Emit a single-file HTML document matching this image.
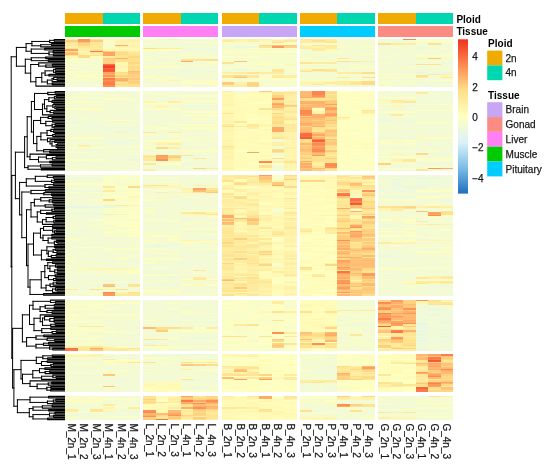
<!DOCTYPE html>
<html><head><meta charset="utf-8"><style>
html,body{margin:0;padding:0;background:#fff;}
body{width:550px;height:473px;overflow:hidden;position:relative;}
svg{position:absolute;left:0;top:0;font-family:"Liberation Sans",Arial,sans-serif;}
.lab{font-size:10px;fill:#1a1a1a;stroke:#1a1a1a;stroke-width:0.25px;}
.bt{font-size:10px;font-weight:bold;fill:#000;}
.lt{font-size:10px;fill:#1a1a1a;stroke:#1a1a1a;stroke-width:0.25px;}
</style></head><body>
<svg width="550" height="473" viewBox="0 0 550 473">
<g shape-rendering="crispEdges"><path fill="#feeda0" d="M65.0 38.90h12.5v1.45h-12.5zM221.6 40.35h12.5v1.45h-12.5zM271.6 40.35h12.5v1.45h-12.5zM299.9 40.35h12.5v1.45h-12.5zM299.9 41.80h12.5v1.45h-12.5zM90.0 47.61h12.5v1.45h-12.5zM168.3 47.61h12.5v1.45h-12.5zM312.4 49.06h12.5v1.45h-12.5zM102.5 56.32h12.5v1.45h-12.5zM312.4 62.12h12.5v1.45h-12.5zM234.1 72.28h12.5v1.45h-12.5zM259.1 72.28h12.5v1.45h-12.5zM337.4 72.28h25.0v1.45h-25.0zM271.6 75.19h12.5v1.45h-12.5zM284.1 76.64h12.5v1.45h-12.5zM349.9 80.99h12.5v1.45h-12.5zM324.9 82.45h12.5v1.45h-12.5zM234.1 85.35h12.5v1.45h-12.5zM415.7 92.35h12.5v1.45h-12.5zM284.1 101.06h12.5v1.45h-12.5zM390.7 101.06h12.5v1.45h-12.5zM284.1 109.76h12.5v1.45h-12.5zM362.4 111.21h12.5v1.45h-12.5zM234.1 125.72h12.5v1.45h-12.5zM284.1 125.72h12.5v1.45h-12.5zM168.3 131.53h12.5v1.45h-12.5zM221.6 147.49h12.5v1.45h-12.5zM324.9 154.74h12.5v1.45h-12.5zM312.4 164.90h12.5v1.45h-12.5zM205.8 167.80h12.5v1.45h-12.5zM246.6 178.84h12.5v1.45h-12.5zM259.1 183.17h12.5v1.45h-12.5zM234.1 188.95h12.5v1.45h-12.5zM221.6 199.07h12.5v1.45h-12.5zM234.1 201.96h12.5v1.45h-12.5zM234.1 204.85h12.5v1.45h-12.5zM246.6 210.63h12.5v1.45h-12.5zM221.6 212.08h12.5v1.45h-12.5zM246.6 212.08h12.5v1.45h-12.5zM259.1 214.97h12.5v1.45h-12.5zM362.4 214.97h12.5v1.45h-12.5zM234.1 220.75h12.5v1.45h-12.5zM415.7 220.75h12.5v1.45h-12.5zM324.9 226.53h12.5v1.45h-12.5zM299.9 229.42h12.5v1.45h-12.5zM324.9 229.42h12.5v1.45h-12.5zM271.6 230.86h12.5v1.45h-12.5zM324.9 232.31h12.5v1.45h-12.5zM221.6 233.75h12.5v1.45h-12.5zM234.1 235.20h12.5v1.45h-12.5zM234.1 236.65h12.5v1.45h-12.5zM234.1 239.54h12.5v1.45h-12.5zM246.6 240.98h12.5v1.45h-12.5zM234.1 242.43h12.5v1.45h-12.5zM221.6 249.65h12.5v1.45h-12.5zM221.6 252.54h12.5v1.45h-12.5zM284.1 255.43h12.5v1.45h-12.5zM284.1 258.32h12.5v1.45h-12.5zM234.1 261.21h12.5v1.45h-12.5zM246.6 269.89h25.0v1.45h-25.0zM271.6 271.33h12.5v1.45h-12.5zM312.4 274.22h12.5v1.45h-12.5zM440.7 275.67h12.5v1.45h-12.5zM234.1 278.56h12.5v1.45h-12.5zM259.1 280.00h12.5v1.45h-12.5zM415.7 281.45h12.5v1.45h-12.5zM259.1 282.89h12.5v1.45h-12.5zM246.6 284.34h12.5v1.45h-12.5zM259.1 285.78h12.5v1.45h-12.5zM246.6 288.67h12.5v1.45h-12.5zM246.6 290.12h12.5v1.45h-12.5zM246.6 293.01h12.5v1.45h-12.5zM271.6 302.41h12.5v1.46h-12.5zM337.4 309.70h12.5v1.46h-12.5zM362.4 309.70h12.5v1.46h-12.5zM77.5 325.73h25.0v1.46h-25.0zM180.8 327.19h12.5v1.46h-12.5zM205.8 327.19h12.5v1.46h-12.5zM155.8 338.84h12.5v1.46h-12.5zM390.7 344.67h12.5v1.46h-12.5zM312.4 346.13h12.5v1.46h-12.5zM77.5 347.59h12.5v1.46h-12.5zM102.5 347.59h12.5v1.46h-12.5zM378.2 349.04h12.5v1.46h-12.5zM102.5 358.69h12.5v1.43h-12.5zM390.7 362.98h12.5v1.43h-12.5zM349.9 365.85h12.5v1.43h-12.5zM415.7 368.71h12.5v1.43h-12.5zM349.9 371.57h25.0v1.43h-25.0zM349.9 374.43h12.5v1.43h-12.5zM324.9 380.15h12.5v1.43h-12.5zM415.7 380.15h12.5v1.43h-12.5zM390.7 381.58h12.5v1.43h-12.5zM168.3 401.51h12.5v1.45h-12.5zM127.5 407.32h12.5v1.45h-12.5zM168.3 407.32h12.5v1.45h-12.5zM65.0 410.23h12.5v1.45h-12.5zM180.8 413.14h12.5v1.45h-12.5zM205.8 418.95h12.5v1.45h-12.5z"/><path fill="#fd9457" d="M77.5 38.90h12.5v1.45h-12.5zM102.5 75.19h12.5v1.45h-12.5zM312.4 95.25h12.5v1.45h-12.5zM299.9 114.11h12.5v1.45h-12.5zM312.4 144.58h12.5v1.45h-12.5zM324.9 166.35h12.5v1.45h-12.5zM362.4 190.40h12.5v1.45h-12.5zM415.7 299.50h12.5v1.46h-12.5zM403.2 308.24h12.5v1.46h-12.5zM390.7 322.81h12.5v1.46h-12.5zM271.6 333.01h12.5v1.46h-12.5zM193.3 407.32h12.5v1.45h-12.5zM168.3 414.59h12.5v1.45h-12.5z"/><path fill="#fee797" d="M90.0 38.90h12.5v1.45h-12.5zM284.1 40.35h12.5v1.45h-12.5zM90.0 43.25h12.5v1.45h-12.5zM65.0 44.71h12.5v1.45h-12.5zM77.5 46.16h25.0v1.45h-25.0zM90.0 51.96h12.5v1.45h-12.5zM127.5 51.96h12.5v1.45h-12.5zM271.6 70.83h12.5v1.45h-12.5zM349.9 83.90h12.5v1.45h-12.5zM284.1 92.35h12.5v1.45h-12.5zM271.6 93.80h12.5v1.45h-12.5zM324.9 93.80h12.5v1.45h-12.5zM390.7 99.61h12.5v1.45h-12.5zM403.2 101.06h12.5v1.45h-12.5zM362.4 109.76h12.5v1.45h-12.5zM271.6 114.11h12.5v1.45h-12.5zM234.1 121.37h12.5v1.45h-12.5zM271.6 124.27h12.5v1.45h-12.5zM324.9 127.17h12.5v1.45h-12.5zM312.4 130.07h12.5v1.45h-12.5zM143.3 131.53h12.5v1.45h-12.5zM324.9 148.94h12.5v1.45h-12.5zM324.9 153.29h12.5v1.45h-12.5zM180.8 154.74h12.5v1.45h-12.5zM143.3 159.09h12.5v1.45h-12.5zM168.3 159.09h12.5v1.45h-12.5zM324.9 161.99h12.5v1.45h-12.5zM362.4 174.50h12.5v1.45h-12.5zM349.9 177.39h12.5v1.45h-12.5zM337.4 180.28h12.5v1.45h-12.5zM246.6 181.73h12.5v1.45h-12.5zM362.4 181.73h12.5v1.45h-12.5zM337.4 184.62h12.5v1.45h-12.5zM205.8 188.95h12.5v1.45h-12.5zM221.6 193.29h12.5v1.45h-12.5zM284.1 197.62h12.5v1.45h-12.5zM337.4 203.40h12.5v1.45h-12.5zM246.6 204.85h12.5v1.45h-12.5zM337.4 206.30h12.5v1.45h-12.5zM221.6 207.74h12.5v1.45h-12.5zM337.4 216.41h12.5v1.45h-12.5zM221.6 227.97h12.5v1.45h-12.5zM221.6 235.20h12.5v1.45h-12.5zM246.6 235.20h12.5v1.45h-12.5zM221.6 240.98h25.0v1.45h-25.0zM259.1 243.87h12.5v1.45h-12.5zM234.1 246.76h12.5v1.45h-12.5zM259.1 252.54h12.5v1.45h-12.5zM234.1 253.99h12.5v1.45h-12.5zM246.6 259.77h12.5v1.45h-12.5zM221.6 268.44h12.5v1.45h-12.5zM246.6 274.22h12.5v1.45h-12.5zM221.6 275.67h12.5v1.45h-12.5zM193.3 278.56h12.5v1.45h-12.5zM234.1 280.00h12.5v1.45h-12.5zM246.6 281.45h25.0v1.45h-25.0zM234.1 282.89h25.0v1.45h-25.0zM415.7 282.89h12.5v1.45h-12.5zM221.6 287.23h12.5v1.45h-12.5zM221.6 288.67h12.5v1.45h-12.5zM127.5 293.01h12.5v1.45h-12.5zM440.7 302.41h12.5v1.46h-12.5zM378.2 327.19h12.5v1.46h-12.5zM390.7 328.64h12.5v1.46h-12.5zM284.1 335.93h12.5v1.46h-12.5zM312.4 337.39h12.5v1.46h-12.5zM403.2 337.39h12.5v1.46h-12.5zM403.2 341.76h12.5v1.46h-12.5zM378.2 343.21h12.5v1.46h-12.5zM143.3 344.67h12.5v1.46h-12.5zM90.0 346.13h12.5v1.46h-12.5zM403.2 346.13h12.5v1.46h-12.5zM127.5 347.59h12.5v1.46h-12.5zM77.5 349.04h12.5v1.46h-12.5zM115.0 349.04h12.5v1.46h-12.5zM234.1 365.85h12.5v1.43h-12.5zM337.4 367.28h12.5v1.43h-12.5zM349.9 370.14h12.5v1.43h-12.5zM337.4 371.57h12.5v1.43h-12.5zM221.6 373.00h12.5v1.43h-12.5zM284.1 378.72h12.5v1.43h-12.5zM440.7 385.88h12.5v1.43h-12.5zM428.2 388.74h12.5v1.43h-12.5zM193.3 395.70h12.5v1.45h-12.5zM180.8 405.87h12.5v1.45h-12.5zM90.0 410.23h12.5v1.45h-12.5zM378.2 411.68h12.5v1.45h-12.5z"/><path fill="#fffbb9" d="M102.5 38.90h12.5v1.45h-12.5zM102.5 40.35h12.5v1.45h-12.5zM77.5 73.74h12.5v1.45h-12.5zM155.8 79.54h12.5v1.45h-12.5zM193.3 79.54h12.5v1.45h-12.5zM205.8 82.45h12.5v1.45h-12.5zM246.6 90.90h12.5v1.45h-12.5zM362.4 90.90h12.5v1.45h-12.5zM259.1 93.80h12.5v1.45h-12.5zM234.1 95.25h25.0v1.45h-25.0zM259.1 98.15h12.5v1.45h-12.5zM234.1 99.61h37.5v1.45h-37.5zM180.8 101.06h12.5v1.45h-12.5zM234.1 105.41h37.5v1.45h-37.5zM246.6 106.86h12.5v1.45h-12.5zM90.0 108.31h12.5v1.45h-12.5zM234.1 108.31h25.0v1.45h-25.0zM440.7 109.76h12.5v1.45h-12.5zM246.6 112.66h12.5v1.45h-12.5zM234.1 114.11h12.5v1.45h-12.5zM234.1 117.02h12.5v1.45h-12.5zM259.1 117.02h12.5v1.45h-12.5zM234.1 119.92h12.5v1.45h-12.5zM259.1 121.37h12.5v1.45h-12.5zM246.6 122.82h12.5v1.45h-12.5zM234.1 127.17h12.5v1.45h-12.5zM234.1 130.07h12.5v1.45h-12.5zM259.1 131.53h12.5v1.45h-12.5zM246.6 132.98h25.0v1.45h-25.0zM234.1 134.43h12.5v1.45h-12.5zM168.3 135.88h12.5v1.45h-12.5zM246.6 135.88h12.5v1.45h-12.5zM234.1 137.33h12.5v1.45h-12.5zM259.1 137.33h12.5v1.45h-12.5zM415.7 137.33h12.5v1.45h-12.5zM246.6 138.78h12.5v1.45h-12.5zM390.7 140.23h12.5v1.45h-12.5zM234.1 143.13h25.0v1.45h-25.0zM234.1 144.58h12.5v1.45h-12.5zM259.1 144.58h12.5v1.45h-12.5zM259.1 146.03h12.5v1.45h-12.5zM234.1 147.49h25.0v1.45h-25.0zM362.4 147.49h12.5v1.45h-12.5zM259.1 148.94h12.5v1.45h-12.5zM234.1 151.84h12.5v1.45h-12.5zM234.1 153.29h12.5v1.45h-12.5zM234.1 156.19h12.5v1.45h-12.5zM259.1 156.19h12.5v1.45h-12.5zM234.1 159.09h12.5v1.45h-12.5zM246.6 160.54h12.5v1.45h-12.5zM259.1 163.45h12.5v1.45h-12.5zM349.9 164.90h12.5v1.45h-12.5zM234.1 166.35h25.0v1.45h-25.0zM299.9 178.84h12.5v1.45h-12.5zM234.1 180.28h12.5v1.45h-12.5zM312.4 181.73h25.0v1.45h-25.0zM299.9 183.17h12.5v1.45h-12.5zM324.9 183.17h12.5v1.45h-12.5zM324.9 184.62h12.5v1.45h-12.5zM234.1 187.51h12.5v1.45h-12.5zM299.9 187.51h12.5v1.45h-12.5zM312.4 188.95h12.5v1.45h-12.5zM221.6 190.40h12.5v1.45h-12.5zM299.9 190.40h12.5v1.45h-12.5zM324.9 190.40h12.5v1.45h-12.5zM312.4 191.84h25.0v1.45h-25.0zM312.4 193.29h25.0v1.45h-25.0zM299.9 194.73h12.5v1.45h-12.5zM324.9 194.73h12.5v1.45h-12.5zM271.6 196.18h12.5v1.45h-12.5zM299.9 196.18h25.0v1.45h-25.0zM221.6 197.62h12.5v1.45h-12.5zM299.9 197.62h12.5v1.45h-12.5zM324.9 197.62h12.5v1.45h-12.5zM155.8 199.07h12.5v1.45h-12.5zM299.9 199.07h12.5v1.45h-12.5zM259.1 200.51h12.5v1.45h-12.5zM299.9 200.51h12.5v1.45h-12.5zM259.1 201.96h25.0v1.45h-25.0zM299.9 203.40h12.5v1.45h-12.5zM299.9 207.74h12.5v1.45h-12.5zM324.9 207.74h12.5v1.45h-12.5zM284.1 209.19h12.5v1.45h-12.5zM299.9 209.19h25.0v1.45h-25.0zM299.9 210.63h37.5v1.45h-37.5zM299.9 212.08h12.5v1.45h-12.5zM299.9 213.52h37.5v1.45h-37.5zM234.1 216.41h12.5v1.45h-12.5zM299.9 216.41h12.5v1.45h-12.5zM390.7 219.30h12.5v1.45h-12.5zM312.4 220.75h12.5v1.45h-12.5zM299.9 222.19h25.0v1.45h-25.0zM324.9 223.64h12.5v1.45h-12.5zM312.4 225.08h12.5v1.45h-12.5zM271.6 226.53h12.5v1.45h-12.5zM312.4 229.42h12.5v1.45h-12.5zM312.4 230.86h12.5v1.45h-12.5zM403.2 230.86h12.5v1.45h-12.5zM143.3 235.20h12.5v1.45h-12.5zM324.9 239.54h12.5v1.45h-12.5zM155.8 240.98h12.5v1.45h-12.5zM180.8 240.98h12.5v1.45h-12.5zM299.9 242.43h12.5v1.45h-12.5zM271.6 245.32h12.5v1.45h-12.5zM312.4 245.32h12.5v1.45h-12.5zM284.1 248.21h12.5v1.45h-12.5zM299.9 248.21h12.5v1.45h-12.5zM312.4 251.10h12.5v1.45h-12.5zM440.7 251.10h12.5v1.45h-12.5zM284.1 259.77h12.5v1.45h-12.5zM299.9 259.77h12.5v1.45h-12.5zM324.9 259.77h12.5v1.45h-12.5zM312.4 262.66h12.5v1.45h-12.5zM324.9 267.00h12.5v1.45h-12.5zM312.4 268.44h12.5v1.45h-12.5zM259.1 272.78h12.5v1.45h-12.5zM299.9 274.22h12.5v1.45h-12.5zM259.1 275.67h12.5v1.45h-12.5zM324.9 275.67h12.5v1.45h-12.5zM284.1 278.56h12.5v1.45h-12.5zM312.4 278.56h12.5v1.45h-12.5zM324.9 280.00h12.5v1.45h-12.5zM284.1 282.89h12.5v1.45h-12.5zM193.3 284.34h12.5v1.45h-12.5zM284.1 284.34h12.5v1.45h-12.5zM312.4 284.34h12.5v1.45h-12.5zM299.9 288.67h12.5v1.45h-12.5zM271.6 291.56h25.0v1.45h-25.0zM299.9 291.56h37.5v1.45h-37.5zM271.6 294.45h12.5v1.45h-12.5zM299.9 299.50h12.5v1.46h-12.5zM312.4 300.96h12.5v1.46h-12.5zM312.4 302.41h25.0v1.46h-25.0zM324.9 306.79h12.5v1.46h-12.5zM299.9 309.70h25.0v1.46h-25.0zM324.9 314.07h12.5v1.46h-12.5zM299.9 315.53h25.0v1.46h-25.0zM324.9 316.99h12.5v1.46h-12.5zM299.9 318.44h12.5v1.46h-12.5zM299.9 319.90h12.5v1.46h-12.5zM324.9 319.90h12.5v1.46h-12.5zM324.9 321.36h12.5v1.46h-12.5zM299.9 324.27h12.5v1.46h-12.5zM299.9 325.73h12.5v1.46h-12.5zM299.9 327.19h12.5v1.46h-12.5zM312.4 328.64h12.5v1.46h-12.5zM312.4 341.76h12.5v1.46h-12.5zM324.9 347.59h12.5v1.46h-12.5zM390.7 354.40h25.0v1.43h-25.0zM378.2 355.83h12.5v1.43h-12.5zM180.8 360.12h12.5v1.43h-12.5zM205.8 360.12h12.5v1.43h-12.5zM102.5 361.55h12.5v1.43h-12.5zM378.2 362.98h12.5v1.43h-12.5zM246.6 364.42h25.0v1.43h-25.0zM284.1 364.42h12.5v1.43h-12.5zM271.6 365.85h12.5v1.43h-12.5zM378.2 365.85h12.5v1.43h-12.5zM259.1 367.28h12.5v1.43h-12.5zM390.7 367.28h25.0v1.43h-25.0zM390.7 368.71h12.5v1.43h-12.5zM259.1 370.14h12.5v1.43h-12.5zM403.2 375.86h12.5v1.43h-12.5zM403.2 377.29h12.5v1.43h-12.5zM221.6 378.72h12.5v1.43h-12.5zM246.6 381.58h25.0v1.43h-25.0zM143.3 383.02h12.5v1.43h-12.5zM155.8 384.45h12.5v1.43h-12.5zM168.3 385.88h12.5v1.43h-12.5zM234.1 385.88h12.5v1.43h-12.5zM234.1 387.31h12.5v1.43h-12.5zM349.9 387.31h12.5v1.43h-12.5zM143.3 388.74h12.5v1.43h-12.5zM143.3 390.17h12.5v1.43h-12.5zM284.1 390.17h12.5v1.43h-12.5zM390.7 390.17h12.5v1.43h-12.5zM77.5 397.15h12.5v1.45h-12.5zM234.1 398.61h12.5v1.45h-12.5zM234.1 401.51h12.5v1.45h-12.5zM221.6 402.96h12.5v1.45h-12.5zM271.6 402.96h12.5v1.45h-12.5zM324.9 402.96h12.5v1.45h-12.5zM234.1 404.42h12.5v1.45h-12.5zM271.6 404.42h12.5v1.45h-12.5zM143.3 405.87h12.5v1.45h-12.5zM221.6 405.87h12.5v1.45h-12.5zM143.3 407.32h12.5v1.45h-12.5zM284.1 407.32h12.5v1.45h-12.5zM403.2 408.78h12.5v1.45h-12.5zM234.1 414.59h12.5v1.45h-12.5zM246.6 416.04h12.5v1.45h-12.5zM271.6 416.04h12.5v1.45h-12.5zM246.6 417.49h12.5v1.45h-12.5zM271.6 417.49h12.5v1.45h-12.5zM246.6 418.95h25.0v1.45h-25.0zM284.1 418.95h12.5v1.45h-12.5z"/><path fill="#fff6b0" d="M115.0 38.90h12.5v1.45h-12.5zM155.8 38.90h12.5v1.45h-12.5zM127.5 41.80h12.5v1.45h-12.5zM115.0 43.25h12.5v1.45h-12.5zM299.9 44.71h12.5v1.45h-12.5zM127.5 49.06h12.5v1.45h-12.5zM77.5 50.51h12.5v1.45h-12.5zM115.0 62.12h12.5v1.45h-12.5zM115.0 66.48h12.5v1.45h-12.5zM115.0 70.83h12.5v1.45h-12.5zM299.9 80.99h12.5v1.45h-12.5zM324.9 80.99h12.5v1.45h-12.5zM324.9 83.90h12.5v1.45h-12.5zM221.6 93.80h12.5v1.45h-12.5zM221.6 95.25h12.5v1.45h-12.5zM221.6 98.15h12.5v1.45h-12.5zM221.6 99.61h12.5v1.45h-12.5zM403.2 99.61h12.5v1.45h-12.5zM221.6 102.51h12.5v1.45h-12.5zM155.8 105.41h12.5v1.45h-12.5zM221.6 105.41h12.5v1.45h-12.5zM390.7 105.41h12.5v1.45h-12.5zM155.8 106.86h12.5v1.45h-12.5zM221.6 118.47h12.5v1.45h-12.5zM337.4 118.47h12.5v1.45h-12.5zM284.1 121.37h12.5v1.45h-12.5zM259.1 124.27h12.5v1.45h-12.5zM234.1 128.62h12.5v1.45h-12.5zM259.1 128.62h12.5v1.45h-12.5zM221.6 134.43h12.5v1.45h-12.5zM221.6 137.33h12.5v1.45h-12.5zM221.6 138.78h12.5v1.45h-12.5zM168.3 141.68h12.5v1.45h-12.5zM284.1 143.13h12.5v1.45h-12.5zM221.6 150.39h12.5v1.45h-12.5zM284.1 150.39h12.5v1.45h-12.5zM284.1 153.29h12.5v1.45h-12.5zM221.6 154.74h12.5v1.45h-12.5zM284.1 156.19h12.5v1.45h-12.5zM284.1 157.64h12.5v1.45h-12.5zM221.6 161.99h12.5v1.45h-12.5zM221.6 163.45h12.5v1.45h-12.5zM221.6 164.90h12.5v1.45h-12.5zM284.1 164.90h12.5v1.45h-12.5zM221.6 166.35h12.5v1.45h-12.5zM284.1 167.80h12.5v1.45h-12.5zM284.1 169.25h12.5v1.45h-12.5zM349.9 175.95h12.5v1.45h-12.5zM324.9 177.39h12.5v1.45h-12.5zM362.4 183.17h12.5v1.45h-12.5zM168.3 184.62h12.5v1.45h-12.5zM205.8 184.62h12.5v1.45h-12.5zM234.1 184.62h12.5v1.45h-12.5zM155.8 186.06h25.0v1.45h-25.0zM259.1 186.06h25.0v1.45h-25.0zM284.1 187.51h12.5v1.45h-12.5zM246.6 188.95h12.5v1.45h-12.5zM271.6 190.40h12.5v1.45h-12.5zM168.3 191.84h12.5v1.45h-12.5zM271.6 197.62h12.5v1.45h-12.5zM259.1 199.07h12.5v1.45h-12.5zM271.6 200.51h12.5v1.45h-12.5zM246.6 201.96h12.5v1.45h-12.5zM378.2 209.19h12.5v1.45h-12.5zM284.1 210.63h12.5v1.45h-12.5zM180.8 213.52h12.5v1.45h-12.5zM324.9 214.97h12.5v1.45h-12.5zM271.6 216.41h25.0v1.45h-25.0zM349.9 216.41h12.5v1.45h-12.5zM312.4 217.86h12.5v1.45h-12.5zM234.1 223.64h12.5v1.45h-12.5zM271.6 223.64h12.5v1.45h-12.5zM234.1 225.08h12.5v1.45h-12.5zM234.1 226.53h12.5v1.45h-12.5zM271.6 227.97h12.5v1.45h-12.5zM234.1 229.42h12.5v1.45h-12.5zM299.9 232.31h12.5v1.45h-12.5zM259.1 233.75h12.5v1.45h-12.5zM193.3 239.54h12.5v1.45h-12.5zM415.7 239.54h12.5v1.45h-12.5zM440.7 239.54h12.5v1.45h-12.5zM246.6 242.43h12.5v1.45h-12.5zM271.6 242.43h12.5v1.45h-12.5zM259.1 248.21h12.5v1.45h-12.5zM284.1 249.65h12.5v1.45h-12.5zM271.6 252.54h12.5v1.45h-12.5zM271.6 253.99h12.5v1.45h-12.5zM271.6 258.32h12.5v1.45h-12.5zM259.1 261.21h12.5v1.45h-12.5zM234.1 265.55h12.5v1.45h-12.5zM259.1 267.00h25.0v1.45h-25.0zM102.5 268.44h12.5v1.45h-12.5zM271.6 268.44h12.5v1.45h-12.5zM234.1 269.89h12.5v1.45h-12.5zM234.1 271.33h12.5v1.45h-12.5zM205.8 280.00h12.5v1.45h-12.5zM234.1 281.45h12.5v1.45h-12.5zM403.2 282.89h12.5v1.45h-12.5zM284.1 290.12h12.5v1.45h-12.5zM246.6 291.56h12.5v1.45h-12.5zM390.7 325.73h12.5v1.46h-12.5zM312.4 340.30h12.5v1.46h-12.5zM378.2 347.59h12.5v1.46h-12.5zM65.0 354.40h25.0v1.43h-25.0zM221.6 354.40h12.5v1.43h-12.5zM115.0 361.55h12.5v1.43h-12.5zM143.3 384.45h12.5v1.43h-12.5zM155.8 385.88h12.5v1.43h-12.5zM403.2 385.88h12.5v1.43h-12.5zM221.6 398.61h12.5v1.45h-12.5zM271.6 398.61h12.5v1.45h-12.5zM349.9 398.61h12.5v1.45h-12.5zM246.6 402.96h12.5v1.45h-12.5zM168.3 404.42h12.5v1.45h-12.5zM155.8 408.78h12.5v1.45h-12.5zM221.6 408.78h12.5v1.45h-12.5zM246.6 410.23h12.5v1.45h-12.5zM221.6 411.68h12.5v1.45h-12.5zM271.6 413.14h12.5v1.45h-12.5zM221.6 417.49h12.5v1.45h-12.5zM299.9 417.49h12.5v1.45h-12.5z"/><path fill="#fff4ad" d="M127.5 38.90h12.5v1.45h-12.5zM234.1 38.90h12.5v1.45h-12.5zM259.1 38.90h12.5v1.45h-12.5zM284.1 38.90h12.5v1.45h-12.5zM115.0 40.35h12.5v1.45h-12.5zM234.1 40.35h12.5v1.45h-12.5zM115.0 41.80h12.5v1.45h-12.5zM127.5 46.16h12.5v1.45h-12.5zM77.5 51.96h12.5v1.45h-12.5zM115.0 65.03h12.5v1.45h-12.5zM168.3 79.54h12.5v1.45h-12.5zM234.1 82.45h12.5v1.45h-12.5zM299.9 82.45h12.5v1.45h-12.5zM299.9 83.90h12.5v1.45h-12.5zM378.2 99.61h12.5v1.45h-12.5zM143.3 101.06h12.5v1.45h-12.5zM284.1 102.51h12.5v1.45h-12.5zM221.6 115.57h12.5v1.45h-12.5zM221.6 119.92h12.5v1.45h-12.5zM221.6 121.37h12.5v1.45h-12.5zM284.1 122.82h12.5v1.45h-12.5zM221.6 128.62h12.5v1.45h-12.5zM221.6 130.07h12.5v1.45h-12.5zM115.0 131.53h12.5v1.45h-12.5zM284.1 132.98h12.5v1.45h-12.5zM284.1 134.43h12.5v1.45h-12.5zM284.1 135.88h12.5v1.45h-12.5zM221.6 140.23h12.5v1.45h-12.5zM155.8 141.68h12.5v1.45h-12.5zM221.6 143.13h12.5v1.45h-12.5zM271.6 143.13h12.5v1.45h-12.5zM221.6 144.58h12.5v1.45h-12.5zM284.1 144.58h12.5v1.45h-12.5zM77.5 146.03h12.5v1.45h-12.5zM221.6 148.94h12.5v1.45h-12.5zM221.6 151.84h12.5v1.45h-12.5zM284.1 151.84h12.5v1.45h-12.5zM221.6 153.29h12.5v1.45h-12.5zM221.6 157.64h12.5v1.45h-12.5zM221.6 159.09h12.5v1.45h-12.5zM284.1 159.09h12.5v1.45h-12.5zM271.6 161.99h12.5v1.45h-12.5zM284.1 166.35h12.5v1.45h-12.5zM362.4 180.28h12.5v1.45h-12.5zM284.1 181.73h12.5v1.45h-12.5zM246.6 184.62h25.0v1.45h-25.0zM180.8 187.51h12.5v1.45h-12.5zM221.6 188.95h12.5v1.45h-12.5zM259.1 191.84h12.5v1.45h-12.5zM349.9 191.84h12.5v1.45h-12.5zM259.1 196.18h12.5v1.45h-12.5zM234.1 199.07h12.5v1.45h-12.5zM246.6 200.51h12.5v1.45h-12.5zM284.1 203.40h12.5v1.45h-12.5zM102.5 204.85h12.5v1.45h-12.5zM127.5 204.85h12.5v1.45h-12.5zM246.6 206.30h12.5v1.45h-12.5zM284.1 206.30h12.5v1.45h-12.5zM246.6 207.74h12.5v1.45h-12.5zM378.2 207.74h12.5v1.45h-12.5zM246.6 209.19h12.5v1.45h-12.5zM234.1 212.08h12.5v1.45h-12.5zM115.0 213.52h12.5v1.45h-12.5zM349.9 214.97h12.5v1.45h-12.5zM259.1 216.41h12.5v1.45h-12.5zM259.1 220.75h12.5v1.45h-12.5zM440.7 223.64h12.5v1.45h-12.5zM271.6 229.42h12.5v1.45h-12.5zM246.6 230.86h12.5v1.45h-12.5zM259.1 235.20h12.5v1.45h-12.5zM180.8 239.54h12.5v1.45h-12.5zM428.2 239.54h12.5v1.45h-12.5zM284.1 240.98h12.5v1.45h-12.5zM284.1 242.43h12.5v1.45h-12.5zM403.2 242.43h12.5v1.45h-12.5zM259.1 246.76h12.5v1.45h-12.5zM284.1 253.99h12.5v1.45h-12.5zM284.1 256.88h12.5v1.45h-12.5zM259.1 259.77h12.5v1.45h-12.5zM284.1 269.89h12.5v1.45h-12.5zM284.1 281.45h12.5v1.45h-12.5zM259.1 288.67h12.5v1.45h-12.5zM284.1 288.67h12.5v1.45h-12.5zM115.0 291.56h12.5v1.45h-12.5zM115.0 293.01h12.5v1.45h-12.5zM259.1 293.01h12.5v1.45h-12.5zM284.1 294.45h12.5v1.45h-12.5zM378.2 333.01h12.5v1.46h-12.5zM312.4 338.84h12.5v1.46h-12.5zM102.5 346.13h12.5v1.46h-12.5zM90.0 354.40h12.5v1.43h-12.5zM246.6 354.40h12.5v1.43h-12.5zM65.0 355.83h37.5v1.43h-37.5zM234.1 355.83h12.5v1.43h-12.5zM246.6 368.71h12.5v1.43h-12.5zM221.6 370.14h12.5v1.43h-12.5zM246.6 370.14h12.5v1.43h-12.5zM324.9 381.58h12.5v1.43h-12.5zM284.1 398.61h12.5v1.45h-12.5zM362.4 398.61h12.5v1.45h-12.5zM168.3 405.87h12.5v1.45h-12.5zM102.5 407.32h12.5v1.45h-12.5zM271.6 411.68h12.5v1.45h-12.5zM312.4 418.95h12.5v1.45h-12.5z"/><path fill="#fdfec2" d="M143.3 38.90h12.5v1.45h-12.5zM415.7 40.35h37.5v1.45h-37.5zM180.8 41.80h37.5v1.45h-37.5zM102.5 44.71h12.5v1.45h-12.5zM246.6 44.71h12.5v1.45h-12.5zM246.6 47.61h12.5v1.45h-12.5zM155.8 49.06h25.0v1.45h-25.0zM415.7 54.87h37.5v1.45h-37.5zM284.1 57.77h12.5v1.45h-12.5zM65.0 59.22h12.5v1.45h-12.5zM205.8 60.67h12.5v1.45h-12.5zM221.6 60.67h12.5v1.45h-12.5zM259.1 62.12h12.5v1.45h-12.5zM246.6 63.58h12.5v1.45h-12.5zM193.3 65.03h12.5v1.45h-12.5zM155.8 66.48h25.0v1.45h-25.0zM65.0 70.83h37.5v1.45h-37.5zM65.0 73.74h12.5v1.45h-12.5zM90.0 73.74h12.5v1.45h-12.5zM378.2 73.74h12.5v1.45h-12.5zM403.2 73.74h12.5v1.45h-12.5zM77.5 76.64h12.5v1.45h-12.5zM143.3 76.64h12.5v1.45h-12.5zM168.3 76.64h12.5v1.45h-12.5zM378.2 76.64h37.5v1.45h-37.5zM180.8 79.54h12.5v1.45h-12.5zM428.2 79.54h25.0v1.45h-25.0zM180.8 82.45h25.0v1.45h-25.0zM193.3 90.90h12.5v1.45h-12.5zM349.9 92.35h12.5v1.45h-12.5zM349.9 93.80h25.0v1.45h-25.0zM180.8 95.25h37.5v1.45h-37.5zM65.0 96.70h37.5v1.45h-37.5zM337.4 96.70h37.5v1.45h-37.5zM378.2 96.70h37.5v1.45h-37.5zM115.0 98.15h12.5v1.45h-12.5zM349.9 98.15h12.5v1.45h-12.5zM337.4 99.61h12.5v1.45h-12.5zM65.0 101.06h25.0v1.45h-25.0zM193.3 101.06h25.0v1.45h-25.0zM143.3 102.51h37.5v1.45h-37.5zM337.4 102.51h12.5v1.45h-12.5zM362.4 102.51h12.5v1.45h-12.5zM337.4 103.96h12.5v1.45h-12.5zM415.7 103.96h37.5v1.45h-37.5zM337.4 105.41h12.5v1.45h-12.5zM362.4 105.41h12.5v1.45h-12.5zM65.0 108.31h25.0v1.45h-25.0zM143.3 108.31h37.5v1.45h-37.5zM312.4 108.31h12.5v1.45h-12.5zM337.4 108.31h25.0v1.45h-25.0zM337.4 109.76h12.5v1.45h-12.5zM415.7 109.76h25.0v1.45h-25.0zM180.8 111.21h37.5v1.45h-37.5zM378.2 111.21h37.5v1.45h-37.5zM337.4 112.66h12.5v1.45h-12.5zM180.8 114.11h37.5v1.45h-37.5zM337.4 114.11h12.5v1.45h-12.5zM362.4 114.11h12.5v1.45h-12.5zM205.8 115.57h12.5v1.45h-12.5zM349.9 115.57h12.5v1.45h-12.5zM390.7 115.57h25.0v1.45h-25.0zM362.4 117.02h12.5v1.45h-12.5zM362.4 118.47h12.5v1.45h-12.5zM102.5 119.92h37.5v1.45h-37.5zM337.4 119.92h12.5v1.45h-12.5zM362.4 119.92h12.5v1.45h-12.5zM337.4 121.37h37.5v1.45h-37.5zM415.7 122.82h37.5v1.45h-37.5zM180.8 124.27h37.5v1.45h-37.5zM362.4 124.27h12.5v1.45h-12.5zM337.4 125.72h12.5v1.45h-12.5zM180.8 127.17h37.5v1.45h-37.5zM349.9 127.17h25.0v1.45h-25.0zM205.8 128.62h12.5v1.45h-12.5zM349.9 128.62h25.0v1.45h-25.0zM362.4 130.07h12.5v1.45h-12.5zM337.4 132.98h12.5v1.45h-12.5zM362.4 132.98h12.5v1.45h-12.5zM65.0 137.33h37.5v1.45h-37.5zM349.9 137.33h25.0v1.45h-25.0zM428.2 137.33h25.0v1.45h-25.0zM362.4 138.78h12.5v1.45h-12.5zM143.3 140.23h37.5v1.45h-37.5zM362.4 140.23h12.5v1.45h-12.5zM378.2 140.23h12.5v1.45h-12.5zM403.2 140.23h12.5v1.45h-12.5zM378.2 143.13h12.5v1.45h-12.5zM403.2 143.13h12.5v1.45h-12.5zM337.4 144.58h12.5v1.45h-12.5zM102.5 146.03h37.5v1.45h-37.5zM349.9 146.03h12.5v1.45h-12.5zM65.0 147.49h12.5v1.45h-12.5zM90.0 147.49h12.5v1.45h-12.5zM143.3 147.49h12.5v1.45h-12.5zM349.9 148.94h12.5v1.45h-12.5zM193.3 150.39h25.0v1.45h-25.0zM349.9 150.39h25.0v1.45h-25.0zM77.5 151.84h12.5v1.45h-12.5zM337.4 151.84h25.0v1.45h-25.0zM362.4 154.74h12.5v1.45h-12.5zM271.6 156.19h12.5v1.45h-12.5zM349.9 156.19h12.5v1.45h-12.5zM378.2 156.19h37.5v1.45h-37.5zM337.4 157.64h37.5v1.45h-37.5zM415.7 157.64h37.5v1.45h-37.5zM65.0 159.09h37.5v1.45h-37.5zM362.4 159.09h12.5v1.45h-12.5zM415.7 159.09h37.5v1.45h-37.5zM337.4 160.54h37.5v1.45h-37.5zM349.9 161.99h12.5v1.45h-12.5zM155.8 163.45h25.0v1.45h-25.0zM246.6 163.45h12.5v1.45h-12.5zM271.6 163.45h12.5v1.45h-12.5zM337.4 163.45h12.5v1.45h-12.5zM362.4 163.45h12.5v1.45h-12.5zM337.4 164.90h12.5v1.45h-12.5zM362.4 164.90h12.5v1.45h-12.5zM362.4 166.35h12.5v1.45h-12.5zM337.4 167.80h12.5v1.45h-12.5zM378.2 167.80h37.5v1.45h-37.5zM246.6 169.25h12.5v1.45h-12.5zM362.4 169.25h12.5v1.45h-12.5zM115.0 174.50h25.0v1.45h-25.0zM271.6 174.50h12.5v1.45h-12.5zM115.0 175.95h12.5v1.45h-12.5zM271.6 175.95h12.5v1.45h-12.5zM102.5 177.39h12.5v1.45h-12.5zM102.5 181.73h12.5v1.45h-12.5zM155.8 181.73h25.0v1.45h-25.0zM65.0 183.17h37.5v1.45h-37.5zM115.0 186.06h12.5v1.45h-12.5zM115.0 187.51h12.5v1.45h-12.5zM299.9 188.95h12.5v1.45h-12.5zM415.7 190.40h37.5v1.45h-37.5zM65.0 191.84h12.5v1.45h-12.5zM90.0 191.84h12.5v1.45h-12.5zM115.0 191.84h25.0v1.45h-25.0zM127.5 193.29h12.5v1.45h-12.5zM115.0 196.18h12.5v1.45h-12.5zM415.7 196.18h12.5v1.45h-12.5zM143.3 199.07h12.5v1.45h-12.5zM378.2 199.07h12.5v1.45h-12.5zM403.2 199.07h12.5v1.45h-12.5zM115.0 207.74h12.5v1.45h-12.5zM180.8 210.63h37.5v1.45h-37.5zM127.5 213.52h12.5v1.45h-12.5zM259.1 213.52h12.5v1.45h-12.5zM115.0 214.97h25.0v1.45h-25.0zM127.5 216.41h12.5v1.45h-12.5zM312.4 216.41h12.5v1.45h-12.5zM324.9 219.30h12.5v1.45h-12.5zM378.2 219.30h12.5v1.45h-12.5zM403.2 219.30h12.5v1.45h-12.5zM115.0 220.75h12.5v1.45h-12.5zM168.3 220.75h12.5v1.45h-12.5zM299.9 220.75h12.5v1.45h-12.5zM428.2 220.75h25.0v1.45h-25.0zM127.5 222.19h12.5v1.45h-12.5zM127.5 223.64h12.5v1.45h-12.5zM127.5 225.08h12.5v1.45h-12.5zM299.9 225.08h12.5v1.45h-12.5zM127.5 226.53h12.5v1.45h-12.5zM180.8 227.97h25.0v1.45h-25.0zM312.4 227.97h12.5v1.45h-12.5zM127.5 229.42h12.5v1.45h-12.5zM115.0 230.86h12.5v1.45h-12.5zM378.2 230.86h25.0v1.45h-25.0zM102.5 232.31h12.5v1.45h-12.5zM324.9 233.75h12.5v1.45h-12.5zM155.8 235.20h25.0v1.45h-25.0zM299.9 235.20h25.0v1.45h-25.0zM378.2 235.20h37.5v1.45h-37.5zM415.7 236.65h12.5v1.45h-12.5zM271.6 238.09h12.5v1.45h-12.5zM324.9 238.09h12.5v1.45h-12.5zM299.9 239.54h12.5v1.45h-12.5zM143.3 240.98h12.5v1.45h-12.5zM168.3 240.98h12.5v1.45h-12.5zM193.3 240.98h25.0v1.45h-25.0zM312.4 240.98h12.5v1.45h-12.5zM90.0 246.76h12.5v1.45h-12.5zM415.7 246.76h37.5v1.45h-37.5zM102.5 248.21h37.5v1.45h-37.5zM312.4 248.21h12.5v1.45h-12.5zM324.9 249.65h12.5v1.45h-12.5zM415.7 251.10h25.0v1.45h-25.0zM155.8 252.54h12.5v1.45h-12.5zM324.9 256.88h12.5v1.45h-12.5zM143.3 258.32h37.5v1.45h-37.5zM155.8 267.00h12.5v1.45h-12.5zM378.2 267.00h12.5v1.45h-12.5zM403.2 267.00h50.0v1.45h-50.0zM378.2 268.44h37.5v1.45h-37.5zM312.4 271.33h12.5v1.45h-12.5zM102.5 272.78h37.5v1.45h-37.5zM378.2 272.78h12.5v1.45h-12.5zM143.3 274.22h37.5v1.45h-37.5zM271.6 277.11h25.0v1.45h-25.0zM180.8 278.56h12.5v1.45h-12.5zM205.8 278.56h12.5v1.45h-12.5zM271.6 278.56h12.5v1.45h-12.5zM271.6 280.00h12.5v1.45h-12.5zM312.4 282.89h25.0v1.45h-25.0zM180.8 284.34h12.5v1.45h-12.5zM205.8 284.34h12.5v1.45h-12.5zM299.9 285.78h12.5v1.45h-12.5zM143.3 290.12h25.0v1.45h-25.0zM312.4 290.12h25.0v1.45h-25.0zM65.0 291.56h12.5v1.45h-12.5zM90.0 291.56h12.5v1.45h-12.5zM155.8 293.01h25.0v1.45h-25.0zM324.9 294.45h12.5v1.45h-12.5zM234.1 299.50h12.5v1.46h-12.5zM259.1 300.96h12.5v1.46h-12.5zM102.5 302.41h37.5v1.46h-37.5zM221.6 302.41h12.5v1.46h-12.5zM90.0 303.87h12.5v1.46h-12.5zM221.6 303.87h25.0v1.46h-25.0zM234.1 306.79h12.5v1.46h-12.5zM65.0 308.24h12.5v1.46h-12.5zM271.6 308.24h12.5v1.46h-12.5zM234.1 309.70h12.5v1.46h-12.5zM284.1 309.70h12.5v1.46h-12.5zM221.6 311.16h12.5v1.46h-12.5zM180.8 312.61h25.0v1.46h-25.0zM65.0 314.07h12.5v1.46h-12.5zM102.5 314.07h37.5v1.46h-37.5zM284.1 318.44h12.5v1.46h-12.5zM180.8 319.90h12.5v1.46h-12.5zM234.1 319.90h12.5v1.46h-12.5zM284.1 319.90h12.5v1.46h-12.5zM221.6 321.36h25.0v1.46h-25.0zM234.1 322.81h12.5v1.46h-12.5zM271.6 322.81h12.5v1.46h-12.5zM221.6 324.27h12.5v1.46h-12.5zM234.1 325.73h25.0v1.46h-25.0zM271.6 325.73h12.5v1.46h-12.5zM193.3 327.19h12.5v1.46h-12.5zM259.1 327.19h25.0v1.46h-25.0zM246.6 328.64h12.5v1.46h-12.5zM284.1 328.64h12.5v1.46h-12.5zM180.8 330.10h37.5v1.46h-37.5zM102.5 331.56h37.5v1.46h-37.5zM234.1 331.56h12.5v1.46h-12.5zM259.1 331.56h12.5v1.46h-12.5zM221.6 333.01h12.5v1.46h-12.5zM259.1 333.01h12.5v1.46h-12.5zM271.6 334.47h25.0v1.46h-25.0zM234.1 338.84h12.5v1.46h-12.5zM259.1 338.84h12.5v1.46h-12.5zM221.6 340.30h25.0v1.46h-25.0zM259.1 340.30h12.5v1.46h-12.5zM221.6 341.76h12.5v1.46h-12.5zM271.6 341.76h25.0v1.46h-25.0zM246.6 343.21h12.5v1.46h-12.5zM246.6 344.67h12.5v1.46h-12.5zM143.3 346.13h37.5v1.46h-37.5zM259.1 354.40h12.5v1.43h-12.5zM284.1 354.40h12.5v1.43h-12.5zM362.4 354.40h12.5v1.43h-12.5zM337.4 355.83h12.5v1.43h-12.5zM143.3 357.26h25.0v1.43h-25.0zM337.4 357.26h25.0v1.43h-25.0zM234.1 358.69h12.5v1.43h-12.5zM362.4 358.69h12.5v1.43h-12.5zM102.5 360.12h37.5v1.43h-37.5zM193.3 360.12h12.5v1.43h-12.5zM234.1 360.12h25.0v1.43h-25.0zM271.6 360.12h12.5v1.43h-12.5zM349.9 360.12h25.0v1.43h-25.0zM155.8 361.55h25.0v1.43h-25.0zM271.6 361.55h12.5v1.43h-12.5zM337.4 361.55h25.0v1.43h-25.0zM102.5 362.98h37.5v1.43h-37.5zM221.6 362.98h12.5v1.43h-12.5zM271.6 362.98h12.5v1.43h-12.5zM271.6 364.42h12.5v1.43h-12.5zM337.4 364.42h12.5v1.43h-12.5zM390.7 364.42h12.5v1.43h-12.5zM259.1 365.85h12.5v1.43h-12.5zM284.1 367.28h12.5v1.43h-12.5zM193.3 368.71h25.0v1.43h-25.0zM271.6 371.57h12.5v1.43h-12.5zM65.0 373.00h37.5v1.43h-37.5zM271.6 373.00h12.5v1.43h-12.5zM390.7 378.72h12.5v1.43h-12.5zM234.1 380.15h37.5v1.43h-37.5zM271.6 381.58h12.5v1.43h-12.5zM337.4 381.58h25.0v1.43h-25.0zM246.6 383.02h12.5v1.43h-12.5zM284.1 383.02h12.5v1.43h-12.5zM259.1 384.45h25.0v1.43h-25.0zM349.9 384.45h25.0v1.43h-25.0zM246.6 385.88h25.0v1.43h-25.0zM246.6 387.31h12.5v1.43h-12.5zM271.6 387.31h12.5v1.43h-12.5zM234.1 388.74h12.5v1.43h-12.5zM259.1 388.74h12.5v1.43h-12.5zM390.7 388.74h12.5v1.43h-12.5zM180.8 390.17h37.5v1.43h-37.5zM221.6 390.17h25.0v1.43h-25.0zM271.6 390.17h12.5v1.43h-12.5zM349.9 390.17h12.5v1.43h-12.5zM65.0 397.15h12.5v1.45h-12.5zM299.9 397.15h37.5v1.45h-37.5zM102.5 398.61h37.5v1.45h-37.5zM65.0 400.06h37.5v1.45h-37.5zM155.8 400.06h12.5v1.45h-12.5zM65.0 402.96h37.5v1.45h-37.5zM312.4 402.96h12.5v1.45h-12.5zM415.7 402.96h37.5v1.45h-37.5zM102.5 405.87h37.5v1.45h-37.5zM415.7 407.32h37.5v1.45h-37.5zM390.7 408.78h12.5v1.45h-12.5zM65.0 411.68h37.5v1.45h-37.5zM299.9 411.68h37.5v1.45h-37.5zM115.0 416.04h25.0v1.45h-25.0zM415.7 416.04h37.5v1.45h-37.5z"/><path fill="#fff2aa" d="M168.3 38.90h12.5v1.45h-12.5zM221.6 38.90h12.5v1.45h-12.5zM127.5 44.71h12.5v1.45h-12.5zM115.0 46.16h12.5v1.45h-12.5zM312.4 46.16h12.5v1.45h-12.5zM77.5 53.42h12.5v1.45h-12.5zM415.7 57.77h12.5v1.45h-12.5zM312.4 70.83h12.5v1.45h-12.5zM312.4 82.45h12.5v1.45h-12.5zM284.1 98.15h12.5v1.45h-12.5zM221.6 103.96h12.5v1.45h-12.5zM284.1 106.86h12.5v1.45h-12.5zM312.4 111.21h12.5v1.45h-12.5zM312.4 112.66h12.5v1.45h-12.5zM362.4 112.66h12.5v1.45h-12.5zM284.1 114.11h12.5v1.45h-12.5zM284.1 119.92h12.5v1.45h-12.5zM284.1 131.53h12.5v1.45h-12.5zM284.1 137.33h12.5v1.45h-12.5zM284.1 141.68h12.5v1.45h-12.5zM155.8 143.13h12.5v1.45h-12.5zM284.1 154.74h12.5v1.45h-12.5zM221.6 156.19h12.5v1.45h-12.5zM390.7 159.09h12.5v1.45h-12.5zM390.7 160.54h12.5v1.45h-12.5zM284.1 163.45h12.5v1.45h-12.5zM349.9 178.84h12.5v1.45h-12.5zM284.1 183.17h12.5v1.45h-12.5zM193.3 184.62h12.5v1.45h-12.5zM221.6 184.62h12.5v1.45h-12.5zM284.1 184.62h12.5v1.45h-12.5zM143.3 186.06h12.5v1.45h-12.5zM221.6 186.06h12.5v1.45h-12.5zM180.8 188.95h12.5v1.45h-12.5zM362.4 188.95h12.5v1.45h-12.5zM180.8 191.84h12.5v1.45h-12.5zM284.1 193.29h12.5v1.45h-12.5zM246.6 194.73h12.5v1.45h-12.5zM284.1 199.07h12.5v1.45h-12.5zM234.1 200.51h12.5v1.45h-12.5zM221.6 206.30h25.0v1.45h-25.0zM205.8 212.08h12.5v1.45h-12.5zM193.3 213.52h12.5v1.45h-12.5zM415.7 223.64h12.5v1.45h-12.5zM246.6 225.08h12.5v1.45h-12.5zM246.6 226.53h12.5v1.45h-12.5zM234.1 227.97h25.0v1.45h-25.0zM299.9 227.97h12.5v1.45h-12.5zM284.1 229.42h12.5v1.45h-12.5zM259.1 230.86h12.5v1.45h-12.5zM284.1 230.86h12.5v1.45h-12.5zM246.6 232.31h12.5v1.45h-12.5zM246.6 233.75h12.5v1.45h-12.5zM284.1 235.20h12.5v1.45h-12.5zM246.6 236.65h12.5v1.45h-12.5zM284.1 238.09h12.5v1.45h-12.5zM390.7 242.43h12.5v1.45h-12.5zM284.1 251.10h12.5v1.45h-12.5zM259.1 255.43h12.5v1.45h-12.5zM221.6 256.88h12.5v1.45h-12.5zM284.1 261.21h12.5v1.45h-12.5zM324.9 262.66h12.5v1.45h-12.5zM259.1 265.55h12.5v1.45h-12.5zM234.1 267.00h25.0v1.45h-25.0zM234.1 268.44h12.5v1.45h-12.5zM284.1 268.44h12.5v1.45h-12.5zM246.6 272.78h12.5v1.45h-12.5zM284.1 275.67h12.5v1.45h-12.5zM428.2 275.67h12.5v1.45h-12.5zM349.9 280.00h12.5v1.45h-12.5zM428.2 282.89h12.5v1.45h-12.5zM259.1 287.23h12.5v1.45h-12.5zM221.6 291.56h12.5v1.45h-12.5zM284.1 293.01h12.5v1.45h-12.5zM390.7 327.19h12.5v1.46h-12.5zM65.0 346.13h12.5v1.46h-12.5zM246.6 355.83h12.5v1.43h-12.5zM403.2 361.55h12.5v1.43h-12.5zM440.7 395.70h12.5v1.45h-12.5zM221.6 397.15h12.5v1.45h-12.5zM349.9 397.15h25.0v1.45h-25.0zM324.9 417.49h12.5v1.45h-12.5zM180.8 418.95h12.5v1.45h-12.5z"/><path fill="#f3fad4" d="M180.8 38.90h37.5v1.45h-37.5zM271.6 38.90h12.5v1.45h-12.5zM415.7 38.90h37.5v1.45h-37.5zM143.3 40.35h75.0v1.45h-75.0zM378.2 40.35h25.0v1.45h-25.0zM143.3 41.80h37.5v1.45h-37.5zM390.7 41.80h12.5v1.45h-12.5zM415.7 41.80h37.5v1.45h-37.5zM155.8 43.25h25.0v1.45h-25.0zM440.7 43.25h12.5v1.45h-12.5zM143.3 44.71h75.0v1.45h-75.0zM378.2 44.71h75.0v1.45h-75.0zM143.3 46.16h50.0v1.45h-50.0zM205.8 46.16h12.5v1.45h-12.5zM221.6 46.16h12.5v1.45h-12.5zM403.2 46.16h12.5v1.45h-12.5zM428.2 46.16h25.0v1.45h-25.0zM378.2 47.61h37.5v1.45h-37.5zM440.7 47.61h12.5v1.45h-12.5zM390.7 49.06h12.5v1.45h-12.5zM415.7 49.06h37.5v1.45h-37.5zM143.3 50.51h75.0v1.45h-75.0zM378.2 50.51h75.0v1.45h-75.0zM143.3 51.96h25.0v1.45h-25.0zM180.8 51.96h12.5v1.45h-12.5zM205.8 51.96h12.5v1.45h-12.5zM378.2 51.96h75.0v1.45h-75.0zM143.3 53.42h37.5v1.45h-37.5zM205.8 53.42h12.5v1.45h-12.5zM378.2 53.42h62.5v1.45h-62.5zM143.3 54.87h37.5v1.45h-37.5zM193.3 54.87h25.0v1.45h-25.0zM221.6 54.87h37.5v1.45h-37.5zM378.2 54.87h12.5v1.45h-12.5zM403.2 54.87h12.5v1.45h-12.5zM390.7 56.32h25.0v1.45h-25.0zM143.3 57.77h37.5v1.45h-37.5zM221.6 57.77h37.5v1.45h-37.5zM378.2 57.77h37.5v1.45h-37.5zM440.7 57.77h12.5v1.45h-12.5zM168.3 59.22h12.5v1.45h-12.5zM378.2 59.22h75.0v1.45h-75.0zM155.8 60.67h12.5v1.45h-12.5zM378.2 60.67h25.0v1.45h-25.0zM143.3 62.12h12.5v1.45h-12.5zM180.8 62.12h25.0v1.45h-25.0zM390.7 62.12h50.0v1.45h-50.0zM143.3 63.58h75.0v1.45h-75.0zM378.2 63.58h37.5v1.45h-37.5zM440.7 63.58h12.5v1.45h-12.5zM234.1 65.03h25.0v1.45h-25.0zM378.2 65.03h25.0v1.45h-25.0zM415.7 65.03h37.5v1.45h-37.5zM65.0 66.48h37.5v1.45h-37.5zM180.8 66.48h37.5v1.45h-37.5zM378.2 66.48h25.0v1.45h-25.0zM428.2 66.48h25.0v1.45h-25.0zM77.5 67.93h12.5v1.45h-12.5zM143.3 67.93h75.0v1.45h-75.0zM378.2 67.93h75.0v1.45h-75.0zM65.0 69.38h37.5v1.45h-37.5zM143.3 69.38h25.0v1.45h-25.0zM205.8 69.38h12.5v1.45h-12.5zM221.6 69.38h12.5v1.45h-12.5zM246.6 69.38h12.5v1.45h-12.5zM390.7 69.38h62.5v1.45h-62.5zM143.3 70.83h37.5v1.45h-37.5zM221.6 70.83h37.5v1.45h-37.5zM378.2 70.83h75.0v1.45h-75.0zM143.3 72.28h50.0v1.45h-50.0zM205.8 72.28h12.5v1.45h-12.5zM284.1 72.28h12.5v1.45h-12.5zM378.2 72.28h37.5v1.45h-37.5zM143.3 73.74h62.5v1.45h-62.5zM259.1 73.74h37.5v1.45h-37.5zM415.7 73.74h12.5v1.45h-12.5zM155.8 75.19h62.5v1.45h-62.5zM378.2 75.19h37.5v1.45h-37.5zM428.2 75.19h12.5v1.45h-12.5zM428.2 76.64h12.5v1.45h-12.5zM143.3 78.09h12.5v1.45h-12.5zM180.8 78.09h37.5v1.45h-37.5zM378.2 78.09h75.0v1.45h-75.0zM143.3 79.54h12.5v1.45h-12.5zM143.3 80.99h75.0v1.45h-75.0zM259.1 80.99h37.5v1.45h-37.5zM378.2 80.99h25.0v1.45h-25.0zM415.7 80.99h37.5v1.45h-37.5zM65.0 82.45h12.5v1.45h-12.5zM90.0 82.45h12.5v1.45h-12.5zM143.3 82.45h37.5v1.45h-37.5zM390.7 82.45h25.0v1.45h-25.0zM143.3 83.90h62.5v1.45h-62.5zM378.2 83.90h25.0v1.45h-25.0zM415.7 83.90h25.0v1.45h-25.0zM65.0 85.35h37.5v1.45h-37.5zM143.3 85.35h37.5v1.45h-37.5zM193.3 85.35h25.0v1.45h-25.0zM390.7 85.35h25.0v1.45h-25.0zM65.0 90.90h75.0v1.45h-75.0zM143.3 90.90h12.5v1.45h-12.5zM168.3 90.90h12.5v1.45h-12.5zM234.1 90.90h12.5v1.45h-12.5zM271.6 90.90h12.5v1.45h-12.5zM378.2 90.90h12.5v1.45h-12.5zM403.2 90.90h12.5v1.45h-12.5zM65.0 92.35h12.5v1.45h-12.5zM102.5 92.35h37.5v1.45h-37.5zM378.2 92.35h37.5v1.45h-37.5zM428.2 92.35h25.0v1.45h-25.0zM65.0 93.80h25.0v1.45h-25.0zM102.5 93.80h37.5v1.45h-37.5zM143.3 93.80h12.5v1.45h-12.5zM180.8 93.80h37.5v1.45h-37.5zM378.2 93.80h62.5v1.45h-62.5zM65.0 95.25h25.0v1.45h-25.0zM127.5 95.25h12.5v1.45h-12.5zM143.3 95.25h25.0v1.45h-25.0zM378.2 95.25h75.0v1.45h-75.0zM102.5 96.70h37.5v1.45h-37.5zM143.3 96.70h25.0v1.45h-25.0zM180.8 96.70h37.5v1.45h-37.5zM415.7 96.70h37.5v1.45h-37.5zM65.0 98.15h37.5v1.45h-37.5zM143.3 98.15h75.0v1.45h-75.0zM378.2 98.15h37.5v1.45h-37.5zM77.5 99.61h25.0v1.45h-25.0zM155.8 99.61h25.0v1.45h-25.0zM415.7 99.61h12.5v1.45h-12.5zM440.7 99.61h12.5v1.45h-12.5zM102.5 101.06h37.5v1.45h-37.5zM155.8 101.06h12.5v1.45h-12.5zM415.7 101.06h37.5v1.45h-37.5zM65.0 102.51h75.0v1.45h-75.0zM180.8 102.51h37.5v1.45h-37.5zM415.7 102.51h37.5v1.45h-37.5zM65.0 103.96h12.5v1.45h-12.5zM102.5 103.96h37.5v1.45h-37.5zM180.8 103.96h12.5v1.45h-12.5zM390.7 103.96h25.0v1.45h-25.0zM77.5 105.41h12.5v1.45h-12.5zM102.5 105.41h37.5v1.45h-37.5zM168.3 105.41h12.5v1.45h-12.5zM378.2 105.41h12.5v1.45h-12.5zM415.7 105.41h37.5v1.45h-37.5zM65.0 106.86h62.5v1.45h-62.5zM143.3 106.86h12.5v1.45h-12.5zM168.3 106.86h12.5v1.45h-12.5zM193.3 106.86h25.0v1.45h-25.0zM102.5 108.31h37.5v1.45h-37.5zM180.8 108.31h37.5v1.45h-37.5zM378.2 108.31h75.0v1.45h-75.0zM65.0 109.76h25.0v1.45h-25.0zM102.5 109.76h12.5v1.45h-12.5zM127.5 109.76h12.5v1.45h-12.5zM143.3 109.76h12.5v1.45h-12.5zM168.3 109.76h50.0v1.45h-50.0zM65.0 111.21h75.0v1.45h-75.0zM143.3 111.21h37.5v1.45h-37.5zM415.7 111.21h37.5v1.45h-37.5zM65.0 112.66h75.0v1.45h-75.0zM155.8 112.66h25.0v1.45h-25.0zM378.2 112.66h75.0v1.45h-75.0zM65.0 114.11h75.0v1.45h-75.0zM143.3 114.11h12.5v1.45h-12.5zM168.3 114.11h12.5v1.45h-12.5zM403.2 114.11h50.0v1.45h-50.0zM65.0 115.57h37.5v1.45h-37.5zM115.0 115.57h12.5v1.45h-12.5zM143.3 115.57h37.5v1.45h-37.5zM193.3 115.57h12.5v1.45h-12.5zM65.0 117.02h75.0v1.45h-75.0zM143.3 117.02h50.0v1.45h-50.0zM205.8 117.02h12.5v1.45h-12.5zM378.2 117.02h75.0v1.45h-75.0zM90.0 118.47h50.0v1.45h-50.0zM143.3 118.47h50.0v1.45h-50.0zM205.8 118.47h12.5v1.45h-12.5zM390.7 118.47h62.5v1.45h-62.5zM65.0 119.92h37.5v1.45h-37.5zM143.3 119.92h75.0v1.45h-75.0zM415.7 119.92h37.5v1.45h-37.5zM77.5 121.37h62.5v1.45h-62.5zM143.3 121.37h75.0v1.45h-75.0zM127.5 122.82h12.5v1.45h-12.5zM143.3 122.82h25.0v1.45h-25.0zM180.8 122.82h37.5v1.45h-37.5zM65.0 124.27h25.0v1.45h-25.0zM102.5 124.27h37.5v1.45h-37.5zM143.3 124.27h25.0v1.45h-25.0zM378.2 124.27h75.0v1.45h-75.0zM65.0 125.72h75.0v1.45h-75.0zM155.8 125.72h12.5v1.45h-12.5zM180.8 125.72h37.5v1.45h-37.5zM378.2 125.72h75.0v1.45h-75.0zM403.2 127.17h50.0v1.45h-50.0zM65.0 128.62h75.0v1.45h-75.0zM143.3 128.62h12.5v1.45h-12.5zM168.3 128.62h12.5v1.45h-12.5zM378.2 128.62h75.0v1.45h-75.0zM65.0 130.07h37.5v1.45h-37.5zM143.3 130.07h75.0v1.45h-75.0zM390.7 130.07h12.5v1.45h-12.5zM440.7 130.07h12.5v1.45h-12.5zM65.0 131.53h12.5v1.45h-12.5zM102.5 131.53h12.5v1.45h-12.5zM127.5 131.53h12.5v1.45h-12.5zM155.8 131.53h12.5v1.45h-12.5zM180.8 131.53h37.5v1.45h-37.5zM378.2 131.53h75.0v1.45h-75.0zM65.0 132.98h75.0v1.45h-75.0zM143.3 132.98h25.0v1.45h-25.0zM193.3 132.98h25.0v1.45h-25.0zM378.2 132.98h75.0v1.45h-75.0zM65.0 134.43h75.0v1.45h-75.0zM180.8 134.43h37.5v1.45h-37.5zM378.2 134.43h75.0v1.45h-75.0zM65.0 135.88h12.5v1.45h-12.5zM90.0 135.88h50.0v1.45h-50.0zM143.3 135.88h25.0v1.45h-25.0zM180.8 135.88h25.0v1.45h-25.0zM378.2 135.88h75.0v1.45h-75.0zM102.5 137.33h25.0v1.45h-25.0zM143.3 137.33h37.5v1.45h-37.5zM205.8 137.33h12.5v1.45h-12.5zM65.0 138.78h12.5v1.45h-12.5zM102.5 138.78h25.0v1.45h-25.0zM143.3 138.78h12.5v1.45h-12.5zM168.3 138.78h12.5v1.45h-12.5zM193.3 138.78h25.0v1.45h-25.0zM271.6 138.78h12.5v1.45h-12.5zM378.2 138.78h12.5v1.45h-12.5zM403.2 138.78h50.0v1.45h-50.0zM65.0 140.23h37.5v1.45h-37.5zM271.6 140.23h12.5v1.45h-12.5zM415.7 140.23h37.5v1.45h-37.5zM65.0 141.68h37.5v1.45h-37.5zM127.5 141.68h12.5v1.45h-12.5zM143.3 141.68h12.5v1.45h-12.5zM180.8 141.68h37.5v1.45h-37.5zM390.7 141.68h25.0v1.45h-25.0zM428.2 141.68h25.0v1.45h-25.0zM65.0 143.13h50.0v1.45h-50.0zM127.5 143.13h12.5v1.45h-12.5zM180.8 143.13h12.5v1.45h-12.5zM205.8 143.13h12.5v1.45h-12.5zM415.7 143.13h25.0v1.45h-25.0zM65.0 144.58h12.5v1.45h-12.5zM90.0 144.58h37.5v1.45h-37.5zM155.8 144.58h37.5v1.45h-37.5zM205.8 144.58h12.5v1.45h-12.5zM378.2 144.58h50.0v1.45h-50.0zM440.7 144.58h12.5v1.45h-12.5zM65.0 146.03h12.5v1.45h-12.5zM90.0 146.03h12.5v1.45h-12.5zM143.3 146.03h50.0v1.45h-50.0zM205.8 146.03h12.5v1.45h-12.5zM378.2 146.03h75.0v1.45h-75.0zM102.5 147.49h37.5v1.45h-37.5zM180.8 147.49h25.0v1.45h-25.0zM378.2 147.49h75.0v1.45h-75.0zM143.3 148.94h75.0v1.45h-75.0zM378.2 148.94h37.5v1.45h-37.5zM428.2 148.94h25.0v1.45h-25.0zM65.0 150.39h37.5v1.45h-37.5zM143.3 150.39h12.5v1.45h-12.5zM168.3 150.39h12.5v1.45h-12.5zM415.7 150.39h12.5v1.45h-12.5zM440.7 150.39h12.5v1.45h-12.5zM90.0 151.84h12.5v1.45h-12.5zM115.0 151.84h12.5v1.45h-12.5zM143.3 151.84h25.0v1.45h-25.0zM180.8 151.84h37.5v1.45h-37.5zM390.7 151.84h62.5v1.45h-62.5zM65.0 153.29h62.5v1.45h-62.5zM143.3 153.29h75.0v1.45h-75.0zM271.6 153.29h12.5v1.45h-12.5zM403.2 153.29h12.5v1.45h-12.5zM65.0 154.74h37.5v1.45h-37.5zM115.0 154.74h25.0v1.45h-25.0zM271.6 154.74h12.5v1.45h-12.5zM428.2 154.74h25.0v1.45h-25.0zM65.0 156.19h12.5v1.45h-12.5zM102.5 156.19h37.5v1.45h-37.5zM193.3 156.19h12.5v1.45h-12.5zM415.7 156.19h37.5v1.45h-37.5zM65.0 157.64h37.5v1.45h-37.5zM115.0 157.64h25.0v1.45h-25.0zM180.8 157.64h12.5v1.45h-12.5zM205.8 157.64h12.5v1.45h-12.5zM378.2 157.64h37.5v1.45h-37.5zM180.8 159.09h37.5v1.45h-37.5zM271.6 159.09h12.5v1.45h-12.5zM65.0 160.54h50.0v1.45h-50.0zM143.3 160.54h37.5v1.45h-37.5zM193.3 160.54h25.0v1.45h-25.0zM415.7 160.54h37.5v1.45h-37.5zM65.0 161.99h12.5v1.45h-12.5zM90.0 161.99h12.5v1.45h-12.5zM143.3 161.99h25.0v1.45h-25.0zM180.8 161.99h37.5v1.45h-37.5zM415.7 161.99h37.5v1.45h-37.5zM65.0 163.45h75.0v1.45h-75.0zM193.3 163.45h25.0v1.45h-25.0zM390.7 163.45h25.0v1.45h-25.0zM65.0 164.90h75.0v1.45h-75.0zM143.3 164.90h12.5v1.45h-12.5zM168.3 164.90h50.0v1.45h-50.0zM271.6 164.90h12.5v1.45h-12.5zM378.2 164.90h75.0v1.45h-75.0zM65.0 166.35h37.5v1.45h-37.5zM115.0 166.35h12.5v1.45h-12.5zM143.3 166.35h12.5v1.45h-12.5zM168.3 166.35h37.5v1.45h-37.5zM271.6 166.35h12.5v1.45h-12.5zM378.2 166.35h12.5v1.45h-12.5zM403.2 166.35h25.0v1.45h-25.0zM440.7 166.35h12.5v1.45h-12.5zM77.5 167.80h62.5v1.45h-62.5zM143.3 167.80h25.0v1.45h-25.0zM180.8 167.80h12.5v1.45h-12.5zM271.6 167.80h12.5v1.45h-12.5zM415.7 167.80h12.5v1.45h-12.5zM65.0 169.25h12.5v1.45h-12.5zM90.0 169.25h50.0v1.45h-50.0zM155.8 169.25h37.5v1.45h-37.5zM205.8 169.25h12.5v1.45h-12.5zM378.2 169.25h37.5v1.45h-37.5zM428.2 169.25h25.0v1.45h-25.0zM143.3 174.50h75.0v1.45h-75.0zM378.2 174.50h75.0v1.45h-75.0zM65.0 175.95h37.5v1.45h-37.5zM143.3 175.95h75.0v1.45h-75.0zM415.7 175.95h12.5v1.45h-12.5zM440.7 175.95h12.5v1.45h-12.5zM180.8 177.39h12.5v1.45h-12.5zM143.3 178.84h75.0v1.45h-75.0zM403.2 178.84h12.5v1.45h-12.5zM428.2 178.84h12.5v1.45h-12.5zM65.0 180.28h37.5v1.45h-37.5zM143.3 180.28h50.0v1.45h-50.0zM205.8 180.28h12.5v1.45h-12.5zM403.2 180.28h12.5v1.45h-12.5zM65.0 181.73h37.5v1.45h-37.5zM180.8 181.73h37.5v1.45h-37.5zM155.8 183.17h37.5v1.45h-37.5zM205.8 183.17h12.5v1.45h-12.5zM65.0 184.62h37.5v1.45h-37.5zM440.7 184.62h12.5v1.45h-12.5zM65.0 186.06h37.5v1.45h-37.5zM180.8 186.06h37.5v1.45h-37.5zM428.2 186.06h12.5v1.45h-12.5zM77.5 187.51h25.0v1.45h-25.0zM143.3 187.51h37.5v1.45h-37.5zM378.2 187.51h75.0v1.45h-75.0zM65.0 188.95h37.5v1.45h-37.5zM143.3 188.95h25.0v1.45h-25.0zM415.7 188.95h25.0v1.45h-25.0zM143.3 190.40h12.5v1.45h-12.5zM168.3 190.40h12.5v1.45h-12.5zM143.3 191.84h12.5v1.45h-12.5zM378.2 191.84h75.0v1.45h-75.0zM65.0 193.29h37.5v1.45h-37.5zM143.3 193.29h12.5v1.45h-12.5zM168.3 193.29h50.0v1.45h-50.0zM378.2 193.29h50.0v1.45h-50.0zM440.7 193.29h12.5v1.45h-12.5zM77.5 194.73h25.0v1.45h-25.0zM143.3 194.73h75.0v1.45h-75.0zM378.2 194.73h62.5v1.45h-62.5zM65.0 196.18h37.5v1.45h-37.5zM155.8 196.18h25.0v1.45h-25.0zM193.3 196.18h25.0v1.45h-25.0zM349.9 196.18h12.5v1.45h-12.5zM65.0 197.62h37.5v1.45h-37.5zM143.3 197.62h50.0v1.45h-50.0zM205.8 197.62h12.5v1.45h-12.5zM378.2 197.62h62.5v1.45h-62.5zM65.0 199.07h25.0v1.45h-25.0zM180.8 199.07h37.5v1.45h-37.5zM415.7 199.07h37.5v1.45h-37.5zM65.0 200.51h37.5v1.45h-37.5zM193.3 200.51h12.5v1.45h-12.5zM378.2 200.51h62.5v1.45h-62.5zM65.0 201.96h25.0v1.45h-25.0zM143.3 201.96h37.5v1.45h-37.5zM193.3 201.96h25.0v1.45h-25.0zM378.2 201.96h75.0v1.45h-75.0zM65.0 203.40h37.5v1.45h-37.5zM143.3 203.40h75.0v1.45h-75.0zM378.2 203.40h50.0v1.45h-50.0zM440.7 203.40h12.5v1.45h-12.5zM65.0 204.85h37.5v1.45h-37.5zM155.8 204.85h37.5v1.45h-37.5zM205.8 204.85h12.5v1.45h-12.5zM378.2 204.85h50.0v1.45h-50.0zM440.7 204.85h12.5v1.45h-12.5zM143.3 206.30h37.5v1.45h-37.5zM193.3 206.30h25.0v1.45h-25.0zM193.3 207.74h25.0v1.45h-25.0zM65.0 209.19h37.5v1.45h-37.5zM168.3 209.19h37.5v1.45h-37.5zM349.9 209.19h12.5v1.45h-12.5zM403.2 209.19h12.5v1.45h-12.5zM65.0 210.63h25.0v1.45h-25.0zM155.8 210.63h12.5v1.45h-12.5zM378.2 210.63h37.5v1.45h-37.5zM428.2 210.63h12.5v1.45h-12.5zM155.8 212.08h25.0v1.45h-25.0zM378.2 212.08h50.0v1.45h-50.0zM143.3 213.52h37.5v1.45h-37.5zM378.2 213.52h50.0v1.45h-50.0zM65.0 214.97h37.5v1.45h-37.5zM143.3 214.97h75.0v1.45h-75.0zM65.0 216.41h37.5v1.45h-37.5zM143.3 216.41h62.5v1.45h-62.5zM378.2 216.41h37.5v1.45h-37.5zM90.0 217.86h12.5v1.45h-12.5zM143.3 217.86h75.0v1.45h-75.0zM378.2 217.86h75.0v1.45h-75.0zM65.0 219.30h25.0v1.45h-25.0zM193.3 219.30h25.0v1.45h-25.0zM415.7 219.30h37.5v1.45h-37.5zM65.0 220.75h37.5v1.45h-37.5zM180.8 220.75h12.5v1.45h-12.5zM205.8 220.75h12.5v1.45h-12.5zM378.2 220.75h25.0v1.45h-25.0zM65.0 222.19h37.5v1.45h-37.5zM143.3 222.19h37.5v1.45h-37.5zM378.2 222.19h25.0v1.45h-25.0zM415.7 222.19h37.5v1.45h-37.5zM65.0 223.64h12.5v1.45h-12.5zM90.0 223.64h12.5v1.45h-12.5zM143.3 223.64h37.5v1.45h-37.5zM193.3 223.64h25.0v1.45h-25.0zM390.7 223.64h12.5v1.45h-12.5zM77.5 225.08h12.5v1.45h-12.5zM143.3 225.08h75.0v1.45h-75.0zM390.7 225.08h12.5v1.45h-12.5zM415.7 225.08h25.0v1.45h-25.0zM65.0 226.53h12.5v1.45h-12.5zM90.0 226.53h12.5v1.45h-12.5zM143.3 226.53h62.5v1.45h-62.5zM378.2 226.53h37.5v1.45h-37.5zM428.2 226.53h25.0v1.45h-25.0zM65.0 227.97h37.5v1.45h-37.5zM115.0 227.97h12.5v1.45h-12.5zM143.3 227.97h37.5v1.45h-37.5zM65.0 229.42h12.5v1.45h-12.5zM90.0 229.42h12.5v1.45h-12.5zM378.2 229.42h37.5v1.45h-37.5zM65.0 230.86h37.5v1.45h-37.5zM143.3 230.86h25.0v1.45h-25.0zM415.7 230.86h37.5v1.45h-37.5zM65.0 232.31h37.5v1.45h-37.5zM180.8 232.31h37.5v1.45h-37.5zM378.2 232.31h25.0v1.45h-25.0zM415.7 232.31h12.5v1.45h-12.5zM440.7 232.31h12.5v1.45h-12.5zM143.3 233.75h37.5v1.45h-37.5zM378.2 233.75h25.0v1.45h-25.0zM415.7 233.75h37.5v1.45h-37.5zM65.0 235.20h37.5v1.45h-37.5zM180.8 235.20h37.5v1.45h-37.5zM415.7 235.20h37.5v1.45h-37.5zM65.0 236.65h75.0v1.45h-75.0zM155.8 236.65h12.5v1.45h-12.5zM180.8 236.65h12.5v1.45h-12.5zM205.8 236.65h12.5v1.45h-12.5zM378.2 236.65h12.5v1.45h-12.5zM403.2 236.65h12.5v1.45h-12.5zM90.0 238.09h50.0v1.45h-50.0zM143.3 238.09h25.0v1.45h-25.0zM180.8 238.09h25.0v1.45h-25.0zM378.2 238.09h37.5v1.45h-37.5zM428.2 238.09h12.5v1.45h-12.5zM77.5 239.54h25.0v1.45h-25.0zM155.8 239.54h12.5v1.45h-12.5zM378.2 239.54h25.0v1.45h-25.0zM65.0 240.98h75.0v1.45h-75.0zM415.7 240.98h37.5v1.45h-37.5zM65.0 242.43h75.0v1.45h-75.0zM155.8 242.43h25.0v1.45h-25.0zM193.3 242.43h25.0v1.45h-25.0zM415.7 242.43h37.5v1.45h-37.5zM65.0 243.87h25.0v1.45h-25.0zM102.5 243.87h37.5v1.45h-37.5zM180.8 243.87h37.5v1.45h-37.5zM390.7 243.87h25.0v1.45h-25.0zM65.0 245.32h62.5v1.45h-62.5zM378.2 245.32h12.5v1.45h-12.5zM403.2 245.32h50.0v1.45h-50.0zM102.5 246.76h37.5v1.45h-37.5zM155.8 246.76h62.5v1.45h-62.5zM378.2 246.76h37.5v1.45h-37.5zM65.0 248.21h37.5v1.45h-37.5zM168.3 248.21h25.0v1.45h-25.0zM378.2 248.21h50.0v1.45h-50.0zM102.5 249.65h37.5v1.45h-37.5zM180.8 249.65h37.5v1.45h-37.5zM390.7 249.65h12.5v1.45h-12.5zM415.7 249.65h37.5v1.45h-37.5zM65.0 251.10h75.0v1.45h-75.0zM143.3 251.10h62.5v1.45h-62.5zM378.2 251.10h12.5v1.45h-12.5zM403.2 251.10h12.5v1.45h-12.5zM102.5 252.54h12.5v1.45h-12.5zM127.5 252.54h12.5v1.45h-12.5zM180.8 252.54h37.5v1.45h-37.5zM390.7 252.54h62.5v1.45h-62.5zM65.0 253.99h12.5v1.45h-12.5zM90.0 253.99h50.0v1.45h-50.0zM143.3 253.99h25.0v1.45h-25.0zM378.2 253.99h75.0v1.45h-75.0zM65.0 255.43h62.5v1.45h-62.5zM143.3 255.43h75.0v1.45h-75.0zM65.0 256.88h50.0v1.45h-50.0zM127.5 256.88h12.5v1.45h-12.5zM143.3 256.88h12.5v1.45h-12.5zM168.3 256.88h50.0v1.45h-50.0zM403.2 256.88h50.0v1.45h-50.0zM77.5 258.32h37.5v1.45h-37.5zM127.5 258.32h12.5v1.45h-12.5zM180.8 258.32h37.5v1.45h-37.5zM390.7 258.32h50.0v1.45h-50.0zM65.0 259.77h62.5v1.45h-62.5zM143.3 259.77h50.0v1.45h-50.0zM205.8 259.77h12.5v1.45h-12.5zM390.7 259.77h62.5v1.45h-62.5zM77.5 261.21h12.5v1.45h-12.5zM102.5 261.21h25.0v1.45h-25.0zM155.8 261.21h25.0v1.45h-25.0zM193.3 261.21h25.0v1.45h-25.0zM378.2 261.21h62.5v1.45h-62.5zM65.0 262.66h50.0v1.45h-50.0zM127.5 262.66h12.5v1.45h-12.5zM155.8 262.66h37.5v1.45h-37.5zM378.2 262.66h75.0v1.45h-75.0zM65.0 264.10h75.0v1.45h-75.0zM155.8 264.10h25.0v1.45h-25.0zM193.3 264.10h25.0v1.45h-25.0zM390.7 264.10h62.5v1.45h-62.5zM102.5 265.55h37.5v1.45h-37.5zM180.8 265.55h37.5v1.45h-37.5zM428.2 265.55h25.0v1.45h-25.0zM65.0 267.00h75.0v1.45h-75.0zM180.8 267.00h37.5v1.45h-37.5zM143.3 268.44h75.0v1.45h-75.0zM428.2 268.44h25.0v1.45h-25.0zM143.3 269.89h37.5v1.45h-37.5zM378.2 269.89h50.0v1.45h-50.0zM440.7 269.89h12.5v1.45h-12.5zM180.8 271.33h37.5v1.45h-37.5zM378.2 271.33h75.0v1.45h-75.0zM65.0 272.78h37.5v1.45h-37.5zM415.7 272.78h37.5v1.45h-37.5zM65.0 274.22h75.0v1.45h-75.0zM180.8 274.22h37.5v1.45h-37.5zM415.7 274.22h37.5v1.45h-37.5zM65.0 275.67h75.0v1.45h-75.0zM180.8 275.67h37.5v1.45h-37.5zM378.2 275.67h37.5v1.45h-37.5zM102.5 277.11h37.5v1.45h-37.5zM143.3 277.11h25.0v1.45h-25.0zM180.8 277.11h12.5v1.45h-12.5zM205.8 277.11h12.5v1.45h-12.5zM378.2 277.11h37.5v1.45h-37.5zM65.0 278.56h75.0v1.45h-75.0zM143.3 278.56h37.5v1.45h-37.5zM378.2 278.56h75.0v1.45h-75.0zM65.0 280.00h37.5v1.45h-37.5zM143.3 280.00h12.5v1.45h-12.5zM168.3 280.00h12.5v1.45h-12.5zM378.2 280.00h12.5v1.45h-12.5zM403.2 280.00h12.5v1.45h-12.5zM65.0 281.45h25.0v1.45h-25.0zM102.5 281.45h12.5v1.45h-12.5zM127.5 281.45h12.5v1.45h-12.5zM143.3 281.45h75.0v1.45h-75.0zM65.0 282.89h12.5v1.45h-12.5zM90.0 282.89h12.5v1.45h-12.5zM155.8 282.89h62.5v1.45h-62.5zM378.2 282.89h25.0v1.45h-25.0zM65.0 284.34h25.0v1.45h-25.0zM378.2 284.34h37.5v1.45h-37.5zM428.2 284.34h25.0v1.45h-25.0zM65.0 285.78h37.5v1.45h-37.5zM115.0 285.78h12.5v1.45h-12.5zM143.3 285.78h12.5v1.45h-12.5zM180.8 285.78h37.5v1.45h-37.5zM378.2 285.78h25.0v1.45h-25.0zM65.0 287.23h37.5v1.45h-37.5zM115.0 287.23h25.0v1.45h-25.0zM143.3 287.23h62.5v1.45h-62.5zM127.5 288.67h12.5v1.45h-12.5zM143.3 288.67h25.0v1.45h-25.0zM180.8 288.67h25.0v1.45h-25.0zM415.7 288.67h12.5v1.45h-12.5zM440.7 288.67h12.5v1.45h-12.5zM65.0 290.12h75.0v1.45h-75.0zM180.8 290.12h37.5v1.45h-37.5zM378.2 290.12h75.0v1.45h-75.0zM143.3 291.56h75.0v1.45h-75.0zM378.2 291.56h37.5v1.45h-37.5zM65.0 293.01h37.5v1.45h-37.5zM180.8 293.01h25.0v1.45h-25.0zM378.2 293.01h25.0v1.45h-25.0zM65.0 294.45h25.0v1.45h-25.0zM143.3 294.45h37.5v1.45h-37.5zM378.2 294.45h75.0v1.45h-75.0zM115.0 299.50h25.0v1.46h-25.0zM143.3 299.50h75.0v1.46h-75.0zM349.9 299.50h12.5v1.46h-12.5zM90.0 300.96h50.0v1.46h-50.0zM143.3 300.96h12.5v1.46h-12.5zM168.3 300.96h50.0v1.46h-50.0zM349.9 300.96h12.5v1.46h-12.5zM143.3 302.41h25.0v1.46h-25.0zM180.8 302.41h37.5v1.46h-37.5zM102.5 303.87h37.5v1.46h-37.5zM143.3 303.87h50.0v1.46h-50.0zM205.8 303.87h12.5v1.46h-12.5zM102.5 305.33h37.5v1.46h-37.5zM143.3 305.33h75.0v1.46h-75.0zM337.4 305.33h12.5v1.46h-12.5zM415.7 305.33h12.5v1.46h-12.5zM440.7 305.33h12.5v1.46h-12.5zM127.5 306.79h12.5v1.46h-12.5zM143.3 306.79h75.0v1.46h-75.0zM115.0 308.24h25.0v1.46h-25.0zM143.3 308.24h12.5v1.46h-12.5zM180.8 308.24h37.5v1.46h-37.5zM349.9 308.24h12.5v1.46h-12.5zM415.7 308.24h12.5v1.46h-12.5zM102.5 309.70h37.5v1.46h-37.5zM143.3 309.70h37.5v1.46h-37.5zM193.3 309.70h25.0v1.46h-25.0zM440.7 309.70h12.5v1.46h-12.5zM65.0 311.16h12.5v1.46h-12.5zM102.5 311.16h37.5v1.46h-37.5zM143.3 311.16h25.0v1.46h-25.0zM193.3 311.16h12.5v1.46h-12.5zM349.9 311.16h12.5v1.46h-12.5zM428.2 311.16h12.5v1.46h-12.5zM102.5 312.61h37.5v1.46h-37.5zM362.4 312.61h12.5v1.46h-12.5zM143.3 314.07h25.0v1.46h-25.0zM180.8 314.07h37.5v1.46h-37.5zM102.5 315.53h37.5v1.46h-37.5zM180.8 315.53h25.0v1.46h-25.0zM362.4 315.53h12.5v1.46h-12.5zM428.2 315.53h25.0v1.46h-25.0zM143.3 316.99h37.5v1.46h-37.5zM337.4 316.99h12.5v1.46h-12.5zM415.7 316.99h12.5v1.46h-12.5zM143.3 318.44h75.0v1.46h-75.0zM337.4 318.44h12.5v1.46h-12.5zM362.4 318.44h12.5v1.46h-12.5zM428.2 318.44h12.5v1.46h-12.5zM102.5 319.90h37.5v1.46h-37.5zM155.8 319.90h25.0v1.46h-25.0zM102.5 321.36h37.5v1.46h-37.5zM143.3 321.36h25.0v1.46h-25.0zM428.2 321.36h12.5v1.46h-12.5zM115.0 322.81h25.0v1.46h-25.0zM205.8 322.81h12.5v1.46h-12.5zM65.0 324.27h12.5v1.46h-12.5zM102.5 324.27h12.5v1.46h-12.5zM127.5 324.27h12.5v1.46h-12.5zM143.3 324.27h75.0v1.46h-75.0zM428.2 324.27h12.5v1.46h-12.5zM102.5 325.73h37.5v1.46h-37.5zM143.3 325.73h75.0v1.46h-75.0zM349.9 325.73h12.5v1.46h-12.5zM115.0 327.19h25.0v1.46h-25.0zM102.5 328.64h37.5v1.46h-37.5zM143.3 328.64h12.5v1.46h-12.5zM168.3 328.64h12.5v1.46h-12.5zM193.3 328.64h12.5v1.46h-12.5zM115.0 330.10h25.0v1.46h-25.0zM143.3 330.10h12.5v1.46h-12.5zM90.0 331.56h12.5v1.46h-12.5zM143.3 331.56h37.5v1.46h-37.5zM337.4 331.56h12.5v1.46h-12.5zM102.5 333.01h37.5v1.46h-37.5zM180.8 333.01h37.5v1.46h-37.5zM337.4 333.01h12.5v1.46h-12.5zM102.5 334.47h25.0v1.46h-25.0zM143.3 334.47h75.0v1.46h-75.0zM102.5 335.93h37.5v1.46h-37.5zM143.3 335.93h75.0v1.46h-75.0zM102.5 337.39h37.5v1.46h-37.5zM143.3 337.39h25.0v1.46h-25.0zM90.0 338.84h12.5v1.46h-12.5zM349.9 338.84h12.5v1.46h-12.5zM428.2 338.84h12.5v1.46h-12.5zM77.5 340.30h12.5v1.46h-12.5zM102.5 340.30h12.5v1.46h-12.5zM127.5 340.30h12.5v1.46h-12.5zM143.3 340.30h62.5v1.46h-62.5zM362.4 340.30h12.5v1.46h-12.5zM155.8 341.76h62.5v1.46h-62.5zM415.7 341.76h12.5v1.46h-12.5zM102.5 343.21h37.5v1.46h-37.5zM168.3 343.21h50.0v1.46h-50.0zM337.4 343.21h12.5v1.46h-12.5zM102.5 344.67h37.5v1.46h-37.5zM168.3 344.67h50.0v1.46h-50.0zM349.9 344.67h12.5v1.46h-12.5zM428.2 344.67h25.0v1.46h-25.0zM127.5 346.13h12.5v1.46h-12.5zM362.4 346.13h12.5v1.46h-12.5zM143.3 347.59h50.0v1.46h-50.0zM205.8 347.59h12.5v1.46h-12.5zM337.4 347.59h25.0v1.46h-25.0zM143.3 349.04h12.5v1.46h-12.5zM168.3 349.04h50.0v1.46h-50.0zM349.9 349.04h12.5v1.46h-12.5zM428.2 349.04h12.5v1.46h-12.5zM102.5 354.40h37.5v1.43h-37.5zM143.3 354.40h12.5v1.43h-12.5zM115.0 355.83h12.5v1.43h-12.5zM180.8 355.83h12.5v1.43h-12.5zM205.8 355.83h12.5v1.43h-12.5zM299.9 355.83h12.5v1.43h-12.5zM65.0 357.26h12.5v1.43h-12.5zM90.0 357.26h50.0v1.43h-50.0zM65.0 358.69h37.5v1.43h-37.5zM127.5 358.69h12.5v1.43h-12.5zM143.3 358.69h25.0v1.43h-25.0zM324.9 358.69h12.5v1.43h-12.5zM65.0 360.12h37.5v1.43h-37.5zM143.3 360.12h37.5v1.43h-37.5zM312.4 360.12h12.5v1.43h-12.5zM65.0 361.55h37.5v1.43h-37.5zM324.9 361.55h12.5v1.43h-12.5zM143.3 362.98h50.0v1.43h-50.0zM205.8 362.98h12.5v1.43h-12.5zM312.4 362.98h25.0v1.43h-25.0zM115.0 364.42h25.0v1.43h-25.0zM143.3 364.42h12.5v1.43h-12.5zM168.3 364.42h12.5v1.43h-12.5zM299.9 364.42h25.0v1.43h-25.0zM65.0 365.85h75.0v1.43h-75.0zM155.8 365.85h62.5v1.43h-62.5zM65.0 367.28h75.0v1.43h-75.0zM143.3 367.28h50.0v1.43h-50.0zM205.8 367.28h12.5v1.43h-12.5zM77.5 368.71h12.5v1.43h-12.5zM115.0 368.71h25.0v1.43h-25.0zM155.8 368.71h25.0v1.43h-25.0zM65.0 370.14h37.5v1.43h-37.5zM127.5 370.14h12.5v1.43h-12.5zM143.3 370.14h37.5v1.43h-37.5zM324.9 370.14h12.5v1.43h-12.5zM65.0 371.57h37.5v1.43h-37.5zM155.8 371.57h62.5v1.43h-62.5zM312.4 371.57h25.0v1.43h-25.0zM102.5 373.00h37.5v1.43h-37.5zM143.3 373.00h37.5v1.43h-37.5zM193.3 373.00h25.0v1.43h-25.0zM299.9 373.00h12.5v1.43h-12.5zM115.0 374.43h25.0v1.43h-25.0zM143.3 374.43h75.0v1.43h-75.0zM312.4 374.43h12.5v1.43h-12.5zM65.0 375.86h12.5v1.43h-12.5zM90.0 375.86h37.5v1.43h-37.5zM143.3 375.86h75.0v1.43h-75.0zM324.9 375.86h12.5v1.43h-12.5zM102.5 377.29h37.5v1.43h-37.5zM143.3 377.29h37.5v1.43h-37.5zM205.8 377.29h12.5v1.43h-12.5zM324.9 377.29h12.5v1.43h-12.5zM65.0 378.72h37.5v1.43h-37.5zM143.3 378.72h37.5v1.43h-37.5zM205.8 378.72h12.5v1.43h-12.5zM299.9 378.72h12.5v1.43h-12.5zM65.0 380.15h37.5v1.43h-37.5zM127.5 380.15h12.5v1.43h-12.5zM143.3 380.15h37.5v1.43h-37.5zM65.0 381.58h37.5v1.43h-37.5zM115.0 381.58h12.5v1.43h-12.5zM180.8 381.58h37.5v1.43h-37.5zM65.0 383.02h75.0v1.43h-75.0zM193.3 383.02h25.0v1.43h-25.0zM312.4 383.02h12.5v1.43h-12.5zM102.5 384.45h37.5v1.43h-37.5zM312.4 384.45h25.0v1.43h-25.0zM65.0 385.88h37.5v1.43h-37.5zM115.0 385.88h25.0v1.43h-25.0zM180.8 385.88h12.5v1.43h-12.5zM205.8 385.88h12.5v1.43h-12.5zM299.9 385.88h12.5v1.43h-12.5zM324.9 385.88h12.5v1.43h-12.5zM65.0 387.31h37.5v1.43h-37.5zM115.0 387.31h25.0v1.43h-25.0zM180.8 387.31h12.5v1.43h-12.5zM205.8 387.31h12.5v1.43h-12.5zM65.0 388.74h75.0v1.43h-75.0zM65.0 390.17h75.0v1.43h-75.0zM312.4 390.17h25.0v1.43h-25.0zM65.0 395.70h75.0v1.45h-75.0zM299.9 395.70h12.5v1.45h-12.5zM324.9 395.70h12.5v1.45h-12.5zM349.9 395.70h12.5v1.45h-12.5zM378.2 395.70h25.0v1.45h-25.0zM415.7 395.70h12.5v1.45h-12.5zM102.5 397.15h37.5v1.45h-37.5zM415.7 397.15h37.5v1.45h-37.5zM65.0 398.61h37.5v1.45h-37.5zM299.9 398.61h37.5v1.45h-37.5zM378.2 398.61h75.0v1.45h-75.0zM102.5 400.06h37.5v1.45h-37.5zM337.4 400.06h37.5v1.45h-37.5zM378.2 400.06h37.5v1.45h-37.5zM65.0 401.51h37.5v1.45h-37.5zM299.9 401.51h37.5v1.45h-37.5zM349.9 401.51h25.0v1.45h-25.0zM378.2 401.51h75.0v1.45h-75.0zM102.5 402.96h37.5v1.45h-37.5zM337.4 402.96h37.5v1.45h-37.5zM390.7 402.96h25.0v1.45h-25.0zM65.0 404.42h37.5v1.45h-37.5zM115.0 404.42h25.0v1.45h-25.0zM299.9 404.42h37.5v1.45h-37.5zM378.2 404.42h50.0v1.45h-50.0zM440.7 404.42h12.5v1.45h-12.5zM65.0 405.87h37.5v1.45h-37.5zM299.9 405.87h25.0v1.45h-25.0zM415.7 405.87h25.0v1.45h-25.0zM65.0 407.32h37.5v1.45h-37.5zM299.9 407.32h25.0v1.45h-25.0zM349.9 407.32h25.0v1.45h-25.0zM378.2 407.32h12.5v1.45h-12.5zM403.2 407.32h12.5v1.45h-12.5zM77.5 408.78h12.5v1.45h-12.5zM115.0 408.78h25.0v1.45h-25.0zM168.3 408.78h12.5v1.45h-12.5zM299.9 408.78h50.0v1.45h-50.0zM362.4 408.78h12.5v1.45h-12.5zM77.5 410.23h12.5v1.45h-12.5zM324.9 410.23h12.5v1.45h-12.5zM362.4 410.23h12.5v1.45h-12.5zM378.2 410.23h50.0v1.45h-50.0zM440.7 410.23h12.5v1.45h-12.5zM115.0 411.68h25.0v1.45h-25.0zM337.4 411.68h37.5v1.45h-37.5zM415.7 411.68h37.5v1.45h-37.5zM90.0 413.14h50.0v1.45h-50.0zM299.9 413.14h75.0v1.45h-75.0zM378.2 413.14h25.0v1.45h-25.0zM299.9 414.59h62.5v1.45h-62.5zM378.2 414.59h37.5v1.45h-37.5zM65.0 416.04h37.5v1.45h-37.5zM299.9 416.04h62.5v1.45h-62.5zM378.2 416.04h37.5v1.45h-37.5zM77.5 417.49h62.5v1.45h-62.5zM337.4 417.49h25.0v1.45h-25.0zM440.7 417.49h12.5v1.45h-12.5zM65.0 418.95h75.0v1.45h-75.0zM337.4 418.95h25.0v1.45h-25.0zM378.2 418.95h75.0v1.45h-75.0z"/><path fill="#fff0a7" d="M246.6 38.90h12.5v1.45h-12.5zM127.5 40.35h12.5v1.45h-12.5zM246.6 40.35h12.5v1.45h-12.5zM312.4 41.80h12.5v1.45h-12.5zM65.0 46.16h12.5v1.45h-12.5zM77.5 49.06h12.5v1.45h-12.5zM362.4 60.67h12.5v1.45h-12.5zM299.9 69.38h12.5v1.45h-12.5zM221.6 72.28h12.5v1.45h-12.5zM440.7 73.74h12.5v1.45h-12.5zM221.6 90.90h12.5v1.45h-12.5zM284.1 90.90h12.5v1.45h-12.5zM284.1 96.70h12.5v1.45h-12.5zM284.1 99.61h12.5v1.45h-12.5zM284.1 108.31h12.5v1.45h-12.5zM271.6 111.21h12.5v1.45h-12.5zM284.1 112.66h12.5v1.45h-12.5zM271.6 131.53h12.5v1.45h-12.5zM271.6 134.43h12.5v1.45h-12.5zM284.1 138.78h12.5v1.45h-12.5zM284.1 147.49h12.5v1.45h-12.5zM312.4 163.45h12.5v1.45h-12.5zM221.6 167.80h12.5v1.45h-12.5zM246.6 177.39h12.5v1.45h-12.5zM337.4 178.84h12.5v1.45h-12.5zM246.6 183.17h12.5v1.45h-12.5zM337.4 187.51h12.5v1.45h-12.5zM234.1 190.40h12.5v1.45h-12.5zM246.6 191.84h12.5v1.45h-12.5zM284.1 191.84h12.5v1.45h-12.5zM415.7 206.30h12.5v1.45h-12.5zM440.7 206.30h12.5v1.45h-12.5zM102.5 213.52h12.5v1.45h-12.5zM284.1 213.52h12.5v1.45h-12.5zM259.1 219.30h12.5v1.45h-12.5zM284.1 219.30h12.5v1.45h-12.5zM284.1 222.19h12.5v1.45h-12.5zM284.1 223.64h12.5v1.45h-12.5zM221.6 225.08h12.5v1.45h-12.5zM284.1 225.08h12.5v1.45h-12.5zM324.9 230.86h12.5v1.45h-12.5zM234.1 232.31h12.5v1.45h-12.5zM284.1 232.31h12.5v1.45h-12.5zM284.1 233.75h12.5v1.45h-12.5zM271.6 235.20h12.5v1.45h-12.5zM284.1 239.54h12.5v1.45h-12.5zM259.1 245.32h12.5v1.45h-12.5zM284.1 245.32h12.5v1.45h-12.5zM246.6 248.21h12.5v1.45h-12.5zM234.1 249.65h37.5v1.45h-37.5zM234.1 252.54h12.5v1.45h-12.5zM284.1 252.54h12.5v1.45h-12.5zM259.1 258.32h12.5v1.45h-12.5zM284.1 264.10h12.5v1.45h-12.5zM284.1 267.00h12.5v1.45h-12.5zM246.6 268.44h12.5v1.45h-12.5zM221.6 271.33h12.5v1.45h-12.5zM246.6 271.33h12.5v1.45h-12.5zM284.1 271.33h12.5v1.45h-12.5zM234.1 272.78h12.5v1.45h-12.5zM246.6 275.67h12.5v1.45h-12.5zM428.2 277.11h12.5v1.45h-12.5zM221.6 281.45h12.5v1.45h-12.5zM284.1 285.78h12.5v1.45h-12.5zM284.1 287.23h12.5v1.45h-12.5zM234.1 288.67h12.5v1.45h-12.5zM259.1 290.12h12.5v1.45h-12.5zM440.7 299.50h12.5v1.46h-12.5zM378.2 334.47h12.5v1.46h-12.5zM378.2 337.39h12.5v1.46h-12.5zM180.8 368.71h12.5v1.43h-12.5zM234.1 373.00h12.5v1.43h-12.5zM349.9 373.00h12.5v1.43h-12.5zM168.3 397.15h12.5v1.45h-12.5zM246.6 397.15h12.5v1.45h-12.5zM337.4 398.61h12.5v1.45h-12.5zM390.7 411.68h12.5v1.45h-12.5zM378.2 417.49h12.5v1.45h-12.5z"/><path fill="#fee594" d="M299.9 38.90h12.5v1.45h-12.5zM312.4 44.71h12.5v1.45h-12.5zM259.1 46.16h12.5v1.45h-12.5zM65.0 47.61h12.5v1.45h-12.5zM90.0 49.06h12.5v1.45h-12.5zM115.0 50.51h12.5v1.45h-12.5zM127.5 53.42h12.5v1.45h-12.5zM115.0 56.32h12.5v1.45h-12.5zM193.3 59.22h12.5v1.45h-12.5zM299.9 62.12h12.5v1.45h-12.5zM271.6 69.38h12.5v1.45h-12.5zM324.9 69.38h12.5v1.45h-12.5zM246.6 72.28h12.5v1.45h-12.5zM221.6 76.64h12.5v1.45h-12.5zM115.0 82.45h12.5v1.45h-12.5zM349.9 82.45h12.5v1.45h-12.5zM312.4 98.15h12.5v1.45h-12.5zM221.6 112.66h12.5v1.45h-12.5zM312.4 127.17h12.5v1.45h-12.5zM221.6 146.03h12.5v1.45h-12.5zM271.6 151.84h12.5v1.45h-12.5zM143.3 156.19h12.5v1.45h-12.5zM312.4 160.54h12.5v1.45h-12.5zM259.1 166.35h12.5v1.45h-12.5zM324.9 169.25h12.5v1.45h-12.5zM415.7 169.25h12.5v1.45h-12.5zM143.3 184.62h25.0v1.45h-25.0zM205.8 187.51h12.5v1.45h-12.5zM362.4 187.51h12.5v1.45h-12.5zM337.4 200.51h12.5v1.45h-12.5zM403.2 207.74h12.5v1.45h-12.5zM193.3 212.08h12.5v1.45h-12.5zM362.4 212.08h12.5v1.45h-12.5zM205.8 213.52h12.5v1.45h-12.5zM221.6 213.52h12.5v1.45h-12.5zM349.9 213.52h12.5v1.45h-12.5zM246.6 214.97h12.5v1.45h-12.5zM234.1 219.30h12.5v1.45h-12.5zM349.9 222.19h12.5v1.45h-12.5zM221.6 230.86h12.5v1.45h-12.5zM299.9 230.86h12.5v1.45h-12.5zM221.6 232.31h12.5v1.45h-12.5zM246.6 245.32h12.5v1.45h-12.5zM221.6 253.99h12.5v1.45h-12.5zM221.6 258.32h12.5v1.45h-12.5zM221.6 267.00h12.5v1.45h-12.5zM299.9 268.44h12.5v1.45h-12.5zM362.4 271.33h12.5v1.45h-12.5zM312.4 275.67h12.5v1.45h-12.5zM349.9 277.11h12.5v1.45h-12.5zM349.9 281.45h12.5v1.45h-12.5zM221.6 282.89h12.5v1.45h-12.5zM127.5 284.34h12.5v1.45h-12.5zM127.5 285.78h12.5v1.45h-12.5zM90.0 288.67h12.5v1.45h-12.5zM221.6 290.12h12.5v1.45h-12.5zM428.2 299.50h12.5v1.46h-12.5zM428.2 303.87h12.5v1.46h-12.5zM271.6 319.90h12.5v1.46h-12.5zM246.6 324.27h12.5v1.46h-12.5zM403.2 324.27h12.5v1.46h-12.5zM403.2 333.01h12.5v1.46h-12.5zM403.2 334.47h12.5v1.46h-12.5zM259.1 335.93h12.5v1.46h-12.5zM390.7 335.93h12.5v1.46h-12.5zM143.3 338.84h12.5v1.46h-12.5zM284.1 343.21h12.5v1.46h-12.5zM390.7 346.13h12.5v1.46h-12.5zM440.7 360.12h12.5v1.43h-12.5zM403.2 362.98h12.5v1.43h-12.5zM349.9 367.28h12.5v1.43h-12.5zM337.4 370.14h12.5v1.43h-12.5zM246.6 373.00h12.5v1.43h-12.5zM221.6 374.43h12.5v1.43h-12.5zM246.6 374.43h12.5v1.43h-12.5zM415.7 375.86h12.5v1.43h-12.5zM349.9 377.29h12.5v1.43h-12.5zM180.8 378.72h12.5v1.43h-12.5zM362.4 378.72h12.5v1.43h-12.5zM312.4 381.58h12.5v1.43h-12.5zM390.7 384.45h25.0v1.43h-25.0zM284.1 395.70h12.5v1.45h-12.5zM428.2 395.70h12.5v1.45h-12.5zM143.3 397.15h12.5v1.45h-12.5zM259.1 410.23h12.5v1.45h-12.5zM155.8 416.04h12.5v1.45h-12.5zM205.8 416.04h12.5v1.45h-12.5zM205.8 417.49h12.5v1.45h-12.5z"/><path fill="#feeb9d" d="M312.4 38.90h12.5v1.45h-12.5zM324.9 40.35h12.5v1.45h-12.5zM390.7 43.25h12.5v1.45h-12.5zM324.9 46.16h12.5v1.45h-12.5zM155.8 47.61h12.5v1.45h-12.5zM299.9 47.61h37.5v1.45h-37.5zM90.0 53.42h12.5v1.45h-12.5zM324.9 62.12h12.5v1.45h-12.5zM271.6 72.28h12.5v1.45h-12.5zM337.4 76.64h12.5v1.45h-12.5zM415.7 76.64h12.5v1.45h-12.5zM440.7 76.64h12.5v1.45h-12.5zM337.4 80.99h12.5v1.45h-12.5zM337.4 83.90h12.5v1.45h-12.5zM284.1 103.96h12.5v1.45h-12.5zM271.6 109.76h12.5v1.45h-12.5zM390.7 114.11h12.5v1.45h-12.5zM284.1 115.57h12.5v1.45h-12.5zM221.6 124.27h12.5v1.45h-12.5zM271.6 125.72h12.5v1.45h-12.5zM284.1 130.07h12.5v1.45h-12.5zM77.5 144.58h12.5v1.45h-12.5zM271.6 144.58h12.5v1.45h-12.5zM143.3 154.74h12.5v1.45h-12.5zM403.2 160.54h12.5v1.45h-12.5zM312.4 161.99h12.5v1.45h-12.5zM337.4 174.50h12.5v1.45h-12.5zM246.6 180.28h12.5v1.45h-12.5zM349.9 188.95h12.5v1.45h-12.5zM102.5 190.40h12.5v1.45h-12.5zM221.6 194.73h12.5v1.45h-12.5zM221.6 196.18h12.5v1.45h-12.5zM246.6 199.07h12.5v1.45h-12.5zM337.4 199.07h12.5v1.45h-12.5zM221.6 200.51h12.5v1.45h-12.5zM221.6 201.96h12.5v1.45h-12.5zM115.0 204.85h12.5v1.45h-12.5zM221.6 204.85h12.5v1.45h-12.5zM428.2 206.30h12.5v1.45h-12.5zM284.1 207.74h12.5v1.45h-12.5zM390.7 207.74h12.5v1.45h-12.5zM221.6 209.19h12.5v1.45h-12.5zM390.7 209.19h12.5v1.45h-12.5zM180.8 212.08h12.5v1.45h-12.5zM349.9 212.08h12.5v1.45h-12.5zM234.1 213.52h12.5v1.45h-12.5zM259.1 217.86h12.5v1.45h-12.5zM428.2 223.64h12.5v1.45h-12.5zM221.6 226.53h12.5v1.45h-12.5zM284.1 226.53h12.5v1.45h-12.5zM234.1 233.75h12.5v1.45h-12.5zM362.4 236.65h12.5v1.45h-12.5zM378.2 242.43h12.5v1.45h-12.5zM221.6 243.87h12.5v1.45h-12.5zM221.6 246.76h12.5v1.45h-12.5zM221.6 248.21h12.5v1.45h-12.5zM246.6 251.10h12.5v1.45h-12.5zM246.6 255.43h12.5v1.45h-12.5zM284.1 262.66h12.5v1.45h-12.5zM246.6 264.10h12.5v1.45h-12.5zM221.6 265.55h12.5v1.45h-12.5zM221.6 269.89h12.5v1.45h-12.5zM193.3 277.11h12.5v1.45h-12.5zM221.6 277.11h12.5v1.45h-12.5zM246.6 278.56h12.5v1.45h-12.5zM428.2 281.45h12.5v1.45h-12.5zM221.6 284.34h12.5v1.45h-12.5zM234.1 285.78h12.5v1.45h-12.5zM246.6 287.23h12.5v1.45h-12.5zM65.0 288.67h12.5v1.45h-12.5zM271.6 300.96h12.5v1.46h-12.5zM234.1 324.27h12.5v1.46h-12.5zM284.1 333.01h12.5v1.46h-12.5zM390.7 333.01h12.5v1.46h-12.5zM390.7 334.47h12.5v1.46h-12.5zM403.2 335.93h12.5v1.46h-12.5zM77.5 346.13h12.5v1.46h-12.5zM115.0 347.59h12.5v1.46h-12.5zM102.5 349.04h12.5v1.46h-12.5zM403.2 349.04h12.5v1.46h-12.5zM205.8 361.55h12.5v1.43h-12.5zM390.7 361.55h12.5v1.43h-12.5zM337.4 368.71h12.5v1.43h-12.5zM284.1 374.43h12.5v1.43h-12.5zM362.4 374.43h12.5v1.43h-12.5zM284.1 377.29h12.5v1.43h-12.5zM415.7 377.29h12.5v1.43h-12.5zM415.7 378.72h12.5v1.43h-12.5zM312.4 380.15h12.5v1.43h-12.5zM378.2 385.88h12.5v1.43h-12.5zM337.4 397.15h12.5v1.45h-12.5zM168.3 398.61h12.5v1.45h-12.5zM102.5 404.42h12.5v1.45h-12.5zM234.1 407.32h12.5v1.45h-12.5zM65.0 408.78h12.5v1.45h-12.5zM205.8 411.68h12.5v1.45h-12.5zM193.3 416.04h12.5v1.45h-12.5z"/><path fill="#feefa3" d="M324.9 38.90h12.5v1.45h-12.5zM65.0 43.25h12.5v1.45h-12.5zM403.2 43.25h12.5v1.45h-12.5zM299.9 46.16h12.5v1.45h-12.5zM77.5 47.61h12.5v1.45h-12.5zM127.5 50.51h12.5v1.45h-12.5zM284.1 75.19h12.5v1.45h-12.5zM337.4 82.45h12.5v1.45h-12.5zM234.1 83.90h12.5v1.45h-12.5zM284.1 93.80h12.5v1.45h-12.5zM284.1 95.25h12.5v1.45h-12.5zM168.3 101.06h12.5v1.45h-12.5zM284.1 117.02h12.5v1.45h-12.5zM246.6 127.17h12.5v1.45h-12.5zM284.1 128.62h12.5v1.45h-12.5zM271.6 132.98h12.5v1.45h-12.5zM271.6 135.88h12.5v1.45h-12.5zM271.6 141.68h12.5v1.45h-12.5zM168.3 143.13h12.5v1.45h-12.5zM168.3 147.49h12.5v1.45h-12.5zM143.3 157.64h12.5v1.45h-12.5zM271.6 160.54h12.5v1.45h-12.5zM143.3 169.25h12.5v1.45h-12.5zM221.6 174.50h12.5v1.45h-12.5zM246.6 174.50h12.5v1.45h-12.5zM349.9 174.50h12.5v1.45h-12.5zM221.6 177.39h12.5v1.45h-12.5zM221.6 178.84h12.5v1.45h-12.5zM284.1 180.28h12.5v1.45h-12.5zM349.9 180.28h12.5v1.45h-12.5zM337.4 186.06h12.5v1.45h-12.5zM155.8 191.84h12.5v1.45h-12.5zM246.6 193.29h12.5v1.45h-12.5zM284.1 200.51h12.5v1.45h-12.5zM221.6 203.40h25.0v1.45h-25.0zM221.6 210.63h12.5v1.45h-12.5zM362.4 210.63h12.5v1.45h-12.5zM284.1 214.97h12.5v1.45h-12.5zM246.6 229.42h12.5v1.45h-12.5zM221.6 236.65h12.5v1.45h-12.5zM234.1 243.87h12.5v1.45h-12.5zM234.1 256.88h12.5v1.45h-12.5zM234.1 259.77h12.5v1.45h-12.5zM221.6 261.21h12.5v1.45h-12.5zM234.1 264.10h12.5v1.45h-12.5zM246.6 265.55h12.5v1.45h-12.5zM259.1 268.44h12.5v1.45h-12.5zM221.6 274.22h12.5v1.45h-12.5zM259.1 278.56h12.5v1.45h-12.5zM440.7 282.89h12.5v1.45h-12.5zM259.1 284.34h12.5v1.45h-12.5zM259.1 291.56h12.5v1.45h-12.5zM221.6 293.01h12.5v1.45h-12.5zM234.1 294.45h12.5v1.45h-12.5zM259.1 294.45h12.5v1.45h-12.5zM349.9 309.70h12.5v1.46h-12.5zM284.1 311.16h12.5v1.46h-12.5zM324.9 325.73h12.5v1.46h-12.5zM284.1 331.56h12.5v1.46h-12.5zM155.8 344.67h12.5v1.46h-12.5zM127.5 349.04h12.5v1.46h-12.5zM390.7 349.04h12.5v1.46h-12.5zM193.3 361.55h12.5v1.43h-12.5zM246.6 365.85h12.5v1.43h-12.5zM415.7 365.85h12.5v1.43h-12.5zM221.6 367.28h12.5v1.43h-12.5zM415.7 367.28h12.5v1.43h-12.5zM234.1 371.57h12.5v1.43h-12.5zM234.1 377.29h12.5v1.43h-12.5zM299.9 380.15h12.5v1.43h-12.5zM378.2 384.45h12.5v1.43h-12.5zM221.6 395.70h12.5v1.45h-12.5zM168.3 400.06h12.5v1.45h-12.5zM246.6 407.32h12.5v1.45h-12.5zM180.8 411.68h12.5v1.45h-12.5z"/><path fill="#f5fbd0" d="M337.4 38.90h25.0v1.45h-25.0zM337.4 40.35h37.5v1.45h-37.5zM337.4 41.80h37.5v1.45h-37.5zM205.8 43.25h12.5v1.45h-12.5zM299.9 43.25h25.0v1.45h-25.0zM337.4 43.25h37.5v1.45h-37.5zM337.4 44.71h37.5v1.45h-37.5zM349.9 46.16h12.5v1.45h-12.5zM337.4 47.61h37.5v1.45h-37.5zM299.9 49.06h12.5v1.45h-12.5zM337.4 49.06h37.5v1.45h-37.5zM299.9 50.51h75.0v1.45h-75.0zM349.9 51.96h25.0v1.45h-25.0zM299.9 53.42h62.5v1.45h-62.5zM299.9 54.87h75.0v1.45h-75.0zM299.9 56.32h25.0v1.45h-25.0zM337.4 56.32h37.5v1.45h-37.5zM312.4 57.77h12.5v1.45h-12.5zM349.9 57.77h12.5v1.45h-12.5zM299.9 59.22h75.0v1.45h-75.0zM337.4 63.58h12.5v1.45h-12.5zM362.4 63.58h12.5v1.45h-12.5zM299.9 65.03h75.0v1.45h-75.0zM299.9 66.48h50.0v1.45h-50.0zM299.9 67.93h12.5v1.45h-12.5zM324.9 67.93h25.0v1.45h-25.0zM362.4 67.93h12.5v1.45h-12.5zM337.4 69.38h37.5v1.45h-37.5zM337.4 70.83h37.5v1.45h-37.5zM299.9 72.28h37.5v1.45h-37.5zM299.9 73.74h12.5v1.45h-12.5zM324.9 73.74h50.0v1.45h-50.0zM299.9 75.19h75.0v1.45h-75.0zM299.9 76.64h37.5v1.45h-37.5zM349.9 76.64h12.5v1.45h-12.5zM299.9 78.09h75.0v1.45h-75.0zM337.4 85.35h25.0v1.45h-25.0zM234.1 92.35h12.5v1.45h-12.5zM271.6 147.49h12.5v1.45h-12.5zM102.5 159.09h12.5v1.45h-12.5zM390.7 177.39h12.5v1.45h-12.5zM115.0 183.17h12.5v1.45h-12.5zM378.2 183.17h12.5v1.45h-12.5zM403.2 183.17h12.5v1.45h-12.5zM378.2 186.06h12.5v1.45h-12.5zM115.0 206.30h12.5v1.45h-12.5zM102.5 210.63h12.5v1.45h-12.5zM271.6 212.08h12.5v1.45h-12.5zM102.5 214.97h12.5v1.45h-12.5zM115.0 216.41h12.5v1.45h-12.5zM127.5 219.30h12.5v1.45h-12.5zM102.5 225.08h12.5v1.45h-12.5zM127.5 227.97h12.5v1.45h-12.5zM102.5 233.75h12.5v1.45h-12.5zM378.2 287.23h37.5v1.45h-37.5zM428.2 288.67h12.5v1.45h-12.5zM362.4 299.50h12.5v1.46h-12.5zM337.4 300.96h12.5v1.46h-12.5zM337.4 302.41h25.0v1.46h-25.0zM337.4 303.87h25.0v1.46h-25.0zM349.9 305.33h25.0v1.46h-25.0zM337.4 306.79h12.5v1.46h-12.5zM362.4 308.24h12.5v1.46h-12.5zM440.7 308.24h12.5v1.46h-12.5zM77.5 311.16h12.5v1.46h-12.5zM337.4 311.16h12.5v1.46h-12.5zM77.5 312.61h12.5v1.46h-12.5zM415.7 312.61h12.5v1.46h-12.5zM77.5 315.53h25.0v1.46h-25.0zM90.0 316.99h12.5v1.46h-12.5zM284.1 316.99h12.5v1.46h-12.5zM349.9 316.99h12.5v1.46h-12.5zM349.9 318.44h12.5v1.46h-12.5zM362.4 321.36h12.5v1.46h-12.5zM65.0 322.81h12.5v1.46h-12.5zM90.0 322.81h12.5v1.46h-12.5zM362.4 322.81h12.5v1.46h-12.5zM337.4 325.73h12.5v1.46h-12.5zM362.4 325.73h12.5v1.46h-12.5zM234.1 327.19h12.5v1.46h-12.5zM362.4 327.19h12.5v1.46h-12.5zM337.4 328.64h12.5v1.46h-12.5zM362.4 328.64h12.5v1.46h-12.5zM349.9 331.56h12.5v1.46h-12.5zM90.0 333.01h12.5v1.46h-12.5zM349.9 333.01h25.0v1.46h-25.0zM337.4 334.47h12.5v1.46h-12.5zM362.4 334.47h12.5v1.46h-12.5zM77.5 335.93h12.5v1.46h-12.5zM362.4 337.39h12.5v1.46h-12.5zM337.4 338.84h12.5v1.46h-12.5zM362.4 338.84h12.5v1.46h-12.5zM246.6 340.30h12.5v1.46h-12.5zM65.0 341.76h12.5v1.46h-12.5zM337.4 341.76h12.5v1.46h-12.5zM90.0 344.67h12.5v1.46h-12.5zM337.4 346.13h25.0v1.46h-25.0zM428.2 346.13h12.5v1.46h-12.5zM362.4 347.59h12.5v1.46h-12.5zM271.6 349.04h12.5v1.46h-12.5zM312.4 354.40h25.0v1.43h-25.0zM324.9 357.26h12.5v1.43h-12.5zM299.9 358.69h12.5v1.43h-12.5zM324.9 360.12h12.5v1.43h-12.5zM299.9 361.55h25.0v1.43h-25.0zM299.9 362.98h12.5v1.43h-12.5zM324.9 364.42h12.5v1.43h-12.5zM312.4 365.85h12.5v1.43h-12.5zM299.9 367.28h25.0v1.43h-25.0zM324.9 368.71h12.5v1.43h-12.5zM299.9 371.57h12.5v1.43h-12.5zM299.9 375.86h25.0v1.43h-25.0zM299.9 377.29h12.5v1.43h-12.5zM312.4 378.72h25.0v1.43h-25.0zM312.4 385.88h12.5v1.43h-12.5zM312.4 388.74h12.5v1.43h-12.5zM299.9 390.17h12.5v1.43h-12.5z"/><path fill="#f9fdc9" d="M362.4 38.90h12.5v1.45h-12.5zM299.9 51.96h25.0v1.45h-25.0zM349.9 63.58h12.5v1.45h-12.5zM349.9 67.93h12.5v1.45h-12.5zM349.9 106.86h12.5v1.45h-12.5zM349.9 122.82h12.5v1.45h-12.5zM349.9 159.09h12.5v1.45h-12.5zM362.4 167.80h12.5v1.45h-12.5zM349.9 169.25h12.5v1.45h-12.5zM102.5 174.50h12.5v1.45h-12.5zM102.5 175.95h12.5v1.45h-12.5zM271.6 177.39h12.5v1.45h-12.5zM102.5 178.84h12.5v1.45h-12.5zM102.5 180.28h12.5v1.45h-12.5zM127.5 181.73h12.5v1.45h-12.5zM102.5 183.17h12.5v1.45h-12.5zM127.5 183.17h12.5v1.45h-12.5zM115.0 184.62h12.5v1.45h-12.5zM246.6 186.06h12.5v1.45h-12.5zM115.0 188.95h12.5v1.45h-12.5zM102.5 193.29h12.5v1.45h-12.5zM115.0 194.73h12.5v1.45h-12.5zM102.5 196.18h12.5v1.45h-12.5zM102.5 197.62h12.5v1.45h-12.5zM115.0 201.96h12.5v1.45h-12.5zM102.5 203.40h12.5v1.45h-12.5zM115.0 209.19h12.5v1.45h-12.5zM271.6 209.19h12.5v1.45h-12.5zM127.5 210.63h12.5v1.45h-12.5zM271.6 210.63h12.5v1.45h-12.5zM102.5 212.08h25.0v1.45h-25.0zM102.5 219.30h12.5v1.45h-12.5zM115.0 222.19h12.5v1.45h-12.5zM102.5 226.53h12.5v1.45h-12.5zM115.0 229.42h12.5v1.45h-12.5zM102.5 230.86h12.5v1.45h-12.5zM115.0 232.31h12.5v1.45h-12.5zM102.5 235.20h12.5v1.45h-12.5zM271.6 262.66h12.5v1.45h-12.5zM271.6 264.10h12.5v1.45h-12.5zM65.0 299.50h25.0v1.46h-25.0zM259.1 299.50h12.5v1.46h-12.5zM65.0 300.96h12.5v1.46h-12.5zM221.6 300.96h12.5v1.46h-12.5zM362.4 300.96h12.5v1.46h-12.5zM90.0 302.41h12.5v1.46h-12.5zM234.1 302.41h12.5v1.46h-12.5zM77.5 303.87h12.5v1.46h-12.5zM259.1 303.87h12.5v1.46h-12.5zM284.1 303.87h12.5v1.46h-12.5zM221.6 305.33h12.5v1.46h-12.5zM246.6 305.33h12.5v1.46h-12.5zM90.0 306.79h12.5v1.46h-12.5zM284.1 308.24h12.5v1.46h-12.5zM234.1 311.16h25.0v1.46h-25.0zM90.0 312.61h12.5v1.46h-12.5zM259.1 312.61h12.5v1.46h-12.5zM234.1 314.07h12.5v1.46h-12.5zM284.1 314.07h12.5v1.46h-12.5zM337.4 314.07h12.5v1.46h-12.5zM362.4 314.07h12.5v1.46h-12.5zM65.0 315.53h12.5v1.46h-12.5zM221.6 315.53h12.5v1.46h-12.5zM271.6 315.53h12.5v1.46h-12.5zM65.0 316.99h25.0v1.46h-25.0zM234.1 316.99h12.5v1.46h-12.5zM271.6 318.44h12.5v1.46h-12.5zM77.5 319.90h25.0v1.46h-25.0zM362.4 319.90h12.5v1.46h-12.5zM65.0 321.36h25.0v1.46h-25.0zM246.6 321.36h25.0v1.46h-25.0zM284.1 321.36h12.5v1.46h-12.5zM221.6 322.81h12.5v1.46h-12.5zM246.6 322.81h25.0v1.46h-25.0zM284.1 324.27h12.5v1.46h-12.5zM65.0 325.73h12.5v1.46h-12.5zM221.6 325.73h12.5v1.46h-12.5zM284.1 327.19h12.5v1.46h-12.5zM337.4 327.19h12.5v1.46h-12.5zM77.5 328.64h12.5v1.46h-12.5zM221.6 328.64h12.5v1.46h-12.5zM65.0 330.10h12.5v1.46h-12.5zM246.6 330.10h12.5v1.46h-12.5zM246.6 333.01h12.5v1.46h-12.5zM221.6 334.47h12.5v1.46h-12.5zM259.1 334.47h12.5v1.46h-12.5zM337.4 335.93h12.5v1.46h-12.5zM234.1 337.39h12.5v1.46h-12.5zM259.1 337.39h25.0v1.46h-25.0zM65.0 338.84h25.0v1.46h-25.0zM221.6 338.84h12.5v1.46h-12.5zM77.5 341.76h12.5v1.46h-12.5zM246.6 341.76h25.0v1.46h-25.0zM349.9 341.76h25.0v1.46h-25.0zM65.0 343.21h12.5v1.46h-12.5zM77.5 344.67h12.5v1.46h-12.5zM259.1 344.67h12.5v1.46h-12.5zM337.4 344.67h12.5v1.46h-12.5zM234.1 346.13h12.5v1.46h-12.5zM259.1 347.59h12.5v1.46h-12.5zM284.1 347.59h12.5v1.46h-12.5zM221.6 349.04h25.0v1.46h-25.0zM337.4 360.12h12.5v1.43h-12.5zM284.1 380.15h12.5v1.43h-12.5zM337.4 380.15h12.5v1.43h-12.5zM259.1 383.02h12.5v1.43h-12.5zM349.9 383.02h25.0v1.43h-25.0zM271.6 397.15h12.5v1.45h-12.5zM102.5 408.78h12.5v1.45h-12.5z"/><path fill="#eff9db" d="M378.2 38.90h25.0v1.45h-25.0zM403.2 40.35h12.5v1.45h-12.5zM378.2 41.80h12.5v1.45h-12.5zM180.8 43.25h25.0v1.45h-25.0zM378.2 46.16h12.5v1.45h-12.5zM180.8 47.61h37.5v1.45h-37.5zM428.2 47.61h12.5v1.45h-12.5zM180.8 49.06h37.5v1.45h-37.5zM168.3 51.96h12.5v1.45h-12.5zM324.9 56.32h12.5v1.45h-12.5zM180.8 57.77h37.5v1.45h-37.5zM362.4 57.77h12.5v1.45h-12.5zM155.8 59.22h12.5v1.45h-12.5zM143.3 60.67h12.5v1.45h-12.5zM403.2 60.67h12.5v1.45h-12.5zM440.7 62.12h12.5v1.45h-12.5zM403.2 65.03h12.5v1.45h-12.5zM415.7 66.48h12.5v1.45h-12.5zM168.3 69.38h37.5v1.45h-37.5zM180.8 70.83h25.0v1.45h-25.0zM428.2 72.28h12.5v1.45h-12.5zM312.4 73.74h12.5v1.45h-12.5zM77.5 82.45h12.5v1.45h-12.5zM415.7 82.45h37.5v1.45h-37.5zM362.4 85.35h12.5v1.45h-12.5zM415.7 85.35h37.5v1.45h-37.5zM155.8 90.90h12.5v1.45h-12.5zM415.7 90.90h37.5v1.45h-37.5zM180.8 92.35h37.5v1.45h-37.5zM168.3 93.80h12.5v1.45h-12.5zM440.7 93.80h12.5v1.45h-12.5zM90.0 95.25h12.5v1.45h-12.5zM168.3 96.70h12.5v1.45h-12.5zM415.7 98.15h37.5v1.45h-37.5zM65.0 99.61h12.5v1.45h-12.5zM378.2 102.51h37.5v1.45h-37.5zM193.3 103.96h12.5v1.45h-12.5zM180.8 105.41h37.5v1.45h-37.5zM403.2 105.41h12.5v1.45h-12.5zM180.8 106.86h12.5v1.45h-12.5zM155.8 109.76h12.5v1.45h-12.5zM378.2 109.76h37.5v1.45h-37.5zM143.3 112.66h12.5v1.45h-12.5zM193.3 112.66h25.0v1.45h-25.0zM378.2 114.11h12.5v1.45h-12.5zM127.5 115.57h12.5v1.45h-12.5zM415.7 115.57h37.5v1.45h-37.5zM65.0 118.47h12.5v1.45h-12.5zM378.2 118.47h12.5v1.45h-12.5zM390.7 119.92h25.0v1.45h-25.0zM65.0 121.37h12.5v1.45h-12.5zM378.2 121.37h37.5v1.45h-37.5zM65.0 122.82h37.5v1.45h-37.5zM90.0 124.27h12.5v1.45h-12.5zM168.3 125.72h12.5v1.45h-12.5zM65.0 127.17h75.0v1.45h-75.0zM102.5 130.07h37.5v1.45h-37.5zM403.2 130.07h12.5v1.45h-12.5zM428.2 130.07h12.5v1.45h-12.5zM77.5 135.88h12.5v1.45h-12.5zM378.2 137.33h37.5v1.45h-37.5zM127.5 138.78h12.5v1.45h-12.5zM155.8 138.78h12.5v1.45h-12.5zM102.5 140.23h37.5v1.45h-37.5zM102.5 141.68h25.0v1.45h-25.0zM115.0 143.13h12.5v1.45h-12.5zM440.7 143.13h12.5v1.45h-12.5zM428.2 144.58h12.5v1.45h-12.5zM193.3 146.03h12.5v1.45h-12.5zM65.0 148.94h25.0v1.45h-25.0zM102.5 148.94h37.5v1.45h-37.5zM415.7 148.94h12.5v1.45h-12.5zM102.5 151.84h12.5v1.45h-12.5zM127.5 151.84h12.5v1.45h-12.5zM168.3 151.84h12.5v1.45h-12.5zM428.2 153.29h25.0v1.45h-25.0zM193.3 154.74h25.0v1.45h-25.0zM378.2 154.74h50.0v1.45h-50.0zM77.5 156.19h25.0v1.45h-25.0zM180.8 156.19h12.5v1.45h-12.5zM102.5 157.64h12.5v1.45h-12.5zM115.0 159.09h12.5v1.45h-12.5zM77.5 161.99h12.5v1.45h-12.5zM180.8 163.45h12.5v1.45h-12.5zM415.7 163.45h37.5v1.45h-37.5zM155.8 166.35h12.5v1.45h-12.5zM205.8 166.35h12.5v1.45h-12.5zM390.7 166.35h12.5v1.45h-12.5zM193.3 169.25h12.5v1.45h-12.5zM271.6 169.25h12.5v1.45h-12.5zM428.2 175.95h12.5v1.45h-12.5zM65.0 177.39h37.5v1.45h-37.5zM193.3 177.39h25.0v1.45h-25.0zM440.7 177.39h12.5v1.45h-12.5zM65.0 178.84h37.5v1.45h-37.5zM378.2 178.84h12.5v1.45h-12.5zM415.7 178.84h12.5v1.45h-12.5zM440.7 178.84h12.5v1.45h-12.5zM390.7 180.28h12.5v1.45h-12.5zM390.7 181.73h12.5v1.45h-12.5zM415.7 181.73h25.0v1.45h-25.0zM143.3 183.17h12.5v1.45h-12.5zM193.3 183.17h12.5v1.45h-12.5zM390.7 183.17h12.5v1.45h-12.5zM415.7 183.17h12.5v1.45h-12.5zM440.7 183.17h12.5v1.45h-12.5zM378.2 184.62h12.5v1.45h-12.5zM415.7 184.62h12.5v1.45h-12.5zM390.7 186.06h12.5v1.45h-12.5zM378.2 188.95h37.5v1.45h-37.5zM65.0 190.40h37.5v1.45h-37.5zM378.2 190.40h37.5v1.45h-37.5zM155.8 193.29h12.5v1.45h-12.5zM428.2 193.29h12.5v1.45h-12.5zM65.0 194.73h12.5v1.45h-12.5zM378.2 196.18h37.5v1.45h-37.5zM440.7 197.62h12.5v1.45h-12.5zM143.3 200.51h50.0v1.45h-50.0zM440.7 200.51h12.5v1.45h-12.5zM180.8 201.96h12.5v1.45h-12.5zM143.3 204.85h12.5v1.45h-12.5zM180.8 206.30h12.5v1.45h-12.5zM65.0 207.74h37.5v1.45h-37.5zM180.8 207.74h12.5v1.45h-12.5zM415.7 207.74h37.5v1.45h-37.5zM155.8 209.19h12.5v1.45h-12.5zM65.0 212.08h25.0v1.45h-25.0zM65.0 213.52h25.0v1.45h-25.0zM65.0 217.86h25.0v1.45h-25.0zM180.8 219.30h12.5v1.45h-12.5zM378.2 223.64h12.5v1.45h-12.5zM403.2 223.64h12.5v1.45h-12.5zM378.2 225.08h12.5v1.45h-12.5zM440.7 225.08h12.5v1.45h-12.5zM77.5 226.53h12.5v1.45h-12.5zM415.7 227.97h37.5v1.45h-37.5zM77.5 229.42h12.5v1.45h-12.5zM168.3 230.86h12.5v1.45h-12.5zM193.3 230.86h25.0v1.45h-25.0zM65.0 233.75h37.5v1.45h-37.5zM193.3 236.65h12.5v1.45h-12.5zM205.8 238.09h12.5v1.45h-12.5zM415.7 238.09h12.5v1.45h-12.5zM90.0 243.87h12.5v1.45h-12.5zM143.3 243.87h37.5v1.45h-37.5zM143.3 245.32h12.5v1.45h-12.5zM168.3 245.32h12.5v1.45h-12.5zM143.3 246.76h12.5v1.45h-12.5zM428.2 248.21h12.5v1.45h-12.5zM65.0 249.65h37.5v1.45h-37.5zM205.8 251.10h12.5v1.45h-12.5zM390.7 251.10h12.5v1.45h-12.5zM378.2 252.54h12.5v1.45h-12.5zM180.8 253.99h37.5v1.45h-37.5zM390.7 255.43h25.0v1.45h-25.0zM390.7 256.88h12.5v1.45h-12.5zM440.7 258.32h12.5v1.45h-12.5zM127.5 259.77h12.5v1.45h-12.5zM193.3 259.77h12.5v1.45h-12.5zM378.2 259.77h12.5v1.45h-12.5zM127.5 261.21h12.5v1.45h-12.5zM180.8 261.21h12.5v1.45h-12.5zM193.3 262.66h25.0v1.45h-25.0zM143.3 264.10h12.5v1.45h-12.5zM180.8 264.10h12.5v1.45h-12.5zM378.2 264.10h12.5v1.45h-12.5zM143.3 265.55h37.5v1.45h-37.5zM378.2 265.55h50.0v1.45h-50.0zM65.0 269.89h37.5v1.45h-37.5zM143.3 271.33h37.5v1.45h-37.5zM143.3 272.78h37.5v1.45h-37.5zM378.2 274.22h37.5v1.45h-37.5zM143.3 275.67h37.5v1.45h-37.5zM65.0 277.11h37.5v1.45h-37.5zM168.3 277.11h12.5v1.45h-12.5zM102.5 280.00h37.5v1.45h-37.5zM390.7 280.00h12.5v1.45h-12.5zM102.5 282.89h37.5v1.45h-37.5zM90.0 284.34h12.5v1.45h-12.5zM115.0 284.34h12.5v1.45h-12.5zM143.3 284.34h37.5v1.45h-37.5zM415.7 285.78h25.0v1.45h-25.0zM205.8 287.23h12.5v1.45h-12.5zM428.2 287.23h12.5v1.45h-12.5zM77.5 288.67h12.5v1.45h-12.5zM415.7 293.01h37.5v1.45h-37.5zM155.8 300.96h12.5v1.46h-12.5zM193.3 303.87h12.5v1.46h-12.5zM428.2 305.33h12.5v1.46h-12.5zM428.2 306.79h12.5v1.46h-12.5zM155.8 308.24h12.5v1.46h-12.5zM415.7 309.70h12.5v1.46h-12.5zM168.3 311.16h12.5v1.46h-12.5zM205.8 311.16h12.5v1.46h-12.5zM415.7 311.16h12.5v1.46h-12.5zM440.7 311.16h12.5v1.46h-12.5zM143.3 312.61h12.5v1.46h-12.5zM428.2 312.61h25.0v1.46h-25.0zM168.3 314.07h12.5v1.46h-12.5zM440.7 314.07h12.5v1.46h-12.5zM337.4 315.53h12.5v1.46h-12.5zM415.7 315.53h12.5v1.46h-12.5zM193.3 316.99h25.0v1.46h-25.0zM428.2 316.99h12.5v1.46h-12.5zM440.7 318.44h12.5v1.46h-12.5zM415.7 319.90h12.5v1.46h-12.5zM440.7 319.90h12.5v1.46h-12.5zM168.3 321.36h50.0v1.46h-50.0zM349.9 322.81h12.5v1.46h-12.5zM428.2 322.81h12.5v1.46h-12.5zM415.7 325.73h12.5v1.46h-12.5zM440.7 325.73h12.5v1.46h-12.5zM428.2 327.19h25.0v1.46h-25.0zM180.8 328.64h12.5v1.46h-12.5zM415.7 328.64h12.5v1.46h-12.5zM415.7 331.56h12.5v1.46h-12.5zM127.5 334.47h12.5v1.46h-12.5zM440.7 334.47h12.5v1.46h-12.5zM415.7 335.93h12.5v1.46h-12.5zM180.8 337.39h12.5v1.46h-12.5zM205.8 337.39h12.5v1.46h-12.5zM102.5 338.84h37.5v1.46h-37.5zM415.7 338.84h12.5v1.46h-12.5zM440.7 338.84h12.5v1.46h-12.5zM428.2 340.30h25.0v1.46h-25.0zM143.3 341.76h12.5v1.46h-12.5zM155.8 343.21h12.5v1.46h-12.5zM428.2 343.21h25.0v1.46h-25.0zM415.7 344.67h12.5v1.46h-12.5zM193.3 347.59h12.5v1.46h-12.5zM440.7 349.04h12.5v1.46h-12.5zM155.8 354.40h62.5v1.43h-62.5zM127.5 355.83h12.5v1.43h-12.5zM143.3 355.83h12.5v1.43h-12.5zM168.3 355.83h12.5v1.43h-12.5zM193.3 358.69h12.5v1.43h-12.5zM193.3 367.28h12.5v1.43h-12.5zM324.9 367.28h12.5v1.43h-12.5zM65.0 368.71h12.5v1.43h-12.5zM102.5 368.71h12.5v1.43h-12.5zM312.4 373.00h12.5v1.43h-12.5zM65.0 374.43h37.5v1.43h-37.5zM77.5 375.86h12.5v1.43h-12.5zM102.5 378.72h37.5v1.43h-37.5zM193.3 378.72h12.5v1.43h-12.5zM115.0 380.15h12.5v1.43h-12.5zM180.8 380.15h37.5v1.43h-37.5zM102.5 381.58h12.5v1.43h-12.5zM127.5 381.58h12.5v1.43h-12.5zM324.9 383.02h12.5v1.43h-12.5zM193.3 385.88h12.5v1.43h-12.5zM193.3 387.31h12.5v1.43h-12.5zM180.8 388.74h37.5v1.43h-37.5zM299.9 388.74h12.5v1.43h-12.5zM403.2 395.70h12.5v1.45h-12.5zM390.7 405.87h25.0v1.45h-25.0zM324.9 407.32h12.5v1.45h-12.5zM390.7 407.32h12.5v1.45h-12.5zM415.7 408.78h37.5v1.45h-37.5zM115.0 410.23h25.0v1.45h-25.0zM312.4 410.23h12.5v1.45h-12.5zM337.4 410.23h12.5v1.45h-12.5zM428.2 410.23h12.5v1.45h-12.5zM102.5 411.68h12.5v1.45h-12.5zM65.0 413.14h25.0v1.45h-25.0zM65.0 414.59h75.0v1.45h-75.0zM415.7 417.49h12.5v1.45h-12.5z"/><path fill="#fd8a50" d="M403.2 38.90h12.5v1.45h-12.5zM299.9 111.21h12.5v1.45h-12.5zM312.4 143.13h12.5v1.45h-12.5zM312.4 148.94h12.5v1.45h-12.5zM312.4 150.39h12.5v1.45h-12.5zM349.9 200.51h12.5v1.45h-12.5zM378.2 302.41h12.5v1.46h-12.5zM440.7 368.71h12.5v1.43h-12.5zM428.2 375.86h12.5v1.43h-12.5zM193.3 402.96h12.5v1.45h-12.5z"/><path fill="#fed181" d="M65.0 40.35h12.5v1.45h-12.5zM284.1 46.16h12.5v1.45h-12.5zM102.5 59.22h12.5v1.45h-12.5zM102.5 62.12h12.5v1.45h-12.5zM127.5 73.74h12.5v1.45h-12.5zM115.0 75.19h25.0v1.45h-25.0zM127.5 82.45h12.5v1.45h-12.5zM221.6 83.90h12.5v1.45h-12.5zM246.6 83.90h12.5v1.45h-12.5zM271.6 95.25h12.5v1.45h-12.5zM271.6 96.70h12.5v1.45h-12.5zM324.9 99.61h12.5v1.45h-12.5zM284.1 105.41h12.5v1.45h-12.5zM299.9 115.57h12.5v1.45h-12.5zM324.9 118.47h12.5v1.45h-12.5zM312.4 119.92h12.5v1.45h-12.5zM324.9 122.82h12.5v1.45h-12.5zM324.9 132.98h12.5v1.45h-12.5zM324.9 135.88h12.5v1.45h-12.5zM324.9 140.23h12.5v1.45h-12.5zM299.9 144.58h12.5v1.45h-12.5zM299.9 151.84h12.5v1.45h-12.5zM299.9 153.29h12.5v1.45h-12.5zM324.9 157.64h12.5v1.45h-12.5zM378.2 163.45h12.5v1.45h-12.5zM312.4 169.25h12.5v1.45h-12.5zM362.4 177.39h12.5v1.45h-12.5zM284.1 178.84h12.5v1.45h-12.5zM362.4 193.29h12.5v1.45h-12.5zM337.4 214.97h12.5v1.45h-12.5zM246.6 222.19h12.5v1.45h-12.5zM246.6 223.64h12.5v1.45h-12.5zM349.9 223.64h12.5v1.45h-12.5zM362.4 229.42h12.5v1.45h-12.5zM362.4 232.31h12.5v1.45h-12.5zM337.4 236.65h12.5v1.45h-12.5zM234.1 238.09h12.5v1.45h-12.5zM349.9 240.98h12.5v1.45h-12.5zM337.4 243.87h12.5v1.45h-12.5zM349.9 251.10h25.0v1.45h-25.0zM259.1 253.99h12.5v1.45h-12.5zM349.9 253.99h12.5v1.45h-12.5zM337.4 255.43h25.0v1.45h-25.0zM234.1 258.32h12.5v1.45h-12.5zM349.9 271.33h12.5v1.45h-12.5zM349.9 284.34h12.5v1.45h-12.5zM362.4 291.56h12.5v1.45h-12.5zM349.9 293.01h12.5v1.45h-12.5zM378.2 299.50h12.5v1.46h-12.5zM403.2 299.50h12.5v1.46h-12.5zM403.2 302.41h12.5v1.46h-12.5zM378.2 311.16h12.5v1.46h-12.5zM390.7 319.90h12.5v1.46h-12.5zM299.9 334.47h12.5v1.46h-12.5zM271.6 346.13h12.5v1.46h-12.5zM378.2 346.13h12.5v1.46h-12.5zM193.3 364.42h12.5v1.43h-12.5zM415.7 364.42h12.5v1.43h-12.5zM428.2 371.57h12.5v1.43h-12.5zM440.7 374.43h12.5v1.43h-12.5zM259.1 377.29h12.5v1.43h-12.5zM337.4 377.29h12.5v1.43h-12.5zM337.4 378.72h25.0v1.43h-25.0zM440.7 380.15h12.5v1.43h-12.5zM143.3 398.61h12.5v1.45h-12.5zM193.3 401.51h12.5v1.45h-12.5zM349.9 404.42h12.5v1.45h-12.5zM193.3 410.23h12.5v1.45h-12.5zM193.3 413.14h12.5v1.45h-12.5zM143.3 417.49h12.5v1.45h-12.5z"/><path fill="#fd995a" d="M77.5 40.35h12.5v1.45h-12.5zM271.6 46.16h12.5v1.45h-12.5zM312.4 147.49h12.5v1.45h-12.5zM312.4 154.74h12.5v1.45h-12.5zM428.2 167.80h12.5v1.45h-12.5zM349.9 230.86h12.5v1.45h-12.5zM337.4 267.00h12.5v1.45h-12.5zM337.4 272.78h12.5v1.45h-12.5zM362.4 274.22h12.5v1.45h-12.5zM337.4 280.00h12.5v1.45h-12.5zM337.4 281.45h12.5v1.45h-12.5zM337.4 291.56h12.5v1.45h-12.5zM102.5 293.01h12.5v1.45h-12.5zM102.5 294.45h12.5v1.45h-12.5zM390.7 300.96h12.5v1.46h-12.5zM378.2 306.79h12.5v1.46h-12.5zM403.2 312.61h12.5v1.46h-12.5zM378.2 315.53h12.5v1.46h-12.5zM378.2 319.90h12.5v1.46h-12.5zM390.7 337.39h12.5v1.46h-12.5zM415.7 371.57h12.5v1.43h-12.5zM428.2 384.45h12.5v1.43h-12.5z"/><path fill="#fecc7d" d="M90.0 40.35h12.5v1.45h-12.5zM115.0 80.99h25.0v1.45h-25.0zM259.1 90.90h12.5v1.45h-12.5zM324.9 105.41h12.5v1.45h-12.5zM312.4 131.53h12.5v1.45h-12.5zM312.4 135.88h12.5v1.45h-12.5zM168.3 156.19h12.5v1.45h-12.5zM299.9 161.99h12.5v1.45h-12.5zM271.6 181.73h12.5v1.45h-12.5zM271.6 183.17h12.5v1.45h-12.5zM337.4 188.95h12.5v1.45h-12.5zM362.4 213.52h12.5v1.45h-12.5zM246.6 217.86h12.5v1.45h-12.5zM337.4 220.75h12.5v1.45h-12.5zM362.4 220.75h12.5v1.45h-12.5zM362.4 222.19h12.5v1.45h-12.5zM362.4 230.86h12.5v1.45h-12.5zM337.4 235.20h12.5v1.45h-12.5zM362.4 238.09h12.5v1.45h-12.5zM362.4 239.54h12.5v1.45h-12.5zM362.4 242.43h12.5v1.45h-12.5zM362.4 245.32h12.5v1.45h-12.5zM349.9 248.21h12.5v1.45h-12.5zM362.4 249.65h12.5v1.45h-12.5zM349.9 267.00h12.5v1.45h-12.5zM349.9 274.22h12.5v1.45h-12.5zM221.6 278.56h12.5v1.45h-12.5zM362.4 280.00h12.5v1.45h-12.5zM234.1 287.23h12.5v1.45h-12.5zM362.4 287.23h12.5v1.45h-12.5zM362.4 290.12h12.5v1.45h-12.5zM362.4 293.01h12.5v1.45h-12.5zM378.2 309.70h25.0v1.46h-25.0zM403.2 325.73h12.5v1.46h-12.5zM155.8 330.10h12.5v1.46h-12.5zM378.2 338.84h12.5v1.46h-12.5zM390.7 341.76h12.5v1.46h-12.5zM378.2 344.67h12.5v1.46h-12.5zM440.7 357.26h12.5v1.43h-12.5zM428.2 361.55h12.5v1.43h-12.5zM428.2 370.14h12.5v1.43h-12.5zM337.4 395.70h12.5v1.45h-12.5zM180.8 397.15h12.5v1.45h-12.5zM205.8 404.42h12.5v1.45h-12.5zM168.3 416.04h12.5v1.45h-12.5zM193.3 417.49h12.5v1.45h-12.5zM143.3 418.95h12.5v1.45h-12.5z"/><path fill="#fff8b3" d="M259.1 40.35h12.5v1.45h-12.5zM127.5 43.25h12.5v1.45h-12.5zM127.5 47.61h12.5v1.45h-12.5zM102.5 49.06h25.0v1.45h-25.0zM65.0 56.32h12.5v1.45h-12.5zM115.0 63.58h12.5v1.45h-12.5zM284.1 63.58h12.5v1.45h-12.5zM115.0 67.93h12.5v1.45h-12.5zM115.0 69.38h12.5v1.45h-12.5zM440.7 75.19h12.5v1.45h-12.5zM312.4 80.99h12.5v1.45h-12.5zM221.6 92.35h12.5v1.45h-12.5zM259.1 92.35h12.5v1.45h-12.5zM221.6 96.70h12.5v1.45h-12.5zM221.6 101.06h12.5v1.45h-12.5zM390.7 106.86h12.5v1.45h-12.5zM221.6 109.76h25.0v1.45h-25.0zM221.6 111.21h12.5v1.45h-12.5zM259.1 112.66h12.5v1.45h-12.5zM221.6 114.11h12.5v1.45h-12.5zM221.6 117.02h12.5v1.45h-12.5zM221.6 122.82h12.5v1.45h-12.5zM259.1 125.72h12.5v1.45h-12.5zM221.6 127.17h12.5v1.45h-12.5zM221.6 131.53h12.5v1.45h-12.5zM246.6 131.53h12.5v1.45h-12.5zM221.6 132.98h12.5v1.45h-12.5zM246.6 137.33h12.5v1.45h-12.5zM284.1 140.23h12.5v1.45h-12.5zM221.6 141.68h12.5v1.45h-12.5zM246.6 141.68h12.5v1.45h-12.5zM259.1 143.13h12.5v1.45h-12.5zM284.1 146.03h12.5v1.45h-12.5zM284.1 148.94h12.5v1.45h-12.5zM390.7 153.29h12.5v1.45h-12.5zM102.5 154.74h12.5v1.45h-12.5zM259.1 154.74h12.5v1.45h-12.5zM259.1 159.09h12.5v1.45h-12.5zM221.6 160.54h12.5v1.45h-12.5zM221.6 169.25h12.5v1.45h-12.5zM259.1 169.25h12.5v1.45h-12.5zM312.4 175.95h25.0v1.45h-25.0zM299.9 177.39h25.0v1.45h-25.0zM312.4 178.84h12.5v1.45h-12.5zM271.6 180.28h12.5v1.45h-12.5zM324.9 180.28h12.5v1.45h-12.5zM312.4 184.62h12.5v1.45h-12.5zM324.9 186.06h12.5v1.45h-12.5zM246.6 187.51h12.5v1.45h-12.5zM324.9 187.51h12.5v1.45h-12.5zM259.1 188.95h12.5v1.45h-12.5zM284.1 188.95h12.5v1.45h-12.5zM180.8 190.40h12.5v1.45h-12.5zM246.6 190.40h25.0v1.45h-25.0zM349.9 190.40h12.5v1.45h-12.5zM234.1 193.29h12.5v1.45h-12.5zM259.1 193.29h12.5v1.45h-12.5zM349.9 193.29h12.5v1.45h-12.5zM259.1 194.73h12.5v1.45h-12.5zM349.9 194.73h12.5v1.45h-12.5zM127.5 196.18h12.5v1.45h-12.5zM246.6 196.18h12.5v1.45h-12.5zM324.9 196.18h12.5v1.45h-12.5zM259.1 197.62h12.5v1.45h-12.5zM259.1 204.85h12.5v1.45h-12.5zM259.1 206.30h25.0v1.45h-25.0zM234.1 209.19h12.5v1.45h-12.5zM259.1 209.19h12.5v1.45h-12.5zM234.1 214.97h12.5v1.45h-12.5zM312.4 214.97h12.5v1.45h-12.5zM271.6 217.86h12.5v1.45h-12.5zM349.9 217.86h12.5v1.45h-12.5zM271.6 220.75h25.0v1.45h-25.0zM234.1 222.19h12.5v1.45h-12.5zM259.1 222.19h25.0v1.45h-25.0zM259.1 225.08h12.5v1.45h-12.5zM259.1 232.31h12.5v1.45h-12.5zM284.1 236.65h12.5v1.45h-12.5zM205.8 239.54h12.5v1.45h-12.5zM259.1 239.54h12.5v1.45h-12.5zM259.1 240.98h12.5v1.45h-12.5zM271.6 243.87h12.5v1.45h-12.5zM284.1 246.76h12.5v1.45h-12.5zM271.6 249.65h12.5v1.45h-12.5zM271.6 251.10h12.5v1.45h-12.5zM246.6 253.99h12.5v1.45h-12.5zM271.6 259.77h12.5v1.45h-12.5zM271.6 261.21h12.5v1.45h-12.5zM234.1 262.66h12.5v1.45h-12.5zM90.0 268.44h12.5v1.45h-12.5zM115.0 268.44h12.5v1.45h-12.5zM324.9 268.44h12.5v1.45h-12.5zM271.6 272.78h25.0v1.45h-25.0zM271.6 275.67h12.5v1.45h-12.5zM415.7 275.67h12.5v1.45h-12.5zM180.8 280.00h12.5v1.45h-12.5zM271.6 285.78h12.5v1.45h-12.5zM271.6 287.23h12.5v1.45h-12.5zM102.5 288.67h12.5v1.45h-12.5zM271.6 288.67h12.5v1.45h-12.5zM312.4 288.67h12.5v1.45h-12.5zM234.1 291.56h12.5v1.45h-12.5zM415.7 300.96h12.5v1.46h-12.5zM440.7 300.96h12.5v1.46h-12.5zM415.7 302.41h12.5v1.46h-12.5zM299.9 303.87h12.5v1.46h-12.5zM299.9 305.33h12.5v1.46h-12.5zM259.1 311.16h12.5v1.46h-12.5zM324.9 312.61h12.5v1.46h-12.5zM312.4 318.44h12.5v1.46h-12.5zM299.9 322.81h12.5v1.46h-12.5zM312.4 324.27h25.0v1.46h-25.0zM312.4 325.73h12.5v1.46h-12.5zM299.9 341.76h12.5v1.46h-12.5zM234.1 354.40h12.5v1.43h-12.5zM390.7 360.12h12.5v1.43h-12.5zM221.6 371.57h12.5v1.43h-12.5zM271.6 377.29h12.5v1.43h-12.5zM155.8 381.58h25.0v1.43h-25.0zM168.3 384.45h12.5v1.43h-12.5zM168.3 388.74h12.5v1.43h-12.5zM168.3 395.70h12.5v1.45h-12.5zM234.1 397.15h12.5v1.45h-12.5zM246.6 398.61h12.5v1.45h-12.5zM234.1 400.06h12.5v1.45h-12.5zM259.1 400.06h12.5v1.45h-12.5zM246.6 401.51h25.0v1.45h-25.0zM284.1 402.96h12.5v1.45h-12.5zM221.6 404.42h12.5v1.45h-12.5zM246.6 404.42h25.0v1.45h-25.0zM234.1 405.87h12.5v1.45h-12.5zM271.6 405.87h12.5v1.45h-12.5zM155.8 407.32h12.5v1.45h-12.5zM102.5 410.23h12.5v1.45h-12.5zM221.6 410.23h25.0v1.45h-25.0zM271.6 410.23h12.5v1.45h-12.5zM155.8 411.68h12.5v1.45h-12.5zM234.1 411.68h12.5v1.45h-12.5zM259.1 411.68h12.5v1.45h-12.5zM234.1 413.14h12.5v1.45h-12.5zM284.1 413.14h12.5v1.45h-12.5zM221.6 414.59h12.5v1.45h-12.5zM246.6 414.59h25.0v1.45h-25.0zM284.1 416.04h12.5v1.45h-12.5zM259.1 417.49h12.5v1.45h-12.5zM312.4 417.49h12.5v1.45h-12.5zM390.7 417.49h25.0v1.45h-25.0zM234.1 418.95h12.5v1.45h-12.5zM324.9 418.95h12.5v1.45h-12.5z"/><path fill="#fee08b" d="M312.4 40.35h12.5v1.45h-12.5zM65.0 41.80h12.5v1.45h-12.5zM271.6 41.80h12.5v1.45h-12.5zM324.9 41.80h12.5v1.45h-12.5zM378.2 43.25h12.5v1.45h-12.5zM143.3 47.61h12.5v1.45h-12.5zM127.5 57.77h12.5v1.45h-12.5zM127.5 59.22h12.5v1.45h-12.5zM205.8 59.22h12.5v1.45h-12.5zM115.0 60.67h12.5v1.45h-12.5zM127.5 69.38h12.5v1.45h-12.5zM312.4 69.38h12.5v1.45h-12.5zM115.0 72.28h12.5v1.45h-12.5zM362.4 72.28h12.5v1.45h-12.5zM362.4 76.64h12.5v1.45h-12.5zM127.5 83.90h12.5v1.45h-12.5zM127.5 85.35h12.5v1.45h-12.5zM324.9 95.25h12.5v1.45h-12.5zM299.9 98.15h12.5v1.45h-12.5zM299.9 99.61h12.5v1.45h-12.5zM324.9 124.27h12.5v1.45h-12.5zM221.6 125.72h12.5v1.45h-12.5zM299.9 159.09h25.0v1.45h-25.0zM259.1 164.90h12.5v1.45h-12.5zM246.6 175.95h12.5v1.45h-12.5zM349.9 181.73h12.5v1.45h-12.5zM234.1 196.18h12.5v1.45h-12.5zM362.4 203.40h12.5v1.45h-12.5zM362.4 204.85h12.5v1.45h-12.5zM390.7 206.30h12.5v1.45h-12.5zM349.9 207.74h12.5v1.45h-12.5zM440.7 212.08h12.5v1.45h-12.5zM349.9 220.75h12.5v1.45h-12.5zM362.4 225.08h12.5v1.45h-12.5zM337.4 226.53h12.5v1.45h-12.5zM337.4 229.42h12.5v1.45h-12.5zM337.4 233.75h12.5v1.45h-12.5zM362.4 240.98h12.5v1.45h-12.5zM349.9 243.87h25.0v1.45h-25.0zM221.6 245.32h12.5v1.45h-12.5zM234.1 251.10h12.5v1.45h-12.5zM362.4 253.99h12.5v1.45h-12.5zM362.4 269.89h12.5v1.45h-12.5zM246.6 277.11h12.5v1.45h-12.5zM362.4 294.45h12.5v1.45h-12.5zM440.7 303.87h12.5v1.46h-12.5zM155.8 327.19h25.0v1.46h-25.0zM155.8 328.64h12.5v1.46h-12.5zM312.4 333.01h12.5v1.46h-12.5zM312.4 335.93h12.5v1.46h-12.5zM324.9 343.21h12.5v1.46h-12.5zM403.2 343.21h12.5v1.46h-12.5zM205.8 364.42h12.5v1.43h-12.5zM349.9 375.86h12.5v1.43h-12.5zM415.7 384.45h12.5v1.43h-12.5zM428.2 387.31h12.5v1.43h-12.5zM143.3 400.06h12.5v1.45h-12.5zM180.8 404.42h12.5v1.45h-12.5zM259.1 408.78h12.5v1.45h-12.5zM168.3 418.95h12.5v1.45h-12.5z"/><path fill="#fec276" d="M77.5 41.80h12.5v1.45h-12.5zM271.6 44.71h12.5v1.45h-12.5zM234.1 60.67h12.5v1.45h-12.5zM102.5 76.64h12.5v1.45h-12.5zM234.1 76.64h12.5v1.45h-12.5zM299.9 119.92h12.5v1.45h-12.5zM324.9 119.92h12.5v1.45h-12.5zM312.4 121.37h12.5v1.45h-12.5zM312.4 124.27h12.5v1.45h-12.5zM299.9 127.17h12.5v1.45h-12.5zM324.9 130.07h12.5v1.45h-12.5zM312.4 132.98h12.5v1.45h-12.5zM324.9 138.78h12.5v1.45h-12.5zM299.9 150.39h12.5v1.45h-12.5zM299.9 167.80h12.5v1.45h-12.5zM259.1 177.39h12.5v1.45h-12.5zM362.4 194.73h12.5v1.45h-12.5zM415.7 210.63h12.5v1.45h-12.5zM362.4 217.86h12.5v1.45h-12.5zM221.6 223.64h12.5v1.45h-12.5zM349.9 258.32h25.0v1.45h-25.0zM349.9 259.77h12.5v1.45h-12.5zM349.9 261.21h25.0v1.45h-25.0zM337.4 265.55h25.0v1.45h-25.0zM362.4 267.00h12.5v1.45h-12.5zM349.9 269.89h12.5v1.45h-12.5zM362.4 275.67h12.5v1.45h-12.5zM337.4 278.56h12.5v1.45h-12.5zM349.9 282.89h12.5v1.45h-12.5zM362.4 288.67h12.5v1.45h-12.5zM349.9 291.56h12.5v1.45h-12.5zM390.7 303.87h12.5v1.46h-12.5zM403.2 306.79h12.5v1.46h-12.5zM390.7 308.24h12.5v1.46h-12.5zM403.2 309.70h12.5v1.46h-12.5zM390.7 311.16h12.5v1.46h-12.5zM299.9 331.56h12.5v1.46h-12.5zM378.2 331.56h12.5v1.46h-12.5zM299.9 333.01h12.5v1.46h-12.5zM299.9 338.84h12.5v1.46h-12.5zM271.6 344.67h12.5v1.46h-12.5zM440.7 355.83h12.5v1.43h-12.5zM415.7 362.98h12.5v1.43h-12.5zM440.7 362.98h12.5v1.43h-12.5zM440.7 371.57h12.5v1.43h-12.5zM337.4 374.43h12.5v1.43h-12.5zM102.5 385.88h12.5v1.43h-12.5zM440.7 387.31h12.5v1.43h-12.5zM193.3 408.78h12.5v1.45h-12.5z"/><path fill="#fee99a" d="M90.0 41.80h12.5v1.45h-12.5zM90.0 44.71h12.5v1.45h-12.5zM324.9 44.71h12.5v1.45h-12.5zM337.4 57.77h12.5v1.45h-12.5zM349.9 60.67h12.5v1.45h-12.5zM324.9 70.83h12.5v1.45h-12.5zM428.2 73.74h12.5v1.45h-12.5zM246.6 75.19h12.5v1.45h-12.5zM246.6 76.64h12.5v1.45h-12.5zM271.6 76.64h12.5v1.45h-12.5zM312.4 83.90h12.5v1.45h-12.5zM221.6 85.35h12.5v1.45h-12.5zM284.1 111.21h12.5v1.45h-12.5zM337.4 117.02h12.5v1.45h-12.5zM246.6 124.27h12.5v1.45h-12.5zM284.1 124.27h12.5v1.45h-12.5zM246.6 125.72h12.5v1.45h-12.5zM284.1 127.17h12.5v1.45h-12.5zM324.9 137.33h12.5v1.45h-12.5zM193.3 157.64h12.5v1.45h-12.5zM403.2 159.09h12.5v1.45h-12.5zM143.3 163.45h12.5v1.45h-12.5zM234.1 174.50h12.5v1.45h-12.5zM221.6 175.95h25.0v1.45h-25.0zM284.1 175.95h12.5v1.45h-12.5zM234.1 177.39h12.5v1.45h-12.5zM284.1 177.39h12.5v1.45h-12.5zM337.4 177.39h12.5v1.45h-12.5zM362.4 178.84h12.5v1.45h-12.5zM102.5 186.06h12.5v1.45h-12.5zM221.6 187.51h12.5v1.45h-12.5zM349.9 187.51h12.5v1.45h-12.5zM193.3 191.84h12.5v1.45h-12.5zM362.4 197.62h12.5v1.45h-12.5zM362.4 199.07h12.5v1.45h-12.5zM337.4 201.96h12.5v1.45h-12.5zM246.6 203.40h12.5v1.45h-12.5zM234.1 207.74h12.5v1.45h-12.5zM284.1 212.08h12.5v1.45h-12.5zM337.4 212.08h12.5v1.45h-12.5zM246.6 213.52h12.5v1.45h-12.5zM284.1 217.86h12.5v1.45h-12.5zM259.1 226.53h12.5v1.45h-12.5zM259.1 227.97h12.5v1.45h-12.5zM284.1 227.97h12.5v1.45h-12.5zM221.6 229.42h12.5v1.45h-12.5zM271.6 232.31h12.5v1.45h-12.5zM246.6 238.09h25.0v1.45h-25.0zM246.6 239.54h12.5v1.45h-12.5zM259.1 242.43h12.5v1.45h-12.5zM349.9 242.43h12.5v1.45h-12.5zM246.6 243.87h12.5v1.45h-12.5zM234.1 245.32h12.5v1.45h-12.5zM246.6 246.76h12.5v1.45h-12.5zM234.1 248.21h12.5v1.45h-12.5zM221.6 251.10h12.5v1.45h-12.5zM234.1 255.43h12.5v1.45h-12.5zM246.6 256.88h12.5v1.45h-12.5zM246.6 258.32h12.5v1.45h-12.5zM221.6 259.77h12.5v1.45h-12.5zM246.6 261.21h12.5v1.45h-12.5zM259.1 262.66h12.5v1.45h-12.5zM221.6 264.10h12.5v1.45h-12.5zM193.3 269.89h12.5v1.45h-12.5zM221.6 272.78h12.5v1.45h-12.5zM234.1 274.22h12.5v1.45h-12.5zM284.1 274.22h12.5v1.45h-12.5zM234.1 277.11h12.5v1.45h-12.5zM415.7 277.11h12.5v1.45h-12.5zM440.7 277.11h12.5v1.45h-12.5zM246.6 280.00h12.5v1.45h-12.5zM440.7 281.45h12.5v1.45h-12.5zM221.6 285.78h12.5v1.45h-12.5zM246.6 285.78h12.5v1.45h-12.5zM115.0 294.45h25.0v1.45h-25.0zM246.6 294.45h12.5v1.45h-12.5zM428.2 302.41h12.5v1.46h-12.5zM403.2 327.19h12.5v1.46h-12.5zM403.2 328.64h12.5v1.46h-12.5zM312.4 331.56h12.5v1.46h-12.5zM349.9 334.47h12.5v1.46h-12.5zM390.7 343.21h12.5v1.46h-12.5zM299.9 344.67h37.5v1.46h-37.5zM415.7 360.12h12.5v1.43h-12.5zM221.6 365.85h12.5v1.43h-12.5zM234.1 367.28h12.5v1.43h-12.5zM415.7 370.14h12.5v1.43h-12.5zM378.2 374.43h12.5v1.43h-12.5zM415.7 374.43h12.5v1.43h-12.5zM246.6 377.29h12.5v1.43h-12.5zM299.9 381.58h12.5v1.43h-12.5zM390.7 383.02h12.5v1.43h-12.5zM390.7 385.88h12.5v1.43h-12.5zM415.7 385.88h12.5v1.43h-12.5zM246.6 395.70h12.5v1.45h-12.5zM284.1 397.15h12.5v1.45h-12.5zM221.6 407.32h12.5v1.45h-12.5zM180.8 410.23h12.5v1.45h-12.5zM403.2 411.68h12.5v1.45h-12.5zM205.8 413.14h12.5v1.45h-12.5zM155.8 417.49h12.5v1.45h-12.5zM180.8 417.49h12.5v1.45h-12.5z"/><path fill="#f7fccd" d="M102.5 41.80h12.5v1.45h-12.5zM221.6 41.80h50.0v1.45h-50.0zM284.1 41.80h12.5v1.45h-12.5zM403.2 41.80h12.5v1.45h-12.5zM102.5 43.25h12.5v1.45h-12.5zM221.6 43.25h75.0v1.45h-75.0zM415.7 43.25h12.5v1.45h-12.5zM221.6 44.71h25.0v1.45h-25.0zM102.5 46.16h12.5v1.45h-12.5zM193.3 46.16h12.5v1.45h-12.5zM390.7 46.16h12.5v1.45h-12.5zM221.6 47.61h25.0v1.45h-25.0zM259.1 47.61h37.5v1.45h-37.5zM221.6 49.06h75.0v1.45h-75.0zM378.2 49.06h12.5v1.45h-12.5zM403.2 49.06h12.5v1.45h-12.5zM193.3 51.96h12.5v1.45h-12.5zM234.1 51.96h25.0v1.45h-25.0zM193.3 53.42h12.5v1.45h-12.5zM221.6 53.42h62.5v1.45h-62.5zM440.7 53.42h12.5v1.45h-12.5zM180.8 54.87h12.5v1.45h-12.5zM143.3 56.32h75.0v1.45h-75.0zM259.1 56.32h37.5v1.45h-37.5zM378.2 56.32h12.5v1.45h-12.5zM415.7 56.32h37.5v1.45h-37.5zM65.0 57.77h37.5v1.45h-37.5zM259.1 57.77h25.0v1.45h-25.0zM77.5 59.22h25.0v1.45h-25.0zM221.6 59.22h75.0v1.45h-75.0zM65.0 60.67h37.5v1.45h-37.5zM168.3 60.67h12.5v1.45h-12.5zM193.3 60.67h12.5v1.45h-12.5zM246.6 60.67h50.0v1.45h-50.0zM415.7 60.67h37.5v1.45h-37.5zM65.0 62.12h37.5v1.45h-37.5zM155.8 62.12h25.0v1.45h-25.0zM205.8 62.12h12.5v1.45h-12.5zM234.1 62.12h25.0v1.45h-25.0zM271.6 62.12h25.0v1.45h-25.0zM65.0 63.58h37.5v1.45h-37.5zM234.1 63.58h12.5v1.45h-12.5zM65.0 65.03h37.5v1.45h-37.5zM143.3 65.03h50.0v1.45h-50.0zM205.8 65.03h12.5v1.45h-12.5zM221.6 65.03h12.5v1.45h-12.5zM259.1 65.03h37.5v1.45h-37.5zM221.6 66.48h75.0v1.45h-75.0zM90.0 67.93h12.5v1.45h-12.5zM221.6 67.93h25.0v1.45h-25.0zM259.1 67.93h37.5v1.45h-37.5zM259.1 69.38h12.5v1.45h-12.5zM284.1 69.38h12.5v1.45h-12.5zM378.2 69.38h12.5v1.45h-12.5zM259.1 70.83h12.5v1.45h-12.5zM284.1 70.83h12.5v1.45h-12.5zM65.0 72.28h37.5v1.45h-37.5zM193.3 72.28h12.5v1.45h-12.5zM205.8 73.74h12.5v1.45h-12.5zM221.6 73.74h37.5v1.45h-37.5zM65.0 75.19h12.5v1.45h-12.5zM90.0 75.19h12.5v1.45h-12.5zM259.1 75.19h12.5v1.45h-12.5zM65.0 76.64h12.5v1.45h-12.5zM180.8 76.64h37.5v1.45h-37.5zM65.0 78.09h37.5v1.45h-37.5zM168.3 78.09h12.5v1.45h-12.5zM221.6 78.09h37.5v1.45h-37.5zM65.0 79.54h37.5v1.45h-37.5zM221.6 79.54h25.0v1.45h-25.0zM259.1 79.54h37.5v1.45h-37.5zM378.2 79.54h50.0v1.45h-50.0zM65.0 80.99h37.5v1.45h-37.5zM221.6 80.99h12.5v1.45h-12.5zM246.6 80.99h12.5v1.45h-12.5zM259.1 82.45h37.5v1.45h-37.5zM65.0 83.90h37.5v1.45h-37.5zM259.1 83.90h12.5v1.45h-12.5zM259.1 85.35h37.5v1.45h-37.5zM378.2 85.35h12.5v1.45h-12.5zM180.8 90.90h12.5v1.45h-12.5zM205.8 90.90h12.5v1.45h-12.5zM390.7 90.90h12.5v1.45h-12.5zM90.0 92.35h12.5v1.45h-12.5zM143.3 92.35h37.5v1.45h-37.5zM90.0 93.80h12.5v1.45h-12.5zM102.5 95.25h25.0v1.45h-25.0zM168.3 95.25h12.5v1.45h-12.5zM127.5 98.15h12.5v1.45h-12.5zM102.5 99.61h37.5v1.45h-37.5zM180.8 99.61h37.5v1.45h-37.5zM428.2 99.61h12.5v1.45h-12.5zM90.0 101.06h12.5v1.45h-12.5zM77.5 103.96h12.5v1.45h-12.5zM143.3 103.96h37.5v1.45h-37.5zM205.8 103.96h12.5v1.45h-12.5zM378.2 103.96h12.5v1.45h-12.5zM65.0 105.41h12.5v1.45h-12.5zM90.0 105.41h12.5v1.45h-12.5zM143.3 105.41h12.5v1.45h-12.5zM127.5 106.86h12.5v1.45h-12.5zM378.2 106.86h12.5v1.45h-12.5zM403.2 106.86h50.0v1.45h-50.0zM115.0 109.76h12.5v1.45h-12.5zM155.8 114.11h12.5v1.45h-12.5zM180.8 115.57h12.5v1.45h-12.5zM378.2 115.57h12.5v1.45h-12.5zM193.3 117.02h12.5v1.45h-12.5zM77.5 118.47h12.5v1.45h-12.5zM415.7 121.37h37.5v1.45h-37.5zM102.5 122.82h12.5v1.45h-12.5zM168.3 122.82h12.5v1.45h-12.5zM378.2 122.82h37.5v1.45h-37.5zM143.3 127.17h12.5v1.45h-12.5zM168.3 127.17h12.5v1.45h-12.5zM378.2 127.17h25.0v1.45h-25.0zM180.8 128.62h25.0v1.45h-25.0zM378.2 130.07h12.5v1.45h-12.5zM415.7 130.07h12.5v1.45h-12.5zM77.5 131.53h25.0v1.45h-25.0zM168.3 132.98h12.5v1.45h-12.5zM143.3 134.43h37.5v1.45h-37.5zM205.8 135.88h12.5v1.45h-12.5zM180.8 137.33h25.0v1.45h-25.0zM90.0 138.78h12.5v1.45h-12.5zM390.7 138.78h12.5v1.45h-12.5zM180.8 140.23h37.5v1.45h-37.5zM378.2 141.68h12.5v1.45h-12.5zM415.7 141.68h12.5v1.45h-12.5zM143.3 143.13h12.5v1.45h-12.5zM193.3 143.13h12.5v1.45h-12.5zM390.7 143.13h12.5v1.45h-12.5zM127.5 144.58h12.5v1.45h-12.5zM271.6 146.03h12.5v1.45h-12.5zM77.5 147.49h12.5v1.45h-12.5zM205.8 147.49h12.5v1.45h-12.5zM102.5 150.39h37.5v1.45h-37.5zM155.8 150.39h12.5v1.45h-12.5zM378.2 150.39h37.5v1.45h-37.5zM65.0 151.84h12.5v1.45h-12.5zM378.2 151.84h12.5v1.45h-12.5zM127.5 153.29h12.5v1.45h-12.5zM378.2 153.29h12.5v1.45h-12.5zM205.8 156.19h12.5v1.45h-12.5zM378.2 159.09h12.5v1.45h-12.5zM115.0 160.54h25.0v1.45h-25.0zM180.8 160.54h12.5v1.45h-12.5zM102.5 161.99h37.5v1.45h-37.5zM168.3 161.99h12.5v1.45h-12.5zM378.2 161.99h37.5v1.45h-37.5zM102.5 166.35h12.5v1.45h-12.5zM127.5 166.35h12.5v1.45h-12.5zM65.0 167.80h12.5v1.45h-12.5zM168.3 167.80h12.5v1.45h-12.5zM65.0 174.50h37.5v1.45h-37.5zM127.5 177.39h12.5v1.45h-12.5zM143.3 177.39h37.5v1.45h-37.5zM115.0 180.28h12.5v1.45h-12.5zM193.3 180.28h12.5v1.45h-12.5zM378.2 180.28h12.5v1.45h-12.5zM143.3 181.73h12.5v1.45h-12.5zM127.5 184.62h12.5v1.45h-12.5zM180.8 184.62h12.5v1.45h-12.5zM65.0 187.51h12.5v1.45h-12.5zM127.5 187.51h12.5v1.45h-12.5zM440.7 188.95h12.5v1.45h-12.5zM115.0 190.40h12.5v1.45h-12.5zM77.5 191.84h12.5v1.45h-12.5zM115.0 193.29h12.5v1.45h-12.5zM143.3 196.18h12.5v1.45h-12.5zM440.7 196.18h12.5v1.45h-12.5zM115.0 199.07h25.0v1.45h-25.0zM168.3 199.07h12.5v1.45h-12.5zM390.7 199.07h12.5v1.45h-12.5zM205.8 200.51h12.5v1.45h-12.5zM90.0 201.96h25.0v1.45h-25.0zM428.2 204.85h12.5v1.45h-12.5zM143.3 207.74h37.5v1.45h-37.5zM271.6 207.74h12.5v1.45h-12.5zM205.8 209.19h12.5v1.45h-12.5zM415.7 209.19h37.5v1.45h-37.5zM168.3 210.63h12.5v1.45h-12.5zM143.3 212.08h12.5v1.45h-12.5zM378.2 214.97h50.0v1.45h-50.0zM440.7 214.97h12.5v1.45h-12.5zM102.5 216.41h12.5v1.45h-12.5zM415.7 216.41h12.5v1.45h-12.5zM440.7 216.41h12.5v1.45h-12.5zM115.0 219.30h12.5v1.45h-12.5zM143.3 219.30h37.5v1.45h-37.5zM143.3 220.75h25.0v1.45h-25.0zM193.3 220.75h12.5v1.45h-12.5zM180.8 222.19h37.5v1.45h-37.5zM77.5 223.64h12.5v1.45h-12.5zM65.0 225.08h12.5v1.45h-12.5zM403.2 225.08h12.5v1.45h-12.5zM115.0 226.53h12.5v1.45h-12.5zM205.8 226.53h12.5v1.45h-12.5zM415.7 226.53h12.5v1.45h-12.5zM390.7 227.97h12.5v1.45h-12.5zM102.5 229.42h12.5v1.45h-12.5zM143.3 229.42h75.0v1.45h-75.0zM415.7 229.42h25.0v1.45h-25.0zM143.3 232.31h37.5v1.45h-37.5zM428.2 232.31h12.5v1.45h-12.5zM115.0 233.75h12.5v1.45h-12.5zM180.8 233.75h25.0v1.45h-25.0zM403.2 233.75h12.5v1.45h-12.5zM143.3 236.65h12.5v1.45h-12.5zM168.3 236.65h12.5v1.45h-12.5zM390.7 236.65h12.5v1.45h-12.5zM440.7 236.65h12.5v1.45h-12.5zM77.5 238.09h12.5v1.45h-12.5zM440.7 238.09h12.5v1.45h-12.5zM65.0 239.54h12.5v1.45h-12.5zM102.5 239.54h37.5v1.45h-37.5zM168.3 239.54h12.5v1.45h-12.5zM403.2 239.54h12.5v1.45h-12.5zM378.2 240.98h12.5v1.45h-12.5zM143.3 242.43h12.5v1.45h-12.5zM378.2 243.87h12.5v1.45h-12.5zM415.7 243.87h37.5v1.45h-37.5zM127.5 245.32h12.5v1.45h-12.5zM180.8 245.32h37.5v1.45h-37.5zM65.0 246.76h12.5v1.45h-12.5zM193.3 248.21h12.5v1.45h-12.5zM143.3 249.65h37.5v1.45h-37.5zM378.2 249.65h12.5v1.45h-12.5zM65.0 252.54h37.5v1.45h-37.5zM143.3 252.54h12.5v1.45h-12.5zM168.3 252.54h12.5v1.45h-12.5zM77.5 253.99h12.5v1.45h-12.5zM415.7 255.43h37.5v1.45h-37.5zM155.8 256.88h12.5v1.45h-12.5zM378.2 258.32h12.5v1.45h-12.5zM90.0 261.21h12.5v1.45h-12.5zM115.0 262.66h12.5v1.45h-12.5zM65.0 265.55h37.5v1.45h-37.5zM271.6 265.55h12.5v1.45h-12.5zM143.3 267.00h12.5v1.45h-12.5zM168.3 267.00h12.5v1.45h-12.5zM390.7 267.00h12.5v1.45h-12.5zM65.0 268.44h12.5v1.45h-12.5zM415.7 268.44h12.5v1.45h-12.5zM102.5 269.89h37.5v1.45h-37.5zM180.8 269.89h12.5v1.45h-12.5zM205.8 269.89h12.5v1.45h-12.5zM428.2 269.89h12.5v1.45h-12.5zM65.0 271.33h62.5v1.45h-62.5zM180.8 272.78h12.5v1.45h-12.5zM205.8 272.78h12.5v1.45h-12.5zM390.7 272.78h25.0v1.45h-25.0zM415.7 280.00h37.5v1.45h-37.5zM90.0 281.45h12.5v1.45h-12.5zM299.9 281.45h12.5v1.45h-12.5zM378.2 281.45h25.0v1.45h-25.0zM77.5 282.89h12.5v1.45h-12.5zM143.3 282.89h12.5v1.45h-12.5zM155.8 285.78h25.0v1.45h-25.0zM168.3 288.67h12.5v1.45h-12.5zM403.2 288.67h12.5v1.45h-12.5zM415.7 291.56h37.5v1.45h-37.5zM205.8 293.01h12.5v1.45h-12.5zM90.0 294.45h12.5v1.45h-12.5zM180.8 294.45h37.5v1.45h-37.5zM90.0 299.50h25.0v1.46h-25.0zM221.6 299.50h12.5v1.46h-12.5zM337.4 299.50h12.5v1.46h-12.5zM77.5 300.96h12.5v1.46h-12.5zM284.1 300.96h12.5v1.46h-12.5zM65.0 302.41h25.0v1.46h-25.0zM259.1 302.41h12.5v1.46h-12.5zM284.1 302.41h12.5v1.46h-12.5zM246.6 303.87h12.5v1.46h-12.5zM362.4 303.87h12.5v1.46h-12.5zM77.5 305.33h12.5v1.46h-12.5zM259.1 305.33h12.5v1.46h-12.5zM284.1 305.33h12.5v1.46h-12.5zM65.0 306.79h25.0v1.46h-25.0zM102.5 306.79h12.5v1.46h-12.5zM246.6 306.79h12.5v1.46h-12.5zM284.1 306.79h12.5v1.46h-12.5zM349.9 306.79h25.0v1.46h-25.0zM90.0 308.24h12.5v1.46h-12.5zM234.1 308.24h12.5v1.46h-12.5zM337.4 308.24h12.5v1.46h-12.5zM65.0 309.70h25.0v1.46h-25.0zM180.8 309.70h12.5v1.46h-12.5zM362.4 311.16h12.5v1.46h-12.5zM65.0 312.61h12.5v1.46h-12.5zM155.8 312.61h25.0v1.46h-25.0zM221.6 312.61h12.5v1.46h-12.5zM337.4 312.61h12.5v1.46h-12.5zM349.9 314.07h12.5v1.46h-12.5zM143.3 315.53h37.5v1.46h-37.5zM234.1 315.53h12.5v1.46h-12.5zM349.9 315.53h12.5v1.46h-12.5zM102.5 316.99h37.5v1.46h-37.5zM362.4 316.99h12.5v1.46h-12.5zM77.5 318.44h62.5v1.46h-62.5zM234.1 318.44h12.5v1.46h-12.5zM65.0 319.90h12.5v1.46h-12.5zM193.3 319.90h25.0v1.46h-25.0zM259.1 319.90h12.5v1.46h-12.5zM90.0 321.36h12.5v1.46h-12.5zM337.4 321.36h25.0v1.46h-25.0zM102.5 322.81h12.5v1.46h-12.5zM143.3 322.81h37.5v1.46h-37.5zM337.4 322.81h12.5v1.46h-12.5zM77.5 324.27h25.0v1.46h-25.0zM115.0 324.27h12.5v1.46h-12.5zM284.1 325.73h12.5v1.46h-12.5zM90.0 327.19h12.5v1.46h-12.5zM246.6 327.19h12.5v1.46h-12.5zM349.9 327.19h12.5v1.46h-12.5zM65.0 328.64h12.5v1.46h-12.5zM205.8 328.64h12.5v1.46h-12.5zM349.9 328.64h12.5v1.46h-12.5zM168.3 330.10h12.5v1.46h-12.5zM234.1 330.10h12.5v1.46h-12.5zM349.9 330.10h12.5v1.46h-12.5zM65.0 331.56h25.0v1.46h-25.0zM180.8 331.56h37.5v1.46h-37.5zM246.6 331.56h12.5v1.46h-12.5zM362.4 331.56h12.5v1.46h-12.5zM77.5 333.01h12.5v1.46h-12.5zM143.3 333.01h37.5v1.46h-37.5zM234.1 333.01h12.5v1.46h-12.5zM65.0 334.47h37.5v1.46h-37.5zM65.0 335.93h12.5v1.46h-12.5zM90.0 335.93h12.5v1.46h-12.5zM362.4 335.93h12.5v1.46h-12.5zM65.0 337.39h12.5v1.46h-12.5zM168.3 338.84h50.0v1.46h-50.0zM65.0 340.30h12.5v1.46h-12.5zM90.0 340.30h12.5v1.46h-12.5zM115.0 340.30h12.5v1.46h-12.5zM205.8 340.30h12.5v1.46h-12.5zM284.1 340.30h12.5v1.46h-12.5zM337.4 340.30h25.0v1.46h-25.0zM102.5 341.76h37.5v1.46h-37.5zM349.9 343.21h25.0v1.46h-25.0zM65.0 344.67h12.5v1.46h-12.5zM180.8 346.13h37.5v1.46h-37.5zM221.6 346.13h12.5v1.46h-12.5zM337.4 349.04h12.5v1.46h-12.5zM362.4 349.04h12.5v1.46h-12.5zM299.9 354.40h12.5v1.43h-12.5zM312.4 355.83h12.5v1.43h-12.5zM77.5 357.26h12.5v1.43h-12.5zM168.3 357.26h50.0v1.43h-50.0zM299.9 357.26h25.0v1.43h-25.0zM115.0 358.69h12.5v1.43h-12.5zM312.4 358.69h12.5v1.43h-12.5zM299.9 360.12h12.5v1.43h-12.5zM246.6 361.55h12.5v1.43h-12.5zM65.0 362.98h37.5v1.43h-37.5zM65.0 364.42h50.0v1.43h-50.0zM155.8 364.42h12.5v1.43h-12.5zM143.3 365.85h12.5v1.43h-12.5zM299.9 365.85h12.5v1.43h-12.5zM90.0 368.71h12.5v1.43h-12.5zM299.9 368.71h12.5v1.43h-12.5zM180.8 370.14h37.5v1.43h-37.5zM299.9 370.14h12.5v1.43h-12.5zM102.5 371.57h37.5v1.43h-37.5zM180.8 373.00h12.5v1.43h-12.5zM299.9 374.43h12.5v1.43h-12.5zM127.5 375.86h12.5v1.43h-12.5zM65.0 377.29h37.5v1.43h-37.5zM180.8 377.29h25.0v1.43h-25.0zM312.4 377.29h12.5v1.43h-12.5zM102.5 380.15h12.5v1.43h-12.5zM180.8 383.02h12.5v1.43h-12.5zM65.0 384.45h37.5v1.43h-37.5zM180.8 384.45h37.5v1.43h-37.5zM312.4 387.31h12.5v1.43h-12.5zM337.4 387.31h12.5v1.43h-12.5zM378.2 397.15h37.5v1.45h-37.5zM299.9 400.06h25.0v1.45h-25.0zM415.7 400.06h37.5v1.45h-37.5zM102.5 401.51h37.5v1.45h-37.5zM337.4 401.51h12.5v1.45h-12.5zM428.2 404.42h12.5v1.45h-12.5zM440.7 405.87h12.5v1.45h-12.5zM115.0 407.32h12.5v1.45h-12.5zM337.4 407.32h12.5v1.45h-12.5zM349.9 408.78h12.5v1.45h-12.5zM378.2 408.78h12.5v1.45h-12.5zM403.2 413.14h50.0v1.45h-50.0zM415.7 414.59h37.5v1.45h-37.5zM362.4 416.04h12.5v1.45h-12.5zM362.4 417.49h12.5v1.45h-12.5zM428.2 417.49h12.5v1.45h-12.5z"/><path fill="#fed684" d="M77.5 43.25h12.5v1.45h-12.5zM77.5 44.71h12.5v1.45h-12.5zM259.1 44.71h12.5v1.45h-12.5zM102.5 50.51h12.5v1.45h-12.5zM127.5 56.32h12.5v1.45h-12.5zM102.5 60.67h12.5v1.45h-12.5zM127.5 62.12h12.5v1.45h-12.5zM127.5 76.64h12.5v1.45h-12.5zM127.5 79.54h12.5v1.45h-12.5zM246.6 82.45h12.5v1.45h-12.5zM246.6 85.35h12.5v1.45h-12.5zM271.6 112.66h12.5v1.45h-12.5zM324.9 117.02h12.5v1.45h-12.5zM324.9 121.37h12.5v1.45h-12.5zM299.9 125.72h12.5v1.45h-12.5zM324.9 128.62h12.5v1.45h-12.5zM299.9 141.68h12.5v1.45h-12.5zM271.6 150.39h12.5v1.45h-12.5zM168.3 154.74h12.5v1.45h-12.5zM299.9 156.19h12.5v1.45h-12.5zM193.3 167.80h12.5v1.45h-12.5zM324.9 167.80h12.5v1.45h-12.5zM259.1 180.28h12.5v1.45h-12.5zM299.9 180.28h25.0v1.45h-25.0zM337.4 181.73h12.5v1.45h-12.5zM102.5 199.07h12.5v1.45h-12.5zM362.4 200.51h12.5v1.45h-12.5zM403.2 206.30h12.5v1.45h-12.5zM337.4 219.30h12.5v1.45h-12.5zM221.6 242.43h12.5v1.45h-12.5zM259.1 251.10h12.5v1.45h-12.5zM337.4 258.32h12.5v1.45h-12.5zM221.6 262.66h12.5v1.45h-12.5zM259.1 264.10h12.5v1.45h-12.5zM324.9 264.10h12.5v1.45h-12.5zM362.4 268.44h12.5v1.45h-12.5zM362.4 278.56h12.5v1.45h-12.5zM362.4 281.45h12.5v1.45h-12.5zM349.9 288.67h12.5v1.45h-12.5zM337.4 293.01h12.5v1.45h-12.5zM378.2 300.96h12.5v1.46h-12.5zM403.2 300.96h12.5v1.46h-12.5zM378.2 324.27h12.5v1.46h-12.5zM324.9 327.19h12.5v1.46h-12.5zM324.9 337.39h12.5v1.46h-12.5zM324.9 338.84h12.5v1.46h-12.5zM378.2 340.30h12.5v1.46h-12.5zM271.6 343.21h12.5v1.46h-12.5zM299.9 343.21h12.5v1.46h-12.5zM403.2 344.67h12.5v1.46h-12.5zM403.2 347.59h12.5v1.46h-12.5zM440.7 358.69h12.5v1.43h-12.5zM440.7 365.85h12.5v1.43h-12.5zM349.9 368.71h12.5v1.43h-12.5zM259.1 374.43h12.5v1.43h-12.5zM337.4 375.86h12.5v1.43h-12.5zM440.7 377.29h12.5v1.43h-12.5zM428.2 390.17h25.0v1.43h-25.0zM205.8 395.70h12.5v1.45h-12.5zM362.4 395.70h12.5v1.45h-12.5zM205.8 397.15h12.5v1.45h-12.5zM193.3 398.61h12.5v1.45h-12.5zM205.8 408.78h12.5v1.45h-12.5zM180.8 414.59h25.0v1.45h-25.0z"/><path fill="#fbfdc6" d="M143.3 43.25h12.5v1.45h-12.5zM324.9 43.25h12.5v1.45h-12.5zM337.4 46.16h12.5v1.45h-12.5zM362.4 46.16h12.5v1.45h-12.5zM221.6 51.96h12.5v1.45h-12.5zM324.9 51.96h25.0v1.45h-25.0zM180.8 53.42h12.5v1.45h-12.5zM362.4 53.42h12.5v1.45h-12.5zM259.1 54.87h37.5v1.45h-37.5zM390.7 54.87h12.5v1.45h-12.5zM234.1 56.32h12.5v1.45h-12.5zM324.9 57.77h12.5v1.45h-12.5zM143.3 59.22h12.5v1.45h-12.5zM299.9 60.67h37.5v1.45h-37.5zM378.2 62.12h12.5v1.45h-12.5zM299.9 63.58h37.5v1.45h-37.5zM349.9 66.48h25.0v1.45h-25.0zM403.2 66.48h12.5v1.45h-12.5zM246.6 67.93h12.5v1.45h-12.5zM312.4 67.93h12.5v1.45h-12.5zM143.3 75.19h12.5v1.45h-12.5zM259.1 76.64h12.5v1.45h-12.5zM155.8 78.09h12.5v1.45h-12.5zM246.6 79.54h12.5v1.45h-12.5zM299.9 79.54h37.5v1.45h-37.5zM403.2 80.99h12.5v1.45h-12.5zM378.2 82.45h12.5v1.45h-12.5zM205.8 83.90h12.5v1.45h-12.5zM271.6 83.90h25.0v1.45h-25.0zM403.2 83.90h12.5v1.45h-12.5zM440.7 83.90h12.5v1.45h-12.5zM180.8 85.35h12.5v1.45h-12.5zM77.5 92.35h12.5v1.45h-12.5zM155.8 93.80h12.5v1.45h-12.5zM362.4 98.15h12.5v1.45h-12.5zM143.3 99.61h12.5v1.45h-12.5zM362.4 99.61h12.5v1.45h-12.5zM362.4 101.06h12.5v1.45h-12.5zM349.9 102.51h12.5v1.45h-12.5zM90.0 103.96h12.5v1.45h-12.5zM362.4 108.31h12.5v1.45h-12.5zM90.0 109.76h12.5v1.45h-12.5zM349.9 114.11h12.5v1.45h-12.5zM102.5 115.57h12.5v1.45h-12.5zM193.3 118.47h12.5v1.45h-12.5zM349.9 119.92h12.5v1.45h-12.5zM115.0 122.82h12.5v1.45h-12.5zM362.4 122.82h12.5v1.45h-12.5zM168.3 124.27h12.5v1.45h-12.5zM349.9 124.27h12.5v1.45h-12.5zM143.3 125.72h12.5v1.45h-12.5zM155.8 128.62h12.5v1.45h-12.5zM246.6 130.07h12.5v1.45h-12.5zM349.9 130.07h12.5v1.45h-12.5zM180.8 132.98h12.5v1.45h-12.5zM349.9 134.43h25.0v1.45h-25.0zM127.5 137.33h12.5v1.45h-12.5zM77.5 138.78h12.5v1.45h-12.5zM180.8 138.78h12.5v1.45h-12.5zM337.4 141.68h12.5v1.45h-12.5zM143.3 144.58h12.5v1.45h-12.5zM193.3 144.58h12.5v1.45h-12.5zM362.4 144.58h12.5v1.45h-12.5zM337.4 146.03h12.5v1.45h-12.5zM362.4 146.03h12.5v1.45h-12.5zM362.4 148.94h12.5v1.45h-12.5zM428.2 150.39h12.5v1.45h-12.5zM362.4 151.84h12.5v1.45h-12.5zM362.4 153.29h12.5v1.45h-12.5zM378.2 160.54h12.5v1.45h-12.5zM155.8 164.90h12.5v1.45h-12.5zM428.2 166.35h12.5v1.45h-12.5zM77.5 169.25h12.5v1.45h-12.5zM337.4 169.25h12.5v1.45h-12.5zM127.5 175.95h12.5v1.45h-12.5zM115.0 177.39h12.5v1.45h-12.5zM115.0 178.84h25.0v1.45h-25.0zM271.6 178.84h12.5v1.45h-12.5zM127.5 180.28h12.5v1.45h-12.5zM115.0 181.73h12.5v1.45h-12.5zM102.5 184.62h12.5v1.45h-12.5zM102.5 187.51h12.5v1.45h-12.5zM102.5 188.95h12.5v1.45h-12.5zM127.5 188.95h12.5v1.45h-12.5zM168.3 188.95h12.5v1.45h-12.5zM127.5 190.40h12.5v1.45h-12.5zM155.8 190.40h12.5v1.45h-12.5zM102.5 191.84h12.5v1.45h-12.5zM102.5 194.73h12.5v1.45h-12.5zM127.5 194.73h12.5v1.45h-12.5zM440.7 194.73h12.5v1.45h-12.5zM180.8 196.18h12.5v1.45h-12.5zM115.0 197.62h25.0v1.45h-25.0zM193.3 197.62h12.5v1.45h-12.5zM90.0 199.07h12.5v1.45h-12.5zM102.5 200.51h37.5v1.45h-37.5zM127.5 201.96h12.5v1.45h-12.5zM115.0 203.40h25.0v1.45h-25.0zM428.2 203.40h12.5v1.45h-12.5zM193.3 204.85h12.5v1.45h-12.5zM127.5 206.30h12.5v1.45h-12.5zM102.5 207.74h12.5v1.45h-12.5zM127.5 207.74h12.5v1.45h-12.5zM102.5 209.19h12.5v1.45h-12.5zM127.5 209.19h12.5v1.45h-12.5zM143.3 209.19h12.5v1.45h-12.5zM90.0 210.63h12.5v1.45h-12.5zM115.0 210.63h12.5v1.45h-12.5zM143.3 210.63h12.5v1.45h-12.5zM127.5 212.08h12.5v1.45h-12.5zM205.8 216.41h12.5v1.45h-12.5zM102.5 217.86h37.5v1.45h-37.5zM90.0 219.30h12.5v1.45h-12.5zM102.5 220.75h12.5v1.45h-12.5zM403.2 220.75h12.5v1.45h-12.5zM102.5 222.19h12.5v1.45h-12.5zM403.2 222.19h12.5v1.45h-12.5zM102.5 223.64h25.0v1.45h-25.0zM180.8 223.64h12.5v1.45h-12.5zM90.0 225.08h12.5v1.45h-12.5zM102.5 227.97h12.5v1.45h-12.5zM127.5 230.86h12.5v1.45h-12.5zM403.2 232.31h12.5v1.45h-12.5zM127.5 233.75h12.5v1.45h-12.5zM115.0 235.20h12.5v1.45h-12.5zM271.6 236.65h12.5v1.45h-12.5zM65.0 238.09h12.5v1.45h-12.5zM168.3 238.09h12.5v1.45h-12.5zM143.3 239.54h12.5v1.45h-12.5zM271.6 239.54h12.5v1.45h-12.5zM271.6 240.98h12.5v1.45h-12.5zM180.8 242.43h12.5v1.45h-12.5zM390.7 245.32h12.5v1.45h-12.5zM143.3 248.21h25.0v1.45h-25.0zM205.8 248.21h12.5v1.45h-12.5zM440.7 248.21h12.5v1.45h-12.5zM403.2 249.65h12.5v1.45h-12.5zM115.0 252.54h12.5v1.45h-12.5zM168.3 253.99h12.5v1.45h-12.5zM127.5 255.43h12.5v1.45h-12.5zM299.9 255.43h12.5v1.45h-12.5zM115.0 256.88h12.5v1.45h-12.5zM65.0 258.32h12.5v1.45h-12.5zM115.0 258.32h12.5v1.45h-12.5zM65.0 261.21h12.5v1.45h-12.5zM143.3 261.21h12.5v1.45h-12.5zM440.7 261.21h12.5v1.45h-12.5zM143.3 262.66h12.5v1.45h-12.5zM155.8 280.00h12.5v1.45h-12.5zM115.0 281.45h12.5v1.45h-12.5zM415.7 284.34h12.5v1.45h-12.5zM403.2 285.78h12.5v1.45h-12.5zM102.5 287.23h12.5v1.45h-12.5zM205.8 288.67h12.5v1.45h-12.5zM403.2 293.01h12.5v1.45h-12.5zM246.6 299.50h12.5v1.46h-12.5zM271.6 299.50h25.0v1.46h-25.0zM246.6 300.96h12.5v1.46h-12.5zM168.3 302.41h12.5v1.46h-12.5zM246.6 302.41h12.5v1.46h-12.5zM271.6 303.87h12.5v1.46h-12.5zM65.0 305.33h12.5v1.46h-12.5zM90.0 305.33h12.5v1.46h-12.5zM234.1 305.33h12.5v1.46h-12.5zM115.0 306.79h12.5v1.46h-12.5zM77.5 308.24h12.5v1.46h-12.5zM102.5 308.24h12.5v1.46h-12.5zM168.3 308.24h12.5v1.46h-12.5zM221.6 308.24h12.5v1.46h-12.5zM246.6 308.24h25.0v1.46h-25.0zM221.6 309.70h12.5v1.46h-12.5zM246.6 309.70h25.0v1.46h-25.0zM90.0 311.16h12.5v1.46h-12.5zM180.8 311.16h12.5v1.46h-12.5zM234.1 312.61h25.0v1.46h-25.0zM271.6 312.61h25.0v1.46h-25.0zM77.5 314.07h25.0v1.46h-25.0zM221.6 314.07h12.5v1.46h-12.5zM246.6 314.07h37.5v1.46h-37.5zM205.8 315.53h12.5v1.46h-12.5zM246.6 315.53h25.0v1.46h-25.0zM284.1 315.53h12.5v1.46h-12.5zM221.6 316.99h12.5v1.46h-12.5zM259.1 316.99h12.5v1.46h-12.5zM65.0 318.44h12.5v1.46h-12.5zM221.6 318.44h12.5v1.46h-12.5zM246.6 318.44h25.0v1.46h-25.0zM143.3 319.90h12.5v1.46h-12.5zM221.6 319.90h12.5v1.46h-12.5zM246.6 319.90h12.5v1.46h-12.5zM349.9 319.90h12.5v1.46h-12.5zM271.6 321.36h12.5v1.46h-12.5zM180.8 322.81h25.0v1.46h-25.0zM284.1 322.81h12.5v1.46h-12.5zM259.1 324.27h25.0v1.46h-25.0zM259.1 325.73h12.5v1.46h-12.5zM65.0 327.19h25.0v1.46h-25.0zM102.5 327.19h12.5v1.46h-12.5zM221.6 327.19h12.5v1.46h-12.5zM90.0 328.64h12.5v1.46h-12.5zM234.1 328.64h12.5v1.46h-12.5zM259.1 328.64h25.0v1.46h-25.0zM77.5 330.10h37.5v1.46h-37.5zM221.6 330.10h12.5v1.46h-12.5zM259.1 330.10h37.5v1.46h-37.5zM337.4 330.10h12.5v1.46h-12.5zM65.0 333.01h12.5v1.46h-12.5zM234.1 334.47h25.0v1.46h-25.0zM246.6 335.93h12.5v1.46h-12.5zM271.6 335.93h12.5v1.46h-12.5zM77.5 337.39h25.0v1.46h-25.0zM168.3 337.39h12.5v1.46h-12.5zM221.6 337.39h12.5v1.46h-12.5zM246.6 337.39h12.5v1.46h-12.5zM284.1 337.39h12.5v1.46h-12.5zM349.9 337.39h12.5v1.46h-12.5zM246.6 338.84h12.5v1.46h-12.5zM284.1 338.84h12.5v1.46h-12.5zM90.0 341.76h12.5v1.46h-12.5zM234.1 341.76h12.5v1.46h-12.5zM77.5 343.21h25.0v1.46h-25.0zM221.6 343.21h25.0v1.46h-25.0zM284.1 344.67h12.5v1.46h-12.5zM362.4 344.67h12.5v1.46h-12.5zM115.0 346.13h12.5v1.46h-12.5zM246.6 346.13h25.0v1.46h-25.0zM284.1 346.13h12.5v1.46h-12.5zM234.1 347.59h25.0v1.46h-25.0zM271.6 347.59h12.5v1.46h-12.5zM155.8 349.04h12.5v1.46h-12.5zM246.6 349.04h25.0v1.46h-25.0zM284.1 349.04h12.5v1.46h-12.5zM193.3 355.83h12.5v1.43h-12.5zM259.1 355.83h12.5v1.43h-12.5zM349.9 355.83h12.5v1.43h-12.5zM221.6 357.26h25.0v1.43h-25.0zM168.3 358.69h12.5v1.43h-12.5zM349.9 358.69h12.5v1.43h-12.5zM221.6 361.55h12.5v1.43h-12.5zM362.4 361.55h12.5v1.43h-12.5zM193.3 362.98h12.5v1.43h-12.5zM337.4 362.98h25.0v1.43h-25.0zM221.6 364.42h12.5v1.43h-12.5zM349.9 364.42h12.5v1.43h-12.5zM143.3 368.71h12.5v1.43h-12.5zM259.1 368.71h12.5v1.43h-12.5zM284.1 368.71h12.5v1.43h-12.5zM102.5 370.14h25.0v1.43h-25.0zM143.3 371.57h12.5v1.43h-12.5zM259.1 373.00h12.5v1.43h-12.5zM234.1 375.86h25.0v1.43h-25.0zM271.6 375.86h12.5v1.43h-12.5zM271.6 380.15h12.5v1.43h-12.5zM234.1 381.58h12.5v1.43h-12.5zM234.1 384.45h12.5v1.43h-12.5zM284.1 385.88h12.5v1.43h-12.5zM337.4 385.88h12.5v1.43h-12.5zM362.4 385.88h12.5v1.43h-12.5zM102.5 387.31h12.5v1.43h-12.5zM221.6 387.31h12.5v1.43h-12.5zM337.4 388.74h12.5v1.43h-12.5zM337.4 390.17h12.5v1.43h-12.5zM312.4 395.70h12.5v1.45h-12.5zM378.2 402.96h12.5v1.45h-12.5zM324.9 405.87h12.5v1.45h-12.5zM143.3 408.78h12.5v1.45h-12.5zM362.4 414.59h12.5v1.45h-12.5zM65.0 417.49h12.5v1.45h-12.5zM362.4 418.95h12.5v1.45h-12.5z"/><path fill="#fee28e" d="M428.2 43.25h12.5v1.45h-12.5zM65.0 50.51h12.5v1.45h-12.5zM65.0 54.87h12.5v1.45h-12.5zM115.0 54.87h25.0v1.45h-25.0zM127.5 60.67h12.5v1.45h-12.5zM337.4 60.67h12.5v1.45h-12.5zM127.5 63.58h12.5v1.45h-12.5zM415.7 63.58h25.0v1.45h-25.0zM299.9 70.83h12.5v1.45h-12.5zM415.7 75.19h12.5v1.45h-12.5zM115.0 76.64h12.5v1.45h-12.5zM271.6 92.35h12.5v1.45h-12.5zM271.6 99.61h12.5v1.45h-12.5zM312.4 99.61h12.5v1.45h-12.5zM271.6 118.47h12.5v1.45h-12.5zM271.6 119.92h12.5v1.45h-12.5zM312.4 128.62h12.5v1.45h-12.5zM299.9 138.78h12.5v1.45h-12.5zM324.9 147.49h12.5v1.45h-12.5zM324.9 151.84h12.5v1.45h-12.5zM324.9 156.19h12.5v1.45h-12.5zM312.4 157.64h12.5v1.45h-12.5zM324.9 159.09h12.5v1.45h-12.5zM324.9 160.54h12.5v1.45h-12.5zM284.1 161.99h12.5v1.45h-12.5zM349.9 186.06h25.0v1.45h-25.0zM362.4 191.84h12.5v1.45h-12.5zM337.4 197.62h12.5v1.45h-12.5zM337.4 209.19h12.5v1.45h-12.5zM337.4 210.63h12.5v1.45h-12.5zM221.6 217.86h12.5v1.45h-12.5zM337.4 222.19h12.5v1.45h-12.5zM337.4 223.64h12.5v1.45h-12.5zM337.4 225.08h12.5v1.45h-12.5zM324.9 227.97h12.5v1.45h-12.5zM349.9 227.97h25.0v1.45h-25.0zM271.6 233.75h12.5v1.45h-12.5zM349.9 245.32h12.5v1.45h-12.5zM221.6 255.43h12.5v1.45h-12.5zM362.4 256.88h12.5v1.45h-12.5zM246.6 262.66h12.5v1.45h-12.5zM234.1 284.34h12.5v1.45h-12.5zM115.0 288.67h12.5v1.45h-12.5zM234.1 290.12h12.5v1.45h-12.5zM127.5 291.56h12.5v1.45h-12.5zM234.1 293.01h12.5v1.45h-12.5zM221.6 294.45h12.5v1.45h-12.5zM428.2 300.96h12.5v1.46h-12.5zM221.6 335.93h25.0v1.46h-25.0zM403.2 338.84h12.5v1.46h-12.5zM299.9 340.30h12.5v1.46h-12.5zM403.2 340.30h12.5v1.46h-12.5zM378.2 341.76h12.5v1.46h-12.5zM324.9 346.13h12.5v1.46h-12.5zM415.7 361.55h12.5v1.43h-12.5zM246.6 367.28h12.5v1.43h-12.5zM362.4 373.00h12.5v1.43h-12.5zM440.7 378.72h12.5v1.43h-12.5zM378.2 383.02h12.5v1.43h-12.5zM155.8 401.51h12.5v1.45h-12.5zM362.4 405.87h12.5v1.45h-12.5zM205.8 410.23h12.5v1.45h-12.5zM299.9 410.23h12.5v1.45h-12.5zM349.9 410.23h12.5v1.45h-12.5zM205.8 414.59h12.5v1.45h-12.5z"/><path fill="#fdad68" d="M115.0 44.71h12.5v1.45h-12.5zM115.0 79.54h12.5v1.45h-12.5zM299.9 96.70h12.5v1.45h-12.5zM271.6 102.51h12.5v1.45h-12.5zM299.9 102.51h12.5v1.45h-12.5zM299.9 108.31h12.5v1.45h-12.5zM312.4 115.57h12.5v1.45h-12.5zM299.9 117.02h25.0v1.45h-25.0zM312.4 151.84h12.5v1.45h-12.5zM299.9 163.45h12.5v1.45h-12.5zM299.9 166.35h12.5v1.45h-12.5zM440.7 167.80h12.5v1.45h-12.5zM271.6 184.62h12.5v1.45h-12.5zM337.4 207.74h12.5v1.45h-12.5zM349.9 233.75h12.5v1.45h-12.5zM337.4 248.21h12.5v1.45h-12.5zM362.4 248.21h12.5v1.45h-12.5zM337.4 252.54h12.5v1.45h-12.5zM337.4 256.88h12.5v1.45h-12.5zM337.4 268.44h12.5v1.45h-12.5zM337.4 277.11h12.5v1.45h-12.5zM390.7 305.33h12.5v1.46h-12.5zM390.7 306.79h12.5v1.46h-12.5zM390.7 312.61h12.5v1.46h-12.5zM390.7 316.99h12.5v1.46h-12.5zM324.9 334.47h12.5v1.46h-12.5zM428.2 364.42h12.5v1.43h-12.5zM415.7 373.00h12.5v1.43h-12.5zM259.1 397.15h12.5v1.45h-12.5zM143.3 414.59h12.5v1.45h-12.5z"/><path fill="#fec77a" d="M284.1 44.71h12.5v1.45h-12.5zM65.0 51.96h12.5v1.45h-12.5zM102.5 57.77h12.5v1.45h-12.5zM428.2 57.77h12.5v1.45h-12.5zM127.5 72.28h12.5v1.45h-12.5zM127.5 78.09h12.5v1.45h-12.5zM221.6 82.45h12.5v1.45h-12.5zM324.9 101.06h12.5v1.45h-12.5zM324.9 102.51h12.5v1.45h-12.5zM299.9 103.96h12.5v1.45h-12.5zM312.4 106.86h12.5v1.45h-12.5zM324.9 131.53h12.5v1.45h-12.5zM324.9 134.43h12.5v1.45h-12.5zM324.9 141.68h12.5v1.45h-12.5zM324.9 143.13h12.5v1.45h-12.5zM299.9 146.03h12.5v1.45h-12.5zM299.9 147.49h12.5v1.45h-12.5zM324.9 150.39h12.5v1.45h-12.5zM299.9 157.64h12.5v1.45h-12.5zM259.1 175.95h12.5v1.45h-12.5zM362.4 175.95h12.5v1.45h-12.5zM259.1 178.84h12.5v1.45h-12.5zM349.9 184.62h12.5v1.45h-12.5zM337.4 190.40h12.5v1.45h-12.5zM205.8 191.84h12.5v1.45h-12.5zM337.4 196.18h12.5v1.45h-12.5zM349.9 204.85h12.5v1.45h-12.5zM362.4 207.74h12.5v1.45h-12.5zM362.4 235.20h12.5v1.45h-12.5zM337.4 238.09h25.0v1.45h-25.0zM349.9 239.54h12.5v1.45h-12.5zM337.4 240.98h12.5v1.45h-12.5zM337.4 253.99h12.5v1.45h-12.5zM102.5 284.34h12.5v1.45h-12.5zM337.4 290.12h25.0v1.45h-25.0zM349.9 294.45h12.5v1.45h-12.5zM403.2 305.33h12.5v1.46h-12.5zM378.2 322.81h12.5v1.46h-12.5zM378.2 330.10h12.5v1.46h-12.5zM324.9 335.93h12.5v1.46h-12.5zM271.6 338.84h12.5v1.46h-12.5zM390.7 340.30h12.5v1.46h-12.5zM390.7 347.59h12.5v1.46h-12.5zM90.0 349.04h12.5v1.46h-12.5zM415.7 355.83h12.5v1.43h-12.5zM180.8 364.42h12.5v1.43h-12.5zM440.7 364.42h12.5v1.43h-12.5zM234.1 368.71h12.5v1.43h-12.5zM362.4 368.71h12.5v1.43h-12.5zM102.5 374.43h12.5v1.43h-12.5zM415.7 383.02h12.5v1.43h-12.5zM440.7 388.74h12.5v1.43h-12.5zM168.3 417.49h12.5v1.45h-12.5z"/><path fill="#ecf8de" d="M234.1 46.16h25.0v1.45h-25.0zM415.7 47.61h12.5v1.45h-12.5zM234.1 69.38h12.5v1.45h-12.5zM403.2 175.95h12.5v1.45h-12.5zM415.7 177.39h25.0v1.45h-25.0zM390.7 178.84h12.5v1.45h-12.5zM390.7 184.62h12.5v1.45h-12.5zM403.2 186.06h12.5v1.45h-12.5zM415.7 306.79h12.5v1.46h-12.5zM428.2 308.24h12.5v1.46h-12.5zM428.2 314.07h12.5v1.46h-12.5zM440.7 321.36h12.5v1.46h-12.5zM415.7 327.19h12.5v1.46h-12.5zM440.7 328.64h12.5v1.46h-12.5zM415.7 330.10h12.5v1.46h-12.5zM440.7 333.01h12.5v1.46h-12.5zM415.7 334.47h12.5v1.46h-12.5zM415.7 337.39h12.5v1.46h-12.5zM415.7 349.04h12.5v1.46h-12.5z"/><path fill="#f1fad7" d="M415.7 46.16h12.5v1.45h-12.5zM284.1 53.42h12.5v1.45h-12.5zM337.4 62.12h37.5v1.45h-37.5zM221.6 63.58h12.5v1.45h-12.5zM234.1 80.99h12.5v1.45h-12.5zM299.9 85.35h37.5v1.45h-37.5zM378.2 175.95h12.5v1.45h-12.5zM378.2 177.39h12.5v1.45h-12.5zM403.2 177.39h12.5v1.45h-12.5zM415.7 180.28h37.5v1.45h-37.5zM378.2 181.73h12.5v1.45h-12.5zM403.2 181.73h12.5v1.45h-12.5zM440.7 181.73h12.5v1.45h-12.5zM428.2 183.17h12.5v1.45h-12.5zM403.2 184.62h12.5v1.45h-12.5zM428.2 184.62h12.5v1.45h-12.5zM440.7 186.06h12.5v1.45h-12.5zM415.7 287.23h12.5v1.45h-12.5zM440.7 287.23h12.5v1.45h-12.5zM378.2 288.67h25.0v1.45h-25.0zM362.4 302.41h12.5v1.46h-12.5zM415.7 303.87h12.5v1.46h-12.5zM440.7 306.79h12.5v1.46h-12.5zM90.0 309.70h12.5v1.46h-12.5zM428.2 309.70h12.5v1.46h-12.5zM349.9 312.61h12.5v1.46h-12.5zM415.7 314.07h12.5v1.46h-12.5zM440.7 316.99h12.5v1.46h-12.5zM415.7 318.44h12.5v1.46h-12.5zM337.4 319.90h12.5v1.46h-12.5zM428.2 319.90h12.5v1.46h-12.5zM415.7 321.36h12.5v1.46h-12.5zM77.5 322.81h12.5v1.46h-12.5zM440.7 322.81h12.5v1.46h-12.5zM337.4 324.27h37.5v1.46h-37.5zM440.7 324.27h12.5v1.46h-12.5zM428.2 325.73h12.5v1.46h-12.5zM428.2 328.64h12.5v1.46h-12.5zM362.4 330.10h12.5v1.46h-12.5zM428.2 330.10h25.0v1.46h-25.0zM428.2 331.56h25.0v1.46h-25.0zM415.7 333.01h25.0v1.46h-25.0zM428.2 334.47h12.5v1.46h-12.5zM349.9 335.93h12.5v1.46h-12.5zM428.2 335.93h12.5v1.46h-12.5zM337.4 337.39h12.5v1.46h-12.5zM428.2 337.39h25.0v1.46h-25.0zM428.2 341.76h25.0v1.46h-25.0zM415.7 343.21h12.5v1.46h-12.5zM415.7 346.13h12.5v1.46h-12.5zM440.7 346.13h12.5v1.46h-12.5zM415.7 347.59h37.5v1.46h-37.5zM324.9 355.83h12.5v1.43h-12.5zM324.9 365.85h12.5v1.43h-12.5zM312.4 368.71h12.5v1.43h-12.5zM312.4 370.14h12.5v1.43h-12.5zM324.9 373.00h12.5v1.43h-12.5zM324.9 374.43h12.5v1.43h-12.5zM299.9 383.02h12.5v1.43h-12.5zM299.9 384.45h12.5v1.43h-12.5zM299.9 387.31h12.5v1.43h-12.5zM324.9 387.31h12.5v1.43h-12.5zM324.9 388.74h12.5v1.43h-12.5z"/><path fill="#fffab6" d="M102.5 47.61h25.0v1.45h-25.0zM324.9 49.06h12.5v1.45h-12.5zM90.0 56.32h12.5v1.45h-12.5zM246.6 92.35h12.5v1.45h-12.5zM234.1 93.80h12.5v1.45h-12.5zM259.1 95.25h12.5v1.45h-12.5zM246.6 96.70h25.0v1.45h-25.0zM234.1 98.15h25.0v1.45h-25.0zM234.1 101.06h12.5v1.45h-12.5zM378.2 101.06h12.5v1.45h-12.5zM234.1 102.51h12.5v1.45h-12.5zM234.1 103.96h37.5v1.45h-37.5zM221.6 106.86h25.0v1.45h-25.0zM221.6 108.31h12.5v1.45h-12.5zM312.4 109.76h12.5v1.45h-12.5zM234.1 111.21h37.5v1.45h-37.5zM234.1 112.66h12.5v1.45h-12.5zM259.1 114.11h12.5v1.45h-12.5zM234.1 115.57h12.5v1.45h-12.5zM259.1 115.57h12.5v1.45h-12.5zM234.1 118.47h12.5v1.45h-12.5zM259.1 119.92h12.5v1.45h-12.5zM234.1 124.27h12.5v1.45h-12.5zM259.1 130.07h12.5v1.45h-12.5zM234.1 132.98h12.5v1.45h-12.5zM246.6 134.43h25.0v1.45h-25.0zM221.6 135.88h12.5v1.45h-12.5zM234.1 138.78h12.5v1.45h-12.5zM234.1 140.23h25.0v1.45h-25.0zM259.1 141.68h12.5v1.45h-12.5zM362.4 143.13h12.5v1.45h-12.5zM234.1 146.03h25.0v1.45h-25.0zM259.1 147.49h12.5v1.45h-12.5zM246.6 150.39h12.5v1.45h-12.5zM259.1 151.84h12.5v1.45h-12.5zM234.1 157.64h12.5v1.45h-12.5zM246.6 159.09h12.5v1.45h-12.5zM234.1 160.54h12.5v1.45h-12.5zM234.1 161.99h12.5v1.45h-12.5zM234.1 163.45h12.5v1.45h-12.5zM234.1 164.90h25.0v1.45h-25.0zM246.6 167.80h12.5v1.45h-12.5zM312.4 174.50h25.0v1.45h-25.0zM299.9 175.95h12.5v1.45h-12.5zM234.1 178.84h12.5v1.45h-12.5zM324.9 178.84h12.5v1.45h-12.5zM221.6 183.17h12.5v1.45h-12.5zM234.1 186.06h12.5v1.45h-12.5zM299.9 186.06h12.5v1.45h-12.5zM259.1 187.51h12.5v1.45h-12.5zM312.4 187.51h12.5v1.45h-12.5zM271.6 188.95h12.5v1.45h-12.5zM284.1 190.40h12.5v1.45h-12.5zM221.6 191.84h25.0v1.45h-25.0zM271.6 191.84h12.5v1.45h-12.5zM299.9 191.84h12.5v1.45h-12.5zM271.6 193.29h12.5v1.45h-12.5zM271.6 194.73h25.0v1.45h-25.0zM284.1 196.18h12.5v1.45h-12.5zM246.6 197.62h12.5v1.45h-12.5zM271.6 199.07h12.5v1.45h-12.5zM312.4 200.51h25.0v1.45h-25.0zM284.1 201.96h12.5v1.45h-12.5zM324.9 201.96h12.5v1.45h-12.5zM271.6 203.40h12.5v1.45h-12.5zM312.4 203.40h25.0v1.45h-25.0zM271.6 204.85h25.0v1.45h-25.0zM299.9 204.85h25.0v1.45h-25.0zM234.1 210.63h12.5v1.45h-12.5zM259.1 210.63h12.5v1.45h-12.5zM271.6 213.52h12.5v1.45h-12.5zM271.6 214.97h12.5v1.45h-12.5zM271.6 219.30h12.5v1.45h-12.5zM312.4 219.30h12.5v1.45h-12.5zM259.1 223.64h12.5v1.45h-12.5zM299.9 223.64h12.5v1.45h-12.5zM271.6 225.08h12.5v1.45h-12.5zM312.4 226.53h12.5v1.45h-12.5zM259.1 229.42h12.5v1.45h-12.5zM234.1 230.86h12.5v1.45h-12.5zM312.4 238.09h12.5v1.45h-12.5zM284.1 243.87h12.5v1.45h-12.5zM299.9 245.32h12.5v1.45h-12.5zM324.9 245.32h12.5v1.45h-12.5zM299.9 249.65h12.5v1.45h-12.5zM324.9 251.10h12.5v1.45h-12.5zM324.9 252.54h12.5v1.45h-12.5zM271.6 255.43h12.5v1.45h-12.5zM259.1 256.88h12.5v1.45h-12.5zM312.4 256.88h12.5v1.45h-12.5zM299.9 261.21h12.5v1.45h-12.5zM312.4 264.10h12.5v1.45h-12.5zM284.1 265.55h12.5v1.45h-12.5zM299.9 265.55h12.5v1.45h-12.5zM77.5 268.44h12.5v1.45h-12.5zM127.5 268.44h12.5v1.45h-12.5zM271.6 269.89h12.5v1.45h-12.5zM299.9 269.89h12.5v1.45h-12.5zM324.9 269.89h12.5v1.45h-12.5zM259.1 274.22h25.0v1.45h-25.0zM234.1 275.67h12.5v1.45h-12.5zM259.1 277.11h12.5v1.45h-12.5zM299.9 278.56h12.5v1.45h-12.5zM193.3 280.00h12.5v1.45h-12.5zM403.2 281.45h12.5v1.45h-12.5zM271.6 284.34h12.5v1.45h-12.5zM324.9 284.34h12.5v1.45h-12.5zM271.6 290.12h12.5v1.45h-12.5zM299.9 290.12h12.5v1.45h-12.5zM271.6 293.01h12.5v1.45h-12.5zM324.9 293.01h12.5v1.45h-12.5zM299.9 294.45h12.5v1.45h-12.5zM312.4 299.50h25.0v1.46h-25.0zM312.4 303.87h12.5v1.46h-12.5zM312.4 305.33h25.0v1.46h-25.0zM299.9 306.79h12.5v1.46h-12.5zM324.9 308.24h12.5v1.46h-12.5zM324.9 309.70h12.5v1.46h-12.5zM312.4 311.16h12.5v1.46h-12.5zM299.9 312.61h12.5v1.46h-12.5zM299.9 314.07h12.5v1.46h-12.5zM324.9 318.44h12.5v1.46h-12.5zM299.9 321.36h25.0v1.46h-25.0zM312.4 322.81h12.5v1.46h-12.5zM312.4 327.19h12.5v1.46h-12.5zM324.9 328.64h12.5v1.46h-12.5zM299.9 330.10h12.5v1.46h-12.5zM378.2 335.93h12.5v1.46h-12.5zM299.9 347.59h12.5v1.46h-12.5zM299.9 349.04h12.5v1.46h-12.5zM324.9 349.04h12.5v1.46h-12.5zM221.6 355.83h12.5v1.43h-12.5zM403.2 355.83h12.5v1.43h-12.5zM259.1 360.12h12.5v1.43h-12.5zM221.6 368.71h12.5v1.43h-12.5zM271.6 370.14h12.5v1.43h-12.5zM390.7 370.14h12.5v1.43h-12.5zM390.7 373.00h12.5v1.43h-12.5zM143.3 381.58h12.5v1.43h-12.5zM155.8 383.02h25.0v1.43h-25.0zM143.3 385.88h12.5v1.43h-12.5zM155.8 387.31h25.0v1.43h-25.0zM378.2 387.31h12.5v1.43h-12.5zM155.8 390.17h12.5v1.43h-12.5zM155.8 395.70h12.5v1.45h-12.5zM155.8 397.15h12.5v1.45h-12.5zM259.1 398.61h12.5v1.45h-12.5zM221.6 400.06h12.5v1.45h-12.5zM271.6 400.06h12.5v1.45h-12.5zM221.6 401.51h12.5v1.45h-12.5zM271.6 401.51h25.0v1.45h-25.0zM155.8 402.96h12.5v1.45h-12.5zM234.1 402.96h12.5v1.45h-12.5zM143.3 404.42h25.0v1.45h-25.0zM155.8 405.87h12.5v1.45h-12.5zM246.6 405.87h25.0v1.45h-25.0zM259.1 407.32h25.0v1.45h-25.0zM180.8 408.78h12.5v1.45h-12.5zM246.6 408.78h12.5v1.45h-12.5zM284.1 408.78h12.5v1.45h-12.5zM155.8 410.23h12.5v1.45h-12.5zM284.1 410.23h12.5v1.45h-12.5zM246.6 411.68h12.5v1.45h-12.5zM221.6 413.14h12.5v1.45h-12.5zM246.6 413.14h25.0v1.45h-25.0zM271.6 414.59h25.0v1.45h-25.0zM221.6 416.04h12.5v1.45h-12.5zM259.1 416.04h12.5v1.45h-12.5zM234.1 417.49h12.5v1.45h-12.5zM284.1 417.49h12.5v1.45h-12.5zM221.6 418.95h12.5v1.45h-12.5zM299.9 418.95h12.5v1.45h-12.5z"/><path fill="#fda361" d="M65.0 49.06h12.5v1.45h-12.5zM102.5 54.87h12.5v1.45h-12.5zM102.5 72.28h12.5v1.45h-12.5zM271.6 103.96h12.5v1.45h-12.5zM324.9 103.96h12.5v1.45h-12.5zM312.4 141.68h12.5v1.45h-12.5zM246.6 151.84h12.5v1.45h-12.5zM155.8 156.19h12.5v1.45h-12.5zM193.3 187.51h12.5v1.45h-12.5zM193.3 188.95h12.5v1.45h-12.5zM428.2 212.08h12.5v1.45h-12.5zM362.4 216.41h12.5v1.45h-12.5zM390.7 321.36h12.5v1.46h-12.5zM428.2 354.40h12.5v1.43h-12.5zM428.2 362.98h12.5v1.43h-12.5zM428.2 365.85h12.5v1.43h-12.5zM428.2 374.43h12.5v1.43h-12.5zM440.7 381.58h12.5v1.43h-12.5zM428.2 385.88h12.5v1.43h-12.5zM180.8 395.70h12.5v1.45h-12.5z"/><path fill="#fffdbc" d="M143.3 49.06h12.5v1.45h-12.5zM143.3 66.48h12.5v1.45h-12.5zM390.7 73.74h12.5v1.45h-12.5zM155.8 76.64h12.5v1.45h-12.5zM205.8 79.54h12.5v1.45h-12.5zM337.4 93.80h12.5v1.45h-12.5zM349.9 95.25h25.0v1.45h-25.0zM349.9 99.61h12.5v1.45h-12.5zM246.6 101.06h25.0v1.45h-25.0zM349.9 105.41h12.5v1.45h-12.5zM259.1 106.86h12.5v1.45h-12.5zM362.4 106.86h12.5v1.45h-12.5zM246.6 109.76h25.0v1.45h-25.0zM246.6 114.11h12.5v1.45h-12.5zM246.6 115.57h12.5v1.45h-12.5zM337.4 115.57h12.5v1.45h-12.5zM362.4 115.57h12.5v1.45h-12.5zM246.6 117.02h12.5v1.45h-12.5zM259.1 118.47h12.5v1.45h-12.5zM246.6 119.92h12.5v1.45h-12.5zM234.1 122.82h12.5v1.45h-12.5zM259.1 122.82h12.5v1.45h-12.5zM362.4 125.72h12.5v1.45h-12.5zM337.4 128.62h12.5v1.45h-12.5zM337.4 130.07h12.5v1.45h-12.5zM234.1 131.53h12.5v1.45h-12.5zM234.1 135.88h12.5v1.45h-12.5zM259.1 135.88h12.5v1.45h-12.5zM337.4 137.33h12.5v1.45h-12.5zM259.1 138.78h12.5v1.45h-12.5zM349.9 138.78h12.5v1.45h-12.5zM259.1 140.23h12.5v1.45h-12.5zM337.4 140.23h25.0v1.45h-25.0zM234.1 141.68h12.5v1.45h-12.5zM349.9 141.68h25.0v1.45h-25.0zM349.9 143.13h12.5v1.45h-12.5zM246.6 144.58h12.5v1.45h-12.5zM337.4 147.49h25.0v1.45h-25.0zM234.1 148.94h25.0v1.45h-25.0zM180.8 150.39h12.5v1.45h-12.5zM259.1 150.39h12.5v1.45h-12.5zM337.4 150.39h12.5v1.45h-12.5zM259.1 153.29h12.5v1.45h-12.5zM337.4 153.29h12.5v1.45h-12.5zM234.1 154.74h25.0v1.45h-25.0zM349.9 154.74h12.5v1.45h-12.5zM246.6 156.19h12.5v1.45h-12.5zM259.1 157.64h12.5v1.45h-12.5zM246.6 161.99h12.5v1.45h-12.5zM259.1 167.80h12.5v1.45h-12.5zM234.1 169.25h12.5v1.45h-12.5zM299.9 174.50h12.5v1.45h-12.5zM221.6 181.73h12.5v1.45h-12.5zM312.4 183.17h12.5v1.45h-12.5zM299.9 184.62h12.5v1.45h-12.5zM312.4 186.06h12.5v1.45h-12.5zM271.6 187.51h12.5v1.45h-12.5zM324.9 188.95h12.5v1.45h-12.5zM312.4 190.40h12.5v1.45h-12.5zM234.1 194.73h12.5v1.45h-12.5zM312.4 194.73h12.5v1.45h-12.5zM324.9 199.07h12.5v1.45h-12.5zM299.9 201.96h25.0v1.45h-25.0zM299.9 206.30h25.0v1.45h-25.0zM259.1 207.74h12.5v1.45h-12.5zM312.4 207.74h12.5v1.45h-12.5zM324.9 209.19h12.5v1.45h-12.5zM259.1 212.08h12.5v1.45h-12.5zM324.9 212.08h12.5v1.45h-12.5zM299.9 214.97h12.5v1.45h-12.5zM299.9 217.86h12.5v1.45h-12.5zM324.9 217.86h12.5v1.45h-12.5zM299.9 219.30h12.5v1.45h-12.5zM324.9 220.75h12.5v1.45h-12.5zM205.8 227.97h12.5v1.45h-12.5zM312.4 232.31h12.5v1.45h-12.5zM299.9 233.75h25.0v1.45h-25.0zM324.9 235.20h12.5v1.45h-12.5zM259.1 236.65h12.5v1.45h-12.5zM299.9 236.65h12.5v1.45h-12.5zM299.9 240.98h12.5v1.45h-12.5zM312.4 242.43h12.5v1.45h-12.5zM312.4 246.76h25.0v1.45h-25.0zM271.6 248.21h12.5v1.45h-12.5zM312.4 249.65h12.5v1.45h-12.5zM299.9 251.10h12.5v1.45h-12.5zM312.4 252.54h12.5v1.45h-12.5zM324.9 253.99h12.5v1.45h-12.5zM312.4 255.43h25.0v1.45h-25.0zM271.6 256.88h12.5v1.45h-12.5zM299.9 258.32h37.5v1.45h-37.5zM312.4 259.77h12.5v1.45h-12.5zM312.4 261.21h12.5v1.45h-12.5zM299.9 262.66h12.5v1.45h-12.5zM312.4 265.55h12.5v1.45h-12.5zM259.1 271.33h12.5v1.45h-12.5zM299.9 271.33h12.5v1.45h-12.5zM324.9 271.33h12.5v1.45h-12.5zM324.9 272.78h12.5v1.45h-12.5zM299.9 277.11h37.5v1.45h-37.5zM324.9 278.56h12.5v1.45h-12.5zM299.9 280.00h25.0v1.45h-25.0zM312.4 281.45h25.0v1.45h-25.0zM299.9 284.34h12.5v1.45h-12.5zM312.4 285.78h12.5v1.45h-12.5zM299.9 287.23h37.5v1.45h-37.5zM168.3 290.12h12.5v1.45h-12.5zM77.5 291.56h12.5v1.45h-12.5zM143.3 293.01h12.5v1.45h-12.5zM299.9 302.41h12.5v1.46h-12.5zM324.9 303.87h12.5v1.46h-12.5zM312.4 308.24h12.5v1.46h-12.5zM205.8 312.61h12.5v1.46h-12.5zM312.4 312.61h12.5v1.46h-12.5zM312.4 314.07h12.5v1.46h-12.5zM324.9 315.53h12.5v1.46h-12.5zM299.9 316.99h12.5v1.46h-12.5zM312.4 319.90h12.5v1.46h-12.5zM324.9 322.81h12.5v1.46h-12.5zM299.9 328.64h12.5v1.46h-12.5zM312.4 330.10h25.0v1.46h-25.0zM312.4 347.59h12.5v1.46h-12.5zM284.1 355.83h12.5v1.43h-12.5zM362.4 355.83h12.5v1.43h-12.5zM246.6 357.26h12.5v1.43h-12.5zM362.4 357.26h12.5v1.43h-12.5zM378.2 357.26h37.5v1.43h-37.5zM259.1 358.69h12.5v1.43h-12.5zM284.1 358.69h12.5v1.43h-12.5zM221.6 360.12h12.5v1.43h-12.5zM403.2 360.12h12.5v1.43h-12.5zM234.1 361.55h12.5v1.43h-12.5zM246.6 362.98h12.5v1.43h-12.5zM378.2 364.42h12.5v1.43h-12.5zM403.2 364.42h12.5v1.43h-12.5zM390.7 365.85h25.0v1.43h-25.0zM378.2 368.71h12.5v1.43h-12.5zM378.2 370.14h12.5v1.43h-12.5zM259.1 371.57h12.5v1.43h-12.5zM378.2 371.57h37.5v1.43h-37.5zM403.2 373.00h12.5v1.43h-12.5zM271.6 374.43h12.5v1.43h-12.5zM378.2 375.86h25.0v1.43h-25.0zM378.2 377.29h25.0v1.43h-25.0zM271.6 378.72h12.5v1.43h-12.5zM378.2 378.72h12.5v1.43h-12.5zM403.2 378.72h12.5v1.43h-12.5zM221.6 381.58h12.5v1.43h-12.5zM284.1 381.58h12.5v1.43h-12.5zM221.6 383.02h25.0v1.43h-25.0zM403.2 383.02h12.5v1.43h-12.5zM221.6 384.45h12.5v1.43h-12.5zM246.6 384.45h12.5v1.43h-12.5zM284.1 384.45h12.5v1.43h-12.5zM271.6 385.88h12.5v1.43h-12.5zM143.3 387.31h12.5v1.43h-12.5zM155.8 388.74h12.5v1.43h-12.5zM246.6 388.74h12.5v1.43h-12.5zM271.6 388.74h12.5v1.43h-12.5zM378.2 388.74h12.5v1.43h-12.5zM403.2 388.74h12.5v1.43h-12.5zM168.3 390.17h12.5v1.43h-12.5zM246.6 390.17h25.0v1.43h-25.0zM378.2 390.17h12.5v1.43h-12.5zM234.1 395.70h12.5v1.45h-12.5zM90.0 397.15h12.5v1.45h-12.5zM155.8 398.61h12.5v1.45h-12.5zM246.6 400.06h12.5v1.45h-12.5zM284.1 400.06h12.5v1.45h-12.5zM168.3 402.96h12.5v1.45h-12.5zM299.9 402.96h12.5v1.45h-12.5zM284.1 404.42h12.5v1.45h-12.5zM284.1 405.87h12.5v1.45h-12.5zM234.1 408.78h12.5v1.45h-12.5zM284.1 411.68h12.5v1.45h-12.5zM102.5 416.04h12.5v1.45h-12.5zM234.1 416.04h12.5v1.45h-12.5z"/><path fill="#fb7a47" d="M90.0 50.51h12.5v1.45h-12.5zM102.5 78.09h12.5v1.45h-12.5zM102.5 83.90h12.5v1.45h-12.5zM337.4 193.29h12.5v1.45h-12.5zM349.9 197.62h12.5v1.45h-12.5zM378.2 318.44h12.5v1.46h-12.5zM65.0 349.04h12.5v1.46h-12.5zM428.2 357.26h12.5v1.43h-12.5zM415.7 390.17h12.5v1.43h-12.5zM180.8 400.06h12.5v1.45h-12.5z"/><path fill="#ffffbf" d="M221.6 50.51h75.0v1.45h-75.0zM259.1 51.96h37.5v1.45h-37.5zM221.6 56.32h12.5v1.45h-12.5zM246.6 56.32h12.5v1.45h-12.5zM299.9 57.77h12.5v1.45h-12.5zM259.1 63.58h25.0v1.45h-25.0zM65.0 67.93h12.5v1.45h-12.5zM77.5 75.19h12.5v1.45h-12.5zM90.0 76.64h12.5v1.45h-12.5zM259.1 78.09h37.5v1.45h-37.5zM337.4 79.54h37.5v1.45h-37.5zM337.4 90.90h25.0v1.45h-25.0zM337.4 92.35h12.5v1.45h-12.5zM362.4 92.35h12.5v1.45h-12.5zM246.6 93.80h12.5v1.45h-12.5zM337.4 95.25h12.5v1.45h-12.5zM234.1 96.70h12.5v1.45h-12.5zM102.5 98.15h12.5v1.45h-12.5zM337.4 98.15h12.5v1.45h-12.5zM337.4 101.06h25.0v1.45h-25.0zM246.6 102.51h25.0v1.45h-25.0zM349.9 103.96h25.0v1.45h-25.0zM337.4 106.86h12.5v1.45h-12.5zM349.9 109.76h12.5v1.45h-12.5zM337.4 111.21h25.0v1.45h-25.0zM349.9 112.66h12.5v1.45h-12.5zM349.9 117.02h12.5v1.45h-12.5zM246.6 118.47h12.5v1.45h-12.5zM349.9 118.47h12.5v1.45h-12.5zM246.6 121.37h12.5v1.45h-12.5zM337.4 122.82h12.5v1.45h-12.5zM337.4 124.27h12.5v1.45h-12.5zM349.9 125.72h12.5v1.45h-12.5zM155.8 127.17h12.5v1.45h-12.5zM259.1 127.17h12.5v1.45h-12.5zM337.4 127.17h12.5v1.45h-12.5zM246.6 128.62h12.5v1.45h-12.5zM337.4 131.53h37.5v1.45h-37.5zM349.9 132.98h12.5v1.45h-12.5zM337.4 134.43h12.5v1.45h-12.5zM337.4 135.88h37.5v1.45h-37.5zM337.4 138.78h12.5v1.45h-12.5zM337.4 143.13h12.5v1.45h-12.5zM349.9 144.58h12.5v1.45h-12.5zM337.4 148.94h12.5v1.45h-12.5zM234.1 150.39h12.5v1.45h-12.5zM246.6 153.29h12.5v1.45h-12.5zM349.9 153.29h12.5v1.45h-12.5zM337.4 154.74h12.5v1.45h-12.5zM337.4 156.19h12.5v1.45h-12.5zM362.4 156.19h12.5v1.45h-12.5zM246.6 157.64h12.5v1.45h-12.5zM337.4 159.09h12.5v1.45h-12.5zM337.4 161.99h12.5v1.45h-12.5zM362.4 161.99h12.5v1.45h-12.5zM349.9 163.45h12.5v1.45h-12.5zM337.4 166.35h25.0v1.45h-25.0zM234.1 167.80h12.5v1.45h-12.5zM349.9 167.80h12.5v1.45h-12.5zM299.9 181.73h12.5v1.45h-12.5zM299.9 193.29h12.5v1.45h-12.5zM428.2 196.18h12.5v1.45h-12.5zM312.4 197.62h12.5v1.45h-12.5zM312.4 199.07h12.5v1.45h-12.5zM259.1 203.40h12.5v1.45h-12.5zM324.9 204.85h12.5v1.45h-12.5zM324.9 206.30h12.5v1.45h-12.5zM312.4 212.08h12.5v1.45h-12.5zM324.9 216.41h12.5v1.45h-12.5zM428.2 216.41h12.5v1.45h-12.5zM127.5 220.75h12.5v1.45h-12.5zM324.9 222.19h12.5v1.45h-12.5zM312.4 223.64h12.5v1.45h-12.5zM115.0 225.08h12.5v1.45h-12.5zM324.9 225.08h12.5v1.45h-12.5zM299.9 226.53h12.5v1.45h-12.5zM378.2 227.97h12.5v1.45h-12.5zM403.2 227.97h12.5v1.45h-12.5zM440.7 229.42h12.5v1.45h-12.5zM127.5 232.31h12.5v1.45h-12.5zM205.8 233.75h12.5v1.45h-12.5zM127.5 235.20h12.5v1.45h-12.5zM312.4 236.65h25.0v1.45h-25.0zM428.2 236.65h12.5v1.45h-12.5zM299.9 238.09h12.5v1.45h-12.5zM312.4 239.54h12.5v1.45h-12.5zM324.9 240.98h12.5v1.45h-12.5zM390.7 240.98h25.0v1.45h-25.0zM324.9 242.43h12.5v1.45h-12.5zM299.9 243.87h37.5v1.45h-37.5zM77.5 246.76h12.5v1.45h-12.5zM271.6 246.76h12.5v1.45h-12.5zM299.9 246.76h12.5v1.45h-12.5zM324.9 248.21h12.5v1.45h-12.5zM299.9 252.54h12.5v1.45h-12.5zM299.9 253.99h25.0v1.45h-25.0zM299.9 256.88h12.5v1.45h-12.5zM324.9 261.21h12.5v1.45h-12.5zM299.9 264.10h12.5v1.45h-12.5zM324.9 265.55h12.5v1.45h-12.5zM312.4 267.00h12.5v1.45h-12.5zM312.4 269.89h12.5v1.45h-12.5zM127.5 271.33h12.5v1.45h-12.5zM193.3 272.78h12.5v1.45h-12.5zM299.9 272.78h25.0v1.45h-25.0zM324.9 274.22h12.5v1.45h-12.5zM299.9 275.67h12.5v1.45h-12.5zM284.1 280.00h12.5v1.45h-12.5zM271.6 281.45h12.5v1.45h-12.5zM271.6 282.89h12.5v1.45h-12.5zM299.9 282.89h12.5v1.45h-12.5zM324.9 285.78h12.5v1.45h-12.5zM324.9 288.67h12.5v1.45h-12.5zM299.9 293.01h25.0v1.45h-25.0zM312.4 294.45h12.5v1.45h-12.5zM234.1 300.96h12.5v1.46h-12.5zM299.9 300.96h12.5v1.46h-12.5zM324.9 300.96h12.5v1.46h-12.5zM65.0 303.87h12.5v1.46h-12.5zM271.6 305.33h12.5v1.46h-12.5zM221.6 306.79h12.5v1.46h-12.5zM259.1 306.79h25.0v1.46h-25.0zM312.4 306.79h12.5v1.46h-12.5zM299.9 308.24h12.5v1.46h-12.5zM271.6 309.70h12.5v1.46h-12.5zM246.6 316.99h12.5v1.46h-12.5zM271.6 316.99h12.5v1.46h-12.5zM312.4 316.99h12.5v1.46h-12.5zM221.6 331.56h12.5v1.46h-12.5zM324.9 341.76h12.5v1.46h-12.5zM259.1 343.21h12.5v1.46h-12.5zM221.6 344.67h25.0v1.46h-25.0zM221.6 347.59h12.5v1.46h-12.5zM312.4 349.04h12.5v1.46h-12.5zM271.6 354.40h12.5v1.43h-12.5zM337.4 354.40h25.0v1.43h-25.0zM378.2 354.40h12.5v1.43h-12.5zM271.6 355.83h12.5v1.43h-12.5zM390.7 355.83h12.5v1.43h-12.5zM259.1 357.26h37.5v1.43h-37.5zM221.6 358.69h12.5v1.43h-12.5zM246.6 358.69h12.5v1.43h-12.5zM271.6 358.69h12.5v1.43h-12.5zM337.4 358.69h12.5v1.43h-12.5zM378.2 358.69h37.5v1.43h-37.5zM284.1 360.12h12.5v1.43h-12.5zM378.2 360.12h12.5v1.43h-12.5zM259.1 361.55h12.5v1.43h-12.5zM284.1 361.55h12.5v1.43h-12.5zM378.2 361.55h12.5v1.43h-12.5zM234.1 362.98h12.5v1.43h-12.5zM259.1 362.98h12.5v1.43h-12.5zM284.1 362.98h12.5v1.43h-12.5zM362.4 362.98h12.5v1.43h-12.5zM234.1 364.42h12.5v1.43h-12.5zM362.4 364.42h12.5v1.43h-12.5zM284.1 365.85h12.5v1.43h-12.5zM271.6 367.28h12.5v1.43h-12.5zM378.2 367.28h12.5v1.43h-12.5zM271.6 368.71h12.5v1.43h-12.5zM403.2 368.71h12.5v1.43h-12.5zM284.1 370.14h12.5v1.43h-12.5zM403.2 370.14h12.5v1.43h-12.5zM284.1 371.57h12.5v1.43h-12.5zM284.1 373.00h12.5v1.43h-12.5zM378.2 373.00h12.5v1.43h-12.5zM390.7 374.43h25.0v1.43h-25.0zM221.6 375.86h12.5v1.43h-12.5zM259.1 375.86h12.5v1.43h-12.5zM284.1 375.86h12.5v1.43h-12.5zM246.6 378.72h12.5v1.43h-12.5zM221.6 380.15h12.5v1.43h-12.5zM349.9 380.15h25.0v1.43h-25.0zM378.2 380.15h37.5v1.43h-37.5zM362.4 381.58h12.5v1.43h-12.5zM403.2 381.58h12.5v1.43h-12.5zM271.6 383.02h12.5v1.43h-12.5zM337.4 383.02h12.5v1.43h-12.5zM337.4 384.45h12.5v1.43h-12.5zM221.6 385.88h12.5v1.43h-12.5zM349.9 385.88h12.5v1.43h-12.5zM259.1 387.31h12.5v1.43h-12.5zM284.1 387.31h12.5v1.43h-12.5zM362.4 387.31h12.5v1.43h-12.5zM390.7 387.31h25.0v1.43h-25.0zM221.6 388.74h12.5v1.43h-12.5zM284.1 388.74h12.5v1.43h-12.5zM349.9 388.74h25.0v1.43h-25.0zM362.4 390.17h12.5v1.43h-12.5zM403.2 390.17h12.5v1.43h-12.5zM271.6 395.70h12.5v1.45h-12.5zM324.9 400.06h12.5v1.45h-12.5zM259.1 402.96h12.5v1.45h-12.5zM271.6 408.78h12.5v1.45h-12.5zM271.6 418.95h12.5v1.45h-12.5z"/><path fill="#fd9e5e" d="M102.5 51.96h12.5v1.45h-12.5zM271.6 98.15h12.5v1.45h-12.5zM324.9 108.31h12.5v1.45h-12.5zM324.9 114.11h12.5v1.45h-12.5zM155.8 154.74h12.5v1.45h-12.5zM259.1 174.50h12.5v1.45h-12.5zM337.4 259.77h12.5v1.45h-12.5zM362.4 272.78h12.5v1.45h-12.5zM337.4 287.23h12.5v1.45h-12.5zM390.7 299.50h12.5v1.46h-12.5zM378.2 314.07h12.5v1.46h-12.5zM390.7 315.53h12.5v1.46h-12.5zM378.2 316.99h12.5v1.46h-12.5zM390.7 324.27h12.5v1.46h-12.5zM362.4 367.28h12.5v1.43h-12.5zM234.1 378.72h12.5v1.43h-12.5zM259.1 378.72h12.5v1.43h-12.5zM428.2 381.58h12.5v1.43h-12.5zM205.8 401.51h12.5v1.45h-12.5z"/><path fill="#fedb88" d="M115.0 51.96h12.5v1.45h-12.5zM115.0 53.42h12.5v1.45h-12.5zM77.5 54.87h12.5v1.45h-12.5zM77.5 56.32h12.5v1.45h-12.5zM127.5 66.48h12.5v1.45h-12.5zM127.5 67.93h12.5v1.45h-12.5zM234.1 75.19h12.5v1.45h-12.5zM362.4 80.99h12.5v1.45h-12.5zM362.4 82.45h12.5v1.45h-12.5zM115.0 83.90h12.5v1.45h-12.5zM362.4 83.90h12.5v1.45h-12.5zM324.9 92.35h12.5v1.45h-12.5zM324.9 96.70h12.5v1.45h-12.5zM271.6 101.06h12.5v1.45h-12.5zM271.6 108.31h12.5v1.45h-12.5zM271.6 117.02h12.5v1.45h-12.5zM271.6 121.37h12.5v1.45h-12.5zM271.6 122.82h12.5v1.45h-12.5zM324.9 125.72h12.5v1.45h-12.5zM324.9 144.58h12.5v1.45h-12.5zM155.8 147.49h12.5v1.45h-12.5zM271.6 148.94h12.5v1.45h-12.5zM415.7 153.29h12.5v1.45h-12.5zM271.6 157.64h12.5v1.45h-12.5zM284.1 174.50h12.5v1.45h-12.5zM259.1 181.73h12.5v1.45h-12.5zM234.1 183.17h12.5v1.45h-12.5zM337.4 183.17h12.5v1.45h-12.5zM362.4 184.62h12.5v1.45h-12.5zM127.5 186.06h12.5v1.45h-12.5zM284.1 186.06h12.5v1.45h-12.5zM205.8 190.40h12.5v1.45h-12.5zM234.1 197.62h12.5v1.45h-12.5zM362.4 201.96h12.5v1.45h-12.5zM362.4 206.30h12.5v1.45h-12.5zM337.4 217.86h12.5v1.45h-12.5zM221.6 220.75h12.5v1.45h-12.5zM246.6 220.75h12.5v1.45h-12.5zM362.4 223.64h12.5v1.45h-12.5zM337.4 249.65h12.5v1.45h-12.5zM349.9 252.54h12.5v1.45h-12.5zM299.9 267.00h12.5v1.45h-12.5zM362.4 285.78h12.5v1.45h-12.5zM378.2 328.64h12.5v1.46h-12.5zM403.2 331.56h12.5v1.46h-12.5zM312.4 334.47h12.5v1.46h-12.5zM271.6 340.30h12.5v1.46h-12.5zM180.8 361.55h12.5v1.43h-12.5zM440.7 361.55h12.5v1.43h-12.5zM337.4 365.85h12.5v1.43h-12.5zM362.4 370.14h12.5v1.43h-12.5zM362.4 375.86h12.5v1.43h-12.5zM440.7 375.86h12.5v1.43h-12.5zM362.4 377.29h12.5v1.43h-12.5zM428.2 380.15h12.5v1.43h-12.5zM415.7 381.58h12.5v1.43h-12.5zM440.7 384.45h12.5v1.43h-12.5zM193.3 397.15h12.5v1.45h-12.5zM143.3 401.51h12.5v1.45h-12.5zM193.3 411.68h12.5v1.45h-12.5zM155.8 414.59h12.5v1.45h-12.5zM193.3 418.95h12.5v1.45h-12.5z"/><path fill="#feb86f" d="M65.0 53.42h12.5v1.45h-12.5zM299.9 92.35h12.5v1.45h-12.5zM299.9 95.25h12.5v1.45h-12.5zM312.4 103.96h12.5v1.45h-12.5zM271.6 105.41h12.5v1.45h-12.5zM312.4 105.41h12.5v1.45h-12.5zM271.6 106.86h12.5v1.45h-12.5zM324.9 109.76h12.5v1.45h-12.5zM324.9 115.57h12.5v1.45h-12.5zM312.4 122.82h12.5v1.45h-12.5zM299.9 128.62h12.5v1.45h-12.5zM312.4 137.33h12.5v1.45h-12.5zM299.9 143.13h12.5v1.45h-12.5zM299.9 148.94h12.5v1.45h-12.5zM299.9 164.90h12.5v1.45h-12.5zM221.6 222.19h12.5v1.45h-12.5zM337.4 227.97h12.5v1.45h-12.5zM362.4 233.75h12.5v1.45h-12.5zM349.9 236.65h12.5v1.45h-12.5zM337.4 245.32h12.5v1.45h-12.5zM349.9 249.65h12.5v1.45h-12.5zM362.4 259.77h12.5v1.45h-12.5zM337.4 262.66h12.5v1.45h-12.5zM337.4 264.10h12.5v1.45h-12.5zM349.9 268.44h12.5v1.45h-12.5zM362.4 277.11h12.5v1.45h-12.5zM221.6 280.00h12.5v1.45h-12.5zM362.4 284.34h12.5v1.45h-12.5zM337.4 294.45h12.5v1.45h-12.5zM378.2 303.87h12.5v1.46h-12.5zM390.7 314.07h25.0v1.46h-25.0zM403.2 316.99h12.5v1.46h-12.5zM390.7 318.44h25.0v1.46h-25.0zM324.9 331.56h12.5v1.46h-12.5zM324.9 340.30h12.5v1.46h-12.5zM415.7 354.40h12.5v1.43h-12.5zM415.7 358.69h12.5v1.43h-12.5zM362.4 365.85h12.5v1.43h-12.5zM428.2 367.28h12.5v1.43h-12.5zM428.2 373.00h25.0v1.43h-25.0zM440.7 383.02h12.5v1.43h-12.5zM180.8 401.51h12.5v1.45h-12.5zM205.8 402.96h12.5v1.45h-12.5zM205.8 407.32h12.5v1.45h-12.5zM168.3 411.68h12.5v1.45h-12.5zM143.3 413.14h12.5v1.45h-12.5z"/><path fill="#fda865" d="M102.5 53.42h12.5v1.45h-12.5zM180.8 60.67h12.5v1.45h-12.5zM324.9 106.86h12.5v1.45h-12.5zM324.9 112.66h12.5v1.45h-12.5zM299.9 122.82h12.5v1.45h-12.5zM271.6 127.17h12.5v1.45h-12.5zM271.6 128.62h12.5v1.45h-12.5zM271.6 130.07h12.5v1.45h-12.5zM299.9 131.53h12.5v1.45h-12.5zM312.4 134.43h12.5v1.45h-12.5zM312.4 146.03h12.5v1.45h-12.5zM155.8 157.64h12.5v1.45h-12.5zM428.2 213.52h12.5v1.45h-12.5zM221.6 214.97h12.5v1.45h-12.5zM221.6 216.41h12.5v1.45h-12.5zM349.9 225.08h12.5v1.45h-12.5zM349.9 235.20h12.5v1.45h-12.5zM337.4 261.21h12.5v1.45h-12.5zM403.2 319.90h12.5v1.46h-12.5zM378.2 321.36h12.5v1.46h-12.5zM90.0 347.59h12.5v1.46h-12.5zM259.1 395.70h12.5v1.45h-12.5zM193.3 400.06h12.5v1.45h-12.5zM180.8 402.96h12.5v1.45h-12.5zM337.4 405.87h12.5v1.45h-12.5zM168.3 413.14h12.5v1.45h-12.5z"/><path fill="#fee491" d="M90.0 54.87h12.5v1.45h-12.5zM115.0 59.22h12.5v1.45h-12.5zM180.8 59.22h12.5v1.45h-12.5zM221.6 62.12h12.5v1.45h-12.5zM127.5 65.03h12.5v1.45h-12.5zM115.0 73.74h12.5v1.45h-12.5zM221.6 75.19h12.5v1.45h-12.5zM115.0 85.35h12.5v1.45h-12.5zM324.9 90.90h12.5v1.45h-12.5zM324.9 98.15h12.5v1.45h-12.5zM259.1 108.31h12.5v1.45h-12.5zM271.6 115.57h12.5v1.45h-12.5zM284.1 118.47h12.5v1.45h-12.5zM271.6 137.33h12.5v1.45h-12.5zM299.9 140.23h12.5v1.45h-12.5zM324.9 146.03h12.5v1.45h-12.5zM299.9 154.74h12.5v1.45h-12.5zM312.4 156.19h12.5v1.45h-12.5zM168.3 157.64h12.5v1.45h-12.5zM284.1 160.54h12.5v1.45h-12.5zM312.4 166.35h12.5v1.45h-12.5zM337.4 175.95h12.5v1.45h-12.5zM221.6 180.28h12.5v1.45h-12.5zM234.1 181.73h12.5v1.45h-12.5zM337.4 191.84h12.5v1.45h-12.5zM362.4 196.18h12.5v1.45h-12.5zM337.4 204.85h12.5v1.45h-12.5zM378.2 206.30h12.5v1.45h-12.5zM362.4 209.19h12.5v1.45h-12.5zM440.7 210.63h12.5v1.45h-12.5zM337.4 213.52h12.5v1.45h-12.5zM440.7 213.52h12.5v1.45h-12.5zM246.6 216.41h12.5v1.45h-12.5zM349.9 219.30h25.0v1.45h-25.0zM362.4 226.53h12.5v1.45h-12.5zM349.9 229.42h12.5v1.45h-12.5zM337.4 230.86h12.5v1.45h-12.5zM221.6 238.09h12.5v1.45h-12.5zM221.6 239.54h12.5v1.45h-12.5zM349.9 246.76h12.5v1.45h-12.5zM246.6 252.54h12.5v1.45h-12.5zM362.4 252.54h12.5v1.45h-12.5zM337.4 269.89h12.5v1.45h-12.5zM349.9 275.67h12.5v1.45h-12.5zM349.9 278.56h12.5v1.45h-12.5zM349.9 287.23h12.5v1.45h-12.5zM271.6 311.16h12.5v1.46h-12.5zM299.9 311.16h12.5v1.46h-12.5zM324.9 311.16h12.5v1.46h-12.5zM299.9 335.93h12.5v1.46h-12.5zM299.9 337.39h12.5v1.46h-12.5zM299.9 346.13h12.5v1.46h-12.5zM127.5 361.55h12.5v1.43h-12.5zM143.3 361.55h12.5v1.43h-12.5zM246.6 371.57h12.5v1.43h-12.5zM234.1 374.43h12.5v1.43h-12.5zM428.2 378.72h12.5v1.43h-12.5zM378.2 381.58h12.5v1.43h-12.5zM143.3 395.70h12.5v1.45h-12.5zM143.3 402.96h12.5v1.45h-12.5zM362.4 404.42h12.5v1.45h-12.5zM349.9 405.87h12.5v1.45h-12.5zM90.0 408.78h12.5v1.45h-12.5zM180.8 416.04h12.5v1.45h-12.5z"/><path fill="#fdb26c" d="M115.0 57.77h12.5v1.45h-12.5zM102.5 73.74h12.5v1.45h-12.5zM115.0 78.09h12.5v1.45h-12.5zM312.4 96.70h12.5v1.45h-12.5zM299.9 101.06h25.0v1.45h-25.0zM312.4 102.51h12.5v1.45h-12.5zM299.9 106.86h12.5v1.45h-12.5zM312.4 114.11h12.5v1.45h-12.5zM299.9 124.27h12.5v1.45h-12.5zM312.4 125.72h12.5v1.45h-12.5zM299.9 160.54h12.5v1.45h-12.5zM349.9 210.63h12.5v1.45h-12.5zM349.9 232.31h12.5v1.45h-12.5zM349.9 256.88h12.5v1.45h-12.5zM337.4 274.22h12.5v1.45h-12.5zM337.4 285.78h12.5v1.45h-12.5zM337.4 288.67h12.5v1.45h-12.5zM390.7 302.41h12.5v1.46h-12.5zM403.2 311.16h12.5v1.46h-12.5zM403.2 321.36h12.5v1.46h-12.5zM403.2 330.10h12.5v1.46h-12.5zM324.9 333.01h12.5v1.46h-12.5zM390.7 338.84h12.5v1.46h-12.5zM428.2 368.71h12.5v1.43h-12.5zM440.7 370.14h12.5v1.43h-12.5zM337.4 373.00h12.5v1.43h-12.5zM193.3 405.87h25.0v1.45h-25.0zM180.8 407.32h12.5v1.45h-12.5z"/><path fill="#fa7042" d="M102.5 63.58h12.5v1.45h-12.5zM299.9 132.98h12.5v1.45h-12.5zM337.4 194.73h12.5v1.45h-12.5zM349.9 199.07h12.5v1.45h-12.5z"/><path fill="#f65030" d="M102.5 65.03h12.5v1.45h-12.5z"/><path fill="#f44028" d="M102.5 66.48h12.5v1.45h-12.5z"/><path fill="#f8653c" d="M102.5 67.93h12.5v1.45h-12.5zM415.7 387.31h12.5v1.43h-12.5z"/><path fill="#f75533" d="M102.5 69.38h12.5v1.45h-12.5z"/><path fill="#f75a36" d="M102.5 70.83h12.5v1.45h-12.5zM299.9 137.33h12.5v1.45h-12.5zM349.9 203.40h12.5v1.45h-12.5zM428.2 360.12h12.5v1.43h-12.5z"/><path fill="#febd73" d="M127.5 70.83h12.5v1.45h-12.5zM299.9 90.90h12.5v1.45h-12.5zM299.9 93.80h12.5v1.45h-12.5zM299.9 105.41h12.5v1.45h-12.5zM324.9 111.21h12.5v1.45h-12.5zM299.9 118.47h25.0v1.45h-25.0zM299.9 121.37h12.5v1.45h-12.5zM299.9 130.07h12.5v1.45h-12.5zM312.4 153.29h12.5v1.45h-12.5zM312.4 167.80h12.5v1.45h-12.5zM299.9 169.25h12.5v1.45h-12.5zM349.9 183.17h12.5v1.45h-12.5zM193.3 190.40h12.5v1.45h-12.5zM349.9 206.30h12.5v1.45h-12.5zM234.1 217.86h12.5v1.45h-12.5zM221.6 219.30h12.5v1.45h-12.5zM246.6 219.30h12.5v1.45h-12.5zM337.4 232.31h12.5v1.45h-12.5zM337.4 242.43h12.5v1.45h-12.5zM337.4 246.76h12.5v1.45h-12.5zM362.4 246.76h12.5v1.45h-12.5zM337.4 251.10h12.5v1.45h-12.5zM362.4 255.43h12.5v1.45h-12.5zM349.9 262.66h25.0v1.45h-25.0zM349.9 264.10h25.0v1.45h-25.0zM362.4 265.55h12.5v1.45h-12.5zM349.9 272.78h12.5v1.45h-12.5zM337.4 275.67h12.5v1.45h-12.5zM362.4 282.89h12.5v1.45h-12.5zM337.4 284.34h12.5v1.45h-12.5zM102.5 285.78h12.5v1.45h-12.5zM349.9 285.78h12.5v1.45h-12.5zM403.2 303.87h12.5v1.46h-12.5zM378.2 305.33h12.5v1.46h-12.5zM403.2 315.53h12.5v1.46h-12.5zM143.3 327.19h12.5v1.46h-12.5zM428.2 355.83h12.5v1.43h-12.5zM415.7 357.26h12.5v1.43h-12.5zM440.7 367.28h12.5v1.43h-12.5zM234.1 370.14h12.5v1.43h-12.5zM221.6 377.29h12.5v1.43h-12.5zM428.2 377.29h12.5v1.43h-12.5zM180.8 398.61h12.5v1.45h-12.5zM205.8 398.61h12.5v1.45h-12.5zM193.3 404.42h12.5v1.45h-12.5zM168.3 410.23h12.5v1.45h-12.5zM155.8 413.14h12.5v1.45h-12.5z"/><path fill="#eaf7e2" d="M205.8 70.83h12.5v1.45h-12.5zM415.7 72.28h12.5v1.45h-12.5zM440.7 72.28h12.5v1.45h-12.5zM180.8 112.66h12.5v1.45h-12.5zM378.2 119.92h12.5v1.45h-12.5zM90.0 148.94h12.5v1.45h-12.5zM127.5 159.09h12.5v1.45h-12.5zM390.7 175.95h12.5v1.45h-12.5zM415.7 186.06h12.5v1.45h-12.5zM90.0 206.30h12.5v1.45h-12.5zM90.0 212.08h12.5v1.45h-12.5zM90.0 213.52h12.5v1.45h-12.5zM180.8 230.86h12.5v1.45h-12.5zM155.8 245.32h12.5v1.45h-12.5zM378.2 255.43h12.5v1.45h-12.5zM378.2 256.88h12.5v1.45h-12.5zM440.7 285.78h12.5v1.45h-12.5zM180.8 316.99h12.5v1.46h-12.5zM193.3 337.39h12.5v1.46h-12.5zM143.3 343.21h12.5v1.46h-12.5zM102.5 355.83h12.5v1.43h-12.5zM155.8 355.83h12.5v1.43h-12.5zM180.8 358.69h12.5v1.43h-12.5zM205.8 358.69h12.5v1.43h-12.5zM378.2 405.87h12.5v1.45h-12.5z"/><path fill="#fd8f53" d="M102.5 79.54h12.5v1.45h-12.5zM102.5 85.35h12.5v1.45h-12.5zM155.8 159.09h12.5v1.45h-12.5zM259.1 160.54h12.5v1.45h-12.5zM324.9 163.45h12.5v1.45h-12.5zM428.2 214.97h12.5v1.45h-12.5zM349.9 226.53h12.5v1.45h-12.5zM337.4 239.54h12.5v1.45h-12.5zM337.4 282.89h12.5v1.45h-12.5zM378.2 308.24h12.5v1.46h-12.5zM403.2 322.81h12.5v1.46h-12.5zM271.6 331.56h12.5v1.46h-12.5zM312.4 343.21h12.5v1.46h-12.5zM205.8 400.06h12.5v1.45h-12.5zM337.4 404.42h12.5v1.45h-12.5zM143.3 410.23h12.5v1.45h-12.5zM143.3 416.04h12.5v1.45h-12.5z"/><path fill="#fc854d" d="M102.5 80.99h12.5v1.45h-12.5zM312.4 90.90h12.5v1.45h-12.5zM312.4 92.35h12.5v1.45h-12.5zM312.4 93.80h12.5v1.45h-12.5zM299.9 109.76h12.5v1.45h-12.5zM299.9 112.66h12.5v1.45h-12.5zM259.1 161.99h12.5v1.45h-12.5zM324.9 164.90h12.5v1.45h-12.5zM349.9 201.96h12.5v1.45h-12.5zM102.5 291.56h12.5v1.45h-12.5zM378.2 312.61h12.5v1.46h-12.5zM428.2 358.69h12.5v1.43h-12.5zM143.3 411.68h12.5v1.45h-12.5z"/><path fill="#fc7f4a" d="M102.5 82.45h12.5v1.45h-12.5zM312.4 138.78h12.5v1.45h-12.5zM390.7 330.10h12.5v1.46h-12.5zM440.7 354.40h12.5v1.43h-12.5zM428.2 383.02h12.5v1.43h-12.5z"/><path fill="#f96a3f" d="M299.9 134.43h12.5v1.45h-12.5z"/><path fill="#fa7544" d="M299.9 135.88h12.5v1.45h-12.5zM337.4 271.33h12.5v1.45h-12.5zM390.7 331.56h12.5v1.46h-12.5zM65.0 347.59h12.5v1.46h-12.5zM415.7 388.74h12.5v1.43h-12.5zM155.8 418.95h12.5v1.45h-12.5z"/><path fill="#f86039" d="M312.4 140.23h12.5v1.45h-12.5zM378.2 325.73h12.5v1.46h-12.5z"/><path fill="#e8f7e5" d="M65.0 206.30h25.0v1.45h-25.0zM102.5 206.30h12.5v1.45h-12.5zM415.7 324.27h12.5v1.46h-12.5zM440.7 335.93h12.5v1.46h-12.5zM415.7 340.30h12.5v1.46h-12.5z"/><path fill="#e6f6e9" d="M415.7 322.81h12.5v1.46h-12.5z"/></g>
<g><path d="M54.18 39.63L54.18 41.08M49.61 40.35L49.61 42.53M49.61 40.35L54.18 40.35M51.53 43.98L51.53 45.43M40.76 44.71L40.76 46.88M40.76 44.71L51.53 44.71M31.90 41.44L31.90 45.79M31.90 41.44L49.61 41.44M31.90 45.79L40.76 45.79M44.69 48.33L44.69 49.79M53.07 51.24L53.07 52.69M53.31 54.14L53.31 55.59M49.00 51.96L49.00 54.87M49.00 51.96L53.07 51.96M49.00 54.87L53.31 54.87M31.30 49.06L31.30 53.42M31.30 49.06L44.69 49.06M31.30 53.42L49.00 53.42M26.10 43.62L26.10 51.24M26.10 43.62L31.90 43.62M26.10 51.24L31.30 51.24M45.73 57.04L45.73 58.50M48.28 59.95L48.28 61.40M31.30 57.77L31.30 60.67M31.30 57.77L45.73 57.77M31.30 60.67L48.28 60.67M52.36 64.30L52.36 65.75M45.81 65.03L45.81 67.20M45.81 65.03L52.36 65.03M38.70 62.85L38.70 66.12M38.70 66.12L45.81 66.12M55.27 68.66L55.27 70.11M55.41 71.56L55.41 73.01M53.51 69.38L53.51 72.28M53.51 69.38L55.27 69.38M53.51 72.28L55.41 72.28M48.86 74.46L48.86 75.91M45.08 70.83L45.08 75.19M45.08 70.83L53.51 70.83M45.08 75.19L48.86 75.19M57.02 78.82L57.02 80.27M53.69 77.37L53.69 79.54M53.69 79.54L57.02 79.54M52.09 78.45L52.09 81.72M52.09 78.45L53.69 78.45M52.14 83.17L52.14 84.62M47.37 80.09L47.37 83.90M47.37 80.09L52.09 80.09M47.37 83.90L52.14 83.90M41.77 73.01L41.77 81.99M41.77 73.01L45.08 73.01M41.77 81.99L47.37 81.99M35.90 77.50L35.90 86.07M35.90 77.50L41.77 77.50M30.70 64.48L30.70 81.79M30.70 64.48L38.70 64.48M30.70 81.79L35.90 81.79M25.30 59.22L25.30 73.14M25.30 59.22L31.30 59.22M25.30 73.14L30.70 73.14M16.40 47.43L16.40 66.18M16.40 47.43L26.10 47.43M16.40 66.18L25.30 66.18M55.11 91.63L55.11 93.08M47.79 92.35L47.79 94.53M47.79 92.35L55.11 92.35M56.22 95.98L56.22 97.43M54.43 96.70L54.43 98.88M54.43 96.70L56.22 96.70M53.80 101.78L53.80 103.23M52.17 100.33L52.17 102.51M52.17 102.51L53.80 102.51M48.82 97.79L48.82 101.42M48.82 97.79L54.43 97.79M48.82 101.42L52.17 101.42M56.27 107.59L56.27 109.04M54.89 106.13L54.89 108.31M54.89 108.31L56.27 108.31M52.80 104.68L52.80 107.22M52.80 107.22L54.89 107.22M53.63 111.94L53.63 113.39M50.16 110.49L50.16 112.66M50.16 112.66L53.63 112.66M46.87 105.95L46.87 111.58M46.87 105.95L52.80 105.95M46.87 111.58L50.16 111.58M44.45 99.61L44.45 108.76M44.45 99.61L48.82 99.61M44.45 108.76L46.87 108.76M42.47 104.18L42.47 114.84M42.47 104.18L44.45 104.18M34.50 93.44L34.50 109.51M34.50 93.44L47.79 93.44M34.50 109.51L42.47 109.51M51.83 117.74L51.83 119.19M48.19 116.29L48.19 118.47M48.19 118.47L51.83 118.47M52.58 120.64L52.58 122.09M55.12 123.55L55.12 125.00M53.96 126.45L53.96 127.90M52.15 124.27L52.15 127.17M52.15 124.27L55.12 124.27M52.15 127.17L53.96 127.17M45.82 121.37L45.82 125.72M45.82 121.37L52.58 121.37M45.82 125.72L52.15 125.72M40.61 117.38L40.61 123.55M40.61 117.38L48.19 117.38M40.61 123.55L45.82 123.55M53.53 130.80L53.53 132.25M50.82 129.35L50.82 131.53M50.82 131.53L53.53 131.53M54.94 133.70L54.94 135.15M52.80 134.43L52.80 136.60M52.80 134.43L54.94 134.43M47.06 130.44L47.06 135.52M47.06 130.44L50.82 130.44M47.06 135.52L52.80 135.52M54.67 140.96L54.67 142.41M57.50 143.86L57.50 145.31M57.39 146.76L57.39 148.21M56.22 144.58L56.22 147.49M56.22 144.58L57.50 144.58M56.22 147.49L57.39 147.49M51.98 141.68L51.98 146.03M51.98 141.68L54.67 141.68M51.98 146.03L56.22 146.03M50.10 139.51L50.10 143.86M50.10 143.86L51.98 143.86M47.52 138.05L47.52 141.68M47.52 141.68L50.10 141.68M40.88 132.98L40.88 139.87M40.88 132.98L47.06 132.98M40.88 139.87L47.52 139.87M49.73 151.11L49.73 152.56M43.62 149.66L43.62 151.84M43.62 151.84L49.73 151.84M36.83 136.42L36.83 150.75M36.83 136.42L40.88 136.42M36.83 150.75L43.62 150.75M33.50 120.46L33.50 143.59M33.50 120.46L40.61 120.46M33.50 143.59L36.83 143.59M31.40 101.48L31.40 132.02M31.40 101.48L34.50 101.48M31.40 132.02L33.50 132.02M55.94 156.92L55.94 158.37M52.38 157.64L52.38 159.82M52.38 157.64L55.94 157.64M46.37 155.47L46.37 158.73M46.37 158.73L52.38 158.73M49.83 161.27L49.83 162.72M38.50 157.10L38.50 161.99M38.50 157.10L46.37 157.10M38.50 161.99L49.83 161.99M30.00 154.01L30.00 159.55M30.00 159.55L38.50 159.55M27.20 116.75L27.20 156.78M27.20 116.75L31.40 116.75M27.20 156.78L30.00 156.78M52.04 164.17L52.04 165.62M40.45 164.90L40.45 167.07M40.45 164.90L52.04 164.90M41.35 168.52L41.35 169.97M28.00 165.98L28.00 169.25M28.00 165.98L40.45 165.98M28.00 169.25L41.35 169.25M24.60 136.77L24.60 167.62M24.60 136.77L27.20 136.77M24.60 167.62L28.00 167.62M53.28 176.67L53.28 178.11M47.20 175.22L47.20 177.39M47.20 177.39L53.28 177.39M54.46 179.56L54.46 181.00M51.48 180.28L51.48 182.45M51.48 180.28L54.46 180.28M35.33 176.31L35.33 181.36M35.33 176.31L47.20 176.31M35.33 181.36L51.48 181.36M53.47 183.89L53.47 185.34M48.88 186.78L48.88 188.23M45.00 184.62L45.00 187.51M45.00 184.62L53.47 184.62M45.00 187.51L48.88 187.51M26.30 178.84L26.30 186.06M26.30 178.84L35.33 178.84M26.30 186.06L45.00 186.06M45.32 189.68L45.32 191.12M51.55 194.01L51.55 195.46M43.83 192.57L43.83 194.73M43.83 194.73L51.55 194.73M31.00 190.40L31.00 193.65M31.00 190.40L45.32 190.40M31.00 193.65L43.83 193.65M52.63 196.90L52.63 198.35M52.35 201.24L52.35 202.68M49.18 199.79L49.18 201.96M49.18 201.96L52.35 201.96M40.78 197.62L40.78 200.88M40.78 197.62L52.63 197.62M40.78 200.88L49.18 200.88M53.75 204.13L53.75 205.57M45.09 204.85L45.09 207.02M45.09 204.85L53.75 204.85M34.39 199.25L34.39 205.93M34.39 199.25L40.78 199.25M34.39 205.93L45.09 205.93M54.38 208.46L54.38 209.91M51.92 209.19L51.92 211.35M51.92 209.19L54.38 209.19M46.45 212.80L46.45 214.24M40.62 210.27L40.62 213.52M40.62 210.27L51.92 210.27M40.62 213.52L46.45 213.52M55.29 215.69L55.29 217.13M53.21 216.41L53.21 218.58M53.21 216.41L55.29 216.41M55.59 220.02L55.59 221.47M53.83 220.75L53.83 222.92M53.83 220.75L55.59 220.75M46.13 217.50L46.13 221.83M46.13 217.50L53.21 217.50M46.13 221.83L53.83 221.83M42.49 219.66L42.49 224.36M42.49 219.66L46.13 219.66M37.26 211.90L37.26 222.01M37.26 211.90L40.62 211.90M37.26 222.01L42.49 222.01M31.00 202.59L31.00 216.95M31.00 202.59L34.39 202.59M31.00 216.95L37.26 216.95M52.54 225.81L52.54 227.25M56.11 230.14L56.11 231.59M54.40 230.86L54.40 233.03M54.40 230.86L56.11 230.86M52.66 228.70L52.66 231.95M52.66 231.95L54.40 231.95M43.57 226.53L43.57 230.32M43.57 226.53L52.54 226.53M43.57 230.32L52.66 230.32M51.86 234.48L51.86 235.92M51.79 237.37L51.79 238.81M57.70 241.70L57.70 243.15M56.33 240.26L56.33 242.43M56.33 242.43L57.70 242.43M54.36 241.34L54.36 244.59M54.36 241.34L56.33 241.34M48.14 238.09L48.14 242.97M48.14 238.09L51.79 238.09M48.14 242.97L54.36 242.97M43.01 235.20L43.01 240.53M43.01 235.20L51.86 235.20M43.01 240.53L48.14 240.53M40.45 228.43L40.45 237.86M40.45 228.43L43.57 228.43M40.45 237.86L43.01 237.86M54.44 246.04L54.44 247.48M55.28 248.93L55.28 250.38M56.86 251.82L56.86 253.27M53.17 249.65L53.17 252.54M53.17 249.65L55.28 249.65M53.17 252.54L56.86 252.54M56.10 254.71L56.10 256.16M51.32 255.43L51.32 257.60M51.32 255.43L56.10 255.43M48.32 251.10L48.32 256.52M48.32 251.10L53.17 251.10M48.32 256.52L51.32 256.52M46.91 246.76L46.91 253.81M46.91 246.76L54.44 246.76M46.91 253.81L48.32 253.81M46.62 259.05L46.62 260.49M41.40 250.28L41.40 259.77M41.40 250.28L46.91 250.28M41.40 259.77L46.62 259.77M33.50 233.15L33.50 255.03M33.50 233.15L40.45 233.15M33.50 255.03L41.40 255.03M52.51 261.94L52.51 263.38M56.93 266.27L56.93 267.72M55.41 264.83L55.41 267.00M55.41 267.00L56.93 267.00M57.36 269.16L57.36 270.61M57.20 272.05L57.20 273.50M54.72 269.89L54.72 272.78M54.72 269.89L57.36 269.89M54.72 272.78L57.20 272.78M49.92 265.91L49.92 271.33M49.92 265.91L55.41 265.91M49.92 271.33L54.72 271.33M47.81 262.66L47.81 268.62M47.81 262.66L52.51 262.66M47.81 268.62L49.92 268.62M54.95 274.94L54.95 276.39M55.79 277.83L55.79 279.28M53.59 278.56L53.59 280.72M53.59 278.56L55.79 278.56M48.46 275.67L48.46 279.64M48.46 275.67L54.95 275.67M48.46 279.64L53.59 279.64M44.84 265.64L44.84 277.65M44.84 265.64L47.81 265.64M44.84 277.65L48.46 277.65M56.58 282.17L56.58 283.62M53.14 282.89L53.14 285.06M53.14 282.89L56.58 282.89M50.05 283.98L50.05 286.51M50.05 283.98L53.14 283.98M56.94 289.40L56.94 290.84M55.44 287.95L55.44 290.12M55.44 290.12L56.94 290.12M52.55 289.04L52.55 292.29M52.55 289.04L55.44 289.04M46.00 285.24L46.00 290.66M46.00 285.24L50.05 285.24M46.00 290.66L52.55 290.66M41.22 271.65L41.22 287.95M41.22 271.65L44.84 271.65M41.22 287.95L46.00 287.95M43.58 293.73L43.58 295.18M30.00 279.80L30.00 294.45M30.00 279.80L41.22 279.80M30.00 294.45L43.58 294.45M28.00 244.09L28.00 287.13M28.00 244.09L33.50 244.09M28.00 287.13L30.00 287.13M26.50 209.77L26.50 265.61M26.50 209.77L31.00 209.77M26.50 265.61L28.00 265.61M21.80 192.02L21.80 237.69M21.80 192.02L31.00 192.02M21.80 237.69L26.50 237.69M19.60 182.45L19.60 214.86M19.60 182.45L26.30 182.45M19.60 214.86L21.80 214.86M15.40 152.19L15.40 198.65M15.40 152.19L24.60 152.19M15.40 198.65L19.60 198.65M55.38 301.69L55.38 303.14M50.50 300.23L50.50 302.41M50.50 302.41L55.38 302.41M54.26 304.60L54.26 306.06M54.06 307.51L54.06 308.97M45.23 305.33L45.23 308.24M45.23 305.33L54.26 305.33M45.23 308.24L54.06 308.24M52.07 311.89L52.07 313.34M46.92 310.43L46.92 312.61M46.92 312.61L52.07 312.61M40.08 306.79L40.08 311.52M40.08 306.79L45.23 306.79M40.08 311.52L46.92 311.52M33.00 301.32L33.00 309.15M33.00 301.32L50.50 301.32M33.00 309.15L40.08 309.15M53.95 317.71L53.95 319.17M53.95 320.63L53.95 322.09M49.83 318.44L49.83 321.36M49.83 318.44L53.95 318.44M49.83 321.36L53.95 321.36M44.57 316.26L44.57 319.90M44.57 319.90L49.83 319.90M55.18 323.54L55.18 325.00M50.72 324.27L50.72 326.46M50.72 324.27L55.18 324.27M42.55 318.08L42.55 325.36M42.55 318.08L44.57 318.08M42.55 325.36L50.72 325.36M40.21 314.80L40.21 321.72M40.21 321.72L42.55 321.72M50.71 327.91L50.71 329.37M56.21 330.83L56.21 332.29M52.16 331.56L52.16 333.74M52.16 331.56L56.21 331.56M41.75 328.64L41.75 332.65M41.75 328.64L50.71 328.64M41.75 332.65L52.16 332.65M34.00 318.26L34.00 330.65M34.00 318.26L40.21 318.26M34.00 330.65L41.75 330.65M29.50 305.24L29.50 324.45M29.50 305.24L33.00 305.24M29.50 324.45L34.00 324.45M43.81 335.20L43.81 336.66M54.65 339.57L54.65 341.03M47.12 338.11L47.12 340.30M47.12 340.30L54.65 340.30M36.00 335.93L36.00 339.21M36.00 335.93L43.81 335.93M36.00 339.21L47.12 339.21M48.54 342.49L48.54 343.94M43.46 343.21L43.46 345.40M43.46 343.21L48.54 343.21M52.72 348.31L52.72 349.77M49.51 346.86L49.51 349.04M49.51 349.04L52.72 349.04M36.00 344.31L36.00 347.95M36.00 344.31L43.46 344.31M36.00 347.95L49.51 347.95M26.60 337.57L26.60 346.13M26.60 337.57L36.00 337.57M26.60 346.13L36.00 346.13M22.40 314.85L22.40 341.85M22.40 314.85L29.50 314.85M22.40 341.85L26.60 341.85M52.31 355.12L52.31 356.55M47.63 357.98L47.63 359.41M42.82 355.83L42.82 358.69M42.82 355.83L52.31 355.83M42.82 358.69L47.63 358.69M47.27 360.84L47.27 362.27M53.23 363.70L53.23 365.13M50.96 364.42L50.96 366.56M50.96 364.42L53.23 364.42M41.47 361.55L41.47 365.49M41.47 361.55L47.27 361.55M41.47 365.49L50.96 365.49M36.30 357.26L36.30 363.52M36.30 357.26L42.82 357.26M36.30 363.52L41.47 363.52M44.85 367.99L44.85 369.42M49.60 370.85L49.60 372.28M45.16 371.57L45.16 373.72M45.16 371.57L49.60 371.57M39.50 368.71L39.50 372.64M39.50 368.71L44.85 368.71M39.50 372.64L45.16 372.64M56.00 376.58L56.00 378.01M52.87 375.15L52.87 377.29M52.87 377.29L56.00 377.29M41.58 376.22L41.58 379.44M41.58 376.22L52.87 376.22M32.80 370.67L32.80 377.83M32.80 370.67L39.50 370.67M32.80 377.83L41.58 377.83M51.65 382.30L51.65 383.73M48.26 383.02L48.26 385.16M48.26 383.02L51.65 383.02M50.78 386.59L50.78 388.02M50.63 389.45L50.63 390.88M46.85 387.31L46.85 390.17M46.85 387.31L50.78 387.31M46.85 390.17L50.63 390.17M37.15 384.09L37.15 388.74M37.15 384.09L48.26 384.09M37.15 388.74L46.85 388.74M30.00 380.87L30.00 386.41M30.00 386.41L37.15 386.41M22.50 374.25L22.50 383.64M22.50 374.25L32.80 374.25M22.50 383.64L30.00 383.64M21.00 360.39L21.00 378.95M21.00 360.39L36.30 360.39M21.00 378.95L22.50 378.95M48.58 396.43L48.58 397.88M55.79 399.33L55.79 400.79M53.32 400.06L53.32 402.24M53.32 400.06L55.79 400.06M47.41 401.15L47.41 403.69M47.41 401.15L53.32 401.15M30.00 397.15L30.00 402.42M30.00 397.15L48.58 397.15M30.00 402.42L47.41 402.42M52.04 405.14L52.04 406.60M42.34 405.87L42.34 408.05M42.34 405.87L52.04 405.87M48.72 409.50L48.72 410.96M33.00 406.96L33.00 410.23M33.00 406.96L42.34 406.96M33.00 410.23L48.72 410.23M54.84 412.41L54.84 413.86M53.38 415.31L53.38 416.77M49.47 413.14L49.47 416.04M49.47 413.14L54.84 413.14M49.47 416.04L53.38 416.04M47.67 418.22L47.67 419.67M33.00 414.59L33.00 418.95M33.00 414.59L49.47 414.59M33.00 418.95L47.67 418.95M29.30 408.59L29.30 416.77M29.30 408.59L33.00 408.59M29.30 416.77L33.00 416.77M17.40 399.79L17.40 412.68M17.40 399.79L30.00 399.79M17.40 412.68L29.30 412.68M13.90 369.67L13.90 406.23M13.90 369.67L21.00 369.67M13.90 406.23L17.40 406.23M12.60 328.35L12.60 387.95M12.60 328.35L22.40 328.35M12.60 387.95L13.90 387.95M11.80 175.42L11.80 358.15M11.80 175.42L15.40 175.42M11.80 358.15L12.60 358.15M11.20 56.80L11.20 266.79M11.20 56.80L16.40 56.80M11.20 266.79L11.80 266.79" stroke="#000" stroke-width="1.0" fill="none" stroke-linecap="square"/><path d="M54.18 39.63L65.00 39.63M54.18 41.08L65.00 41.08M49.61 42.53L65.00 42.53M51.53 43.98L65.00 43.98M51.53 45.43L65.00 45.43M40.76 46.88L65.00 46.88M44.69 48.33L65.00 48.33M44.69 49.79L65.00 49.79M53.07 51.24L65.00 51.24M53.07 52.69L65.00 52.69M53.31 54.14L65.00 54.14M53.31 55.59L65.00 55.59M45.73 57.04L65.00 57.04M45.73 58.50L65.00 58.50M48.28 59.95L65.00 59.95M48.28 61.40L65.00 61.40M52.36 64.30L65.00 64.30M52.36 65.75L65.00 65.75M45.81 67.20L65.00 67.20M38.70 62.85L65.00 62.85M55.27 68.66L65.00 68.66M55.27 70.11L65.00 70.11M55.41 71.56L65.00 71.56M55.41 73.01L65.00 73.01M48.86 74.46L65.00 74.46M48.86 75.91L65.00 75.91M57.02 78.82L65.00 78.82M57.02 80.27L65.00 80.27M53.69 77.37L65.00 77.37M52.09 81.72L65.00 81.72M52.14 83.17L65.00 83.17M52.14 84.62L65.00 84.62M35.90 86.07L65.00 86.07M55.11 91.63L65.00 91.63M55.11 93.08L65.00 93.08M47.79 94.53L65.00 94.53M56.22 95.98L65.00 95.98M56.22 97.43L65.00 97.43M54.43 98.88L65.00 98.88M53.80 101.78L65.00 101.78M53.80 103.23L65.00 103.23M52.17 100.33L65.00 100.33M56.27 107.59L65.00 107.59M56.27 109.04L65.00 109.04M54.89 106.13L65.00 106.13M52.80 104.68L65.00 104.68M53.63 111.94L65.00 111.94M53.63 113.39L65.00 113.39M50.16 110.49L65.00 110.49M42.47 114.84L65.00 114.84M51.83 117.74L65.00 117.74M51.83 119.19L65.00 119.19M48.19 116.29L65.00 116.29M52.58 120.64L65.00 120.64M52.58 122.09L65.00 122.09M55.12 123.55L65.00 123.55M55.12 125.00L65.00 125.00M53.96 126.45L65.00 126.45M53.96 127.90L65.00 127.90M53.53 130.80L65.00 130.80M53.53 132.25L65.00 132.25M50.82 129.35L65.00 129.35M54.94 133.70L65.00 133.70M54.94 135.15L65.00 135.15M52.80 136.60L65.00 136.60M54.67 140.96L65.00 140.96M54.67 142.41L65.00 142.41M57.50 143.86L65.00 143.86M57.50 145.31L65.00 145.31M57.39 146.76L65.00 146.76M57.39 148.21L65.00 148.21M50.10 139.51L65.00 139.51M47.52 138.05L65.00 138.05M49.73 151.11L65.00 151.11M49.73 152.56L65.00 152.56M43.62 149.66L65.00 149.66M55.94 156.92L65.00 156.92M55.94 158.37L65.00 158.37M52.38 159.82L65.00 159.82M46.37 155.47L65.00 155.47M49.83 161.27L65.00 161.27M49.83 162.72L65.00 162.72M30.00 154.01L65.00 154.01M52.04 164.17L65.00 164.17M52.04 165.62L65.00 165.62M40.45 167.07L65.00 167.07M41.35 168.52L65.00 168.52M41.35 169.97L65.00 169.97M53.28 176.67L65.00 176.67M53.28 178.11L65.00 178.11M47.20 175.22L65.00 175.22M54.46 179.56L65.00 179.56M54.46 181.00L65.00 181.00M51.48 182.45L65.00 182.45M53.47 183.89L65.00 183.89M53.47 185.34L65.00 185.34M48.88 186.78L65.00 186.78M48.88 188.23L65.00 188.23M45.32 189.68L65.00 189.68M45.32 191.12L65.00 191.12M51.55 194.01L65.00 194.01M51.55 195.46L65.00 195.46M43.83 192.57L65.00 192.57M52.63 196.90L65.00 196.90M52.63 198.35L65.00 198.35M52.35 201.24L65.00 201.24M52.35 202.68L65.00 202.68M49.18 199.79L65.00 199.79M53.75 204.13L65.00 204.13M53.75 205.57L65.00 205.57M45.09 207.02L65.00 207.02M54.38 208.46L65.00 208.46M54.38 209.91L65.00 209.91M51.92 211.35L65.00 211.35M46.45 212.80L65.00 212.80M46.45 214.24L65.00 214.24M55.29 215.69L65.00 215.69M55.29 217.13L65.00 217.13M53.21 218.58L65.00 218.58M55.59 220.02L65.00 220.02M55.59 221.47L65.00 221.47M53.83 222.92L65.00 222.92M42.49 224.36L65.00 224.36M52.54 225.81L65.00 225.81M52.54 227.25L65.00 227.25M56.11 230.14L65.00 230.14M56.11 231.59L65.00 231.59M54.40 233.03L65.00 233.03M52.66 228.70L65.00 228.70M51.86 234.48L65.00 234.48M51.86 235.92L65.00 235.92M51.79 237.37L65.00 237.37M51.79 238.81L65.00 238.81M57.70 241.70L65.00 241.70M57.70 243.15L65.00 243.15M56.33 240.26L65.00 240.26M54.36 244.59L65.00 244.59M54.44 246.04L65.00 246.04M54.44 247.48L65.00 247.48M55.28 248.93L65.00 248.93M55.28 250.38L65.00 250.38M56.86 251.82L65.00 251.82M56.86 253.27L65.00 253.27M56.10 254.71L65.00 254.71M56.10 256.16L65.00 256.16M51.32 257.60L65.00 257.60M46.62 259.05L65.00 259.05M46.62 260.49L65.00 260.49M52.51 261.94L65.00 261.94M52.51 263.38L65.00 263.38M56.93 266.27L65.00 266.27M56.93 267.72L65.00 267.72M55.41 264.83L65.00 264.83M57.36 269.16L65.00 269.16M57.36 270.61L65.00 270.61M57.20 272.05L65.00 272.05M57.20 273.50L65.00 273.50M54.95 274.94L65.00 274.94M54.95 276.39L65.00 276.39M55.79 277.83L65.00 277.83M55.79 279.28L65.00 279.28M53.59 280.72L65.00 280.72M56.58 282.17L65.00 282.17M56.58 283.62L65.00 283.62M53.14 285.06L65.00 285.06M50.05 286.51L65.00 286.51M56.94 289.40L65.00 289.40M56.94 290.84L65.00 290.84M55.44 287.95L65.00 287.95M52.55 292.29L65.00 292.29M43.58 293.73L65.00 293.73M43.58 295.18L65.00 295.18M55.38 301.69L65.00 301.69M55.38 303.14L65.00 303.14M50.50 300.23L65.00 300.23M54.26 304.60L65.00 304.60M54.26 306.06L65.00 306.06M54.06 307.51L65.00 307.51M54.06 308.97L65.00 308.97M52.07 311.89L65.00 311.89M52.07 313.34L65.00 313.34M46.92 310.43L65.00 310.43M53.95 317.71L65.00 317.71M53.95 319.17L65.00 319.17M53.95 320.63L65.00 320.63M53.95 322.09L65.00 322.09M44.57 316.26L65.00 316.26M55.18 323.54L65.00 323.54M55.18 325.00L65.00 325.00M50.72 326.46L65.00 326.46M40.21 314.80L65.00 314.80M50.71 327.91L65.00 327.91M50.71 329.37L65.00 329.37M56.21 330.83L65.00 330.83M56.21 332.29L65.00 332.29M52.16 333.74L65.00 333.74M43.81 335.20L65.00 335.20M43.81 336.66L65.00 336.66M54.65 339.57L65.00 339.57M54.65 341.03L65.00 341.03M47.12 338.11L65.00 338.11M48.54 342.49L65.00 342.49M48.54 343.94L65.00 343.94M43.46 345.40L65.00 345.40M52.72 348.31L65.00 348.31M52.72 349.77L65.00 349.77M49.51 346.86L65.00 346.86M52.31 355.12L65.00 355.12M52.31 356.55L65.00 356.55M47.63 357.98L65.00 357.98M47.63 359.41L65.00 359.41M47.27 360.84L65.00 360.84M47.27 362.27L65.00 362.27M53.23 363.70L65.00 363.70M53.23 365.13L65.00 365.13M50.96 366.56L65.00 366.56M44.85 367.99L65.00 367.99M44.85 369.42L65.00 369.42M49.60 370.85L65.00 370.85M49.60 372.28L65.00 372.28M45.16 373.72L65.00 373.72M56.00 376.58L65.00 376.58M56.00 378.01L65.00 378.01M52.87 375.15L65.00 375.15M41.58 379.44L65.00 379.44M51.65 382.30L65.00 382.30M51.65 383.73L65.00 383.73M48.26 385.16L65.00 385.16M50.78 386.59L65.00 386.59M50.78 388.02L65.00 388.02M50.63 389.45L65.00 389.45M50.63 390.88L65.00 390.88M30.00 380.87L65.00 380.87M48.58 396.43L65.00 396.43M48.58 397.88L65.00 397.88M55.79 399.33L65.00 399.33M55.79 400.79L65.00 400.79M53.32 402.24L65.00 402.24M47.41 403.69L65.00 403.69M52.04 405.14L65.00 405.14M52.04 406.60L65.00 406.60M42.34 408.05L65.00 408.05M48.72 409.50L65.00 409.50M48.72 410.96L65.00 410.96M54.84 412.41L65.00 412.41M54.84 413.86L65.00 413.86M53.38 415.31L65.00 415.31M53.38 416.77L65.00 416.77M47.67 418.22L65.00 418.22M47.67 419.67L65.00 419.67" stroke="#000" stroke-width="1.25" fill="none" stroke-linecap="butt"/></g>
<g shape-rendering="crispEdges"><rect x="65.00" y="13.2" width="37.50" height="10.8" fill="#F0AB00"/><rect x="102.50" y="13.2" width="37.50" height="10.8" fill="#00D7B0"/><rect x="65.00" y="26.1" width="75.00" height="10.600000000000001" fill="#00CA00"/><rect x="143.30" y="13.2" width="37.50" height="10.8" fill="#F0AB00"/><rect x="180.80" y="13.2" width="37.50" height="10.8" fill="#00D7B0"/><rect x="143.30" y="26.1" width="75.00" height="10.600000000000001" fill="#FF80F2"/><rect x="221.60" y="13.2" width="37.50" height="10.8" fill="#F0AB00"/><rect x="259.10" y="13.2" width="37.50" height="10.8" fill="#00D7B0"/><rect x="221.60" y="26.1" width="75.00" height="10.600000000000001" fill="#C8A6F6"/><rect x="299.90" y="13.2" width="37.50" height="10.8" fill="#F0AB00"/><rect x="337.40" y="13.2" width="37.50" height="10.8" fill="#00D7B0"/><rect x="299.90" y="26.1" width="75.00" height="10.600000000000001" fill="#00CCFF"/><rect x="378.20" y="13.2" width="37.50" height="10.8" fill="#F0AB00"/><rect x="415.70" y="13.2" width="37.50" height="10.8" fill="#00D7B0"/><rect x="378.20" y="26.1" width="75.00" height="10.600000000000001" fill="#FA8C84"/></g>
<g class="lab"><text x="0" y="0" transform="translate(67.65,423.4) rotate(90)">M_2n_1</text><text x="0" y="0" transform="translate(80.15,423.4) rotate(90)">M_2n_2</text><text x="0" y="0" transform="translate(92.65,423.4) rotate(90)">M_2n_3</text><text x="0" y="0" transform="translate(105.15,423.4) rotate(90)">M_4n_1</text><text x="0" y="0" transform="translate(117.65,423.4) rotate(90)">M_4n_2</text><text x="0" y="0" transform="translate(130.15,423.4) rotate(90)">M_4n_3</text><text x="0" y="0" transform="translate(145.95,423.4) rotate(90)">L_2n_1</text><text x="0" y="0" transform="translate(158.45,423.4) rotate(90)">L_2n_2</text><text x="0" y="0" transform="translate(170.95,423.4) rotate(90)">L_2n_3</text><text x="0" y="0" transform="translate(183.45,423.4) rotate(90)">L_4n_1</text><text x="0" y="0" transform="translate(195.95,423.4) rotate(90)">L_4n_2</text><text x="0" y="0" transform="translate(208.45,423.4) rotate(90)">L_4n_3</text><text x="0" y="0" transform="translate(224.25,423.4) rotate(90)">B_2n_1</text><text x="0" y="0" transform="translate(236.75,423.4) rotate(90)">B_2n_2</text><text x="0" y="0" transform="translate(249.25,423.4) rotate(90)">B_2n_3</text><text x="0" y="0" transform="translate(261.75,423.4) rotate(90)">B_4n_1</text><text x="0" y="0" transform="translate(274.25,423.4) rotate(90)">B_4n_2</text><text x="0" y="0" transform="translate(286.75,423.4) rotate(90)">B_4n_3</text><text x="0" y="0" transform="translate(302.55,423.4) rotate(90)">P_2n_1</text><text x="0" y="0" transform="translate(315.05,423.4) rotate(90)">P_2n_2</text><text x="0" y="0" transform="translate(327.55,423.4) rotate(90)">P_2n_3</text><text x="0" y="0" transform="translate(340.05,423.4) rotate(90)">P_4n_1</text><text x="0" y="0" transform="translate(352.55,423.4) rotate(90)">P_4n_2</text><text x="0" y="0" transform="translate(365.05,423.4) rotate(90)">P_4n_3</text><text x="0" y="0" transform="translate(380.85,423.4) rotate(90)">G_2n_1</text><text x="0" y="0" transform="translate(393.35,423.4) rotate(90)">G_2n_2</text><text x="0" y="0" transform="translate(405.85,423.4) rotate(90)">G_2n_3</text><text x="0" y="0" transform="translate(418.35,423.4) rotate(90)">G_4n_1</text><text x="0" y="0" transform="translate(430.85,423.4) rotate(90)">G_4n_2</text><text x="0" y="0" transform="translate(443.35,423.4) rotate(90)">G_4n_3</text></g>
<defs><linearGradient id="cb" x1="0" y1="1" x2="0" y2="0"><stop offset="0.0000" stop-color="#1F6FBF"/><stop offset="0.1667" stop-color="#7DBDE6"/><stop offset="0.3333" stop-color="#DCF2FA"/><stop offset="0.5000" stop-color="#FFFFBF"/><stop offset="0.6667" stop-color="#FEE08B"/><stop offset="0.8333" stop-color="#FD8A50"/><stop offset="1.0000" stop-color="#F2301F"/></linearGradient></defs><rect x="458.0" y="39.3" width="10.0" height="154.3" fill="url(#cb)"/>
<text x="456.4" y="22.5" class="bt">Ploid</text><text x="456.4" y="34.7" class="bt">Tissue</text><text x="472.2" y="60.1" class="lt">4</text><text x="472.2" y="90.5" class="lt">2</text><text x="472.2" y="120.9" class="lt">0</text><text x="472.2" y="151.3" class="lt">−2</text><text x="472.2" y="181.7" class="lt">−4</text><text x="488.1" y="47.0" class="bt">Ploid</text><rect x="487.2" y="50.6" width="15.2" height="14.8" fill="#F0AB00"/><rect x="487.2" y="65.4" width="15.2" height="14.8" fill="#00D7B0"/><text x="505.5" y="61.6" class="lt">2n</text><text x="505.5" y="76.4" class="lt">4n</text><text x="488.1" y="98.5" class="bt">Tissue</text><rect x="487.2" y="102.20" width="15.2" height="14.84" fill="#C8A6F6"/><text x="505.6" y="113.22" class="lt">Brain</text><rect x="487.2" y="117.04" width="15.2" height="14.84" fill="#FA8C84"/><text x="505.6" y="128.06" class="lt">Gonad</text><rect x="487.2" y="131.88" width="15.2" height="14.84" fill="#FF80F2"/><text x="505.6" y="142.9" class="lt">Liver</text><rect x="487.2" y="146.72" width="15.2" height="14.84" fill="#00CA00"/><text x="505.6" y="157.74" class="lt">Muscle</text><rect x="487.2" y="161.56" width="15.2" height="14.84" fill="#00CCFF"/><text x="505.6" y="172.58" class="lt">Pituitary</text>
</svg>
</body></html>
